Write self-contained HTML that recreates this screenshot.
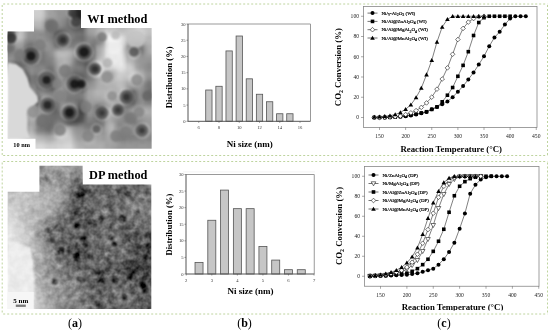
<!DOCTYPE html>
<html><head><meta charset="utf-8"><title>Figure</title>
<style>
html,body{margin:0;padding:0;background:#fff;}
body{width:550px;height:332px;overflow:hidden;position:relative;}
svg{position:absolute;left:0;top:0;display:block;}
</style></head>
<body>
<svg width="550" height="332" viewBox="0 0 550 332">
<defs><clipPath id="ct"><path d="M34 10H81V28H151.7V148.8H35.5V138.8H7.6V31.5H34Z"/></clipPath><clipPath id="cbt"><path d="M39.4 165.7H82.7V184.6H151.3V309H7.7V191.8H39.4Z"/></clipPath><filter id="bt2" x="-10%" y="-10%" width="120%" height="120%" color-interpolation-filters="sRGB"><feGaussianBlur stdDeviation="1.2"/></filter><filter id="bp" x="-30%" y="-30%" width="160%" height="160%" color-interpolation-filters="sRGB"><feGaussianBlur stdDeviation="1.1"/></filter><filter id="tx1" x="0" y="0" width="100%" height="100%" color-interpolation-filters="sRGB"><feTurbulence type="fractalNoise" baseFrequency="0.15" numOctaves="2" seed="11" result="n"/><feColorMatrix in="n" type="matrix" values="1 0 0 0 0  1 0 0 0 0  1 0 0 0 0  0 0 0 0 1" result="ng"/><feComposite in="SourceGraphic" in2="ng" operator="arithmetic" k1="-0.6" k2="1.3" k3="0.6" k4="-0.3"/></filter><filter id="tx2" x="0" y="0" width="100%" height="100%" color-interpolation-filters="sRGB"><feTurbulence type="fractalNoise" baseFrequency="0.1" numOctaves="3" seed="5" result="n"/><feColorMatrix in="n" type="matrix" values="1 0 0 0 0  1 0 0 0 0  1 0 0 0 0  0 0 0 0 1" result="ng"/><feComposite in="SourceGraphic" in2="ng" operator="arithmetic" k1="-1.3" k2="1.65" k3="1.3" k4="-0.65"/></filter></defs>
<g clip-path="url(#ct)">
<g filter="url(#bt2)"><rect x="6" y="9" width="3.3" height="3.3" fill="#272727"/><rect x="9" y="9" width="3.3" height="3.3" fill="#2b2b2b"/><rect x="12" y="9" width="3.3" height="3.3" fill="#4e4e4e"/><rect x="15" y="9" width="3.3" height="3.3" fill="#c4c4c4"/><rect x="18" y="9" width="21.3" height="3.3" fill="#cfcfcf"/><rect x="39" y="9" width="3.3" height="3.3" fill="#cdcdcd"/><rect x="42" y="9" width="3.3" height="3.3" fill="#c4c4c4"/><rect x="45" y="9" width="3.3" height="3.3" fill="#a9a9a9"/><rect x="48" y="9" width="3.3" height="3.3" fill="#a3a3a3"/><rect x="51" y="9" width="3.3" height="3.3" fill="#9f9f9f"/><rect x="54" y="9" width="3.3" height="3.3" fill="#989898"/><rect x="57" y="9" width="9.3" height="3.3" fill="#949494"/><rect x="66" y="9" width="3.3" height="3.3" fill="#8d8d8d"/><rect x="69" y="9" width="3.3" height="3.3" fill="#858585"/><rect x="72" y="9" width="3.3" height="3.3" fill="#555555"/><rect x="75" y="9" width="3.3" height="3.3" fill="#232323"/><rect x="78" y="9" width="3.3" height="3.3" fill="#0d0d0d"/><rect x="81" y="9" width="6.3" height="3.3" fill="#181818"/><rect x="87" y="9" width="9.3" height="3.3" fill="#1a1a1a"/><rect x="96" y="9" width="3.3" height="3.3" fill="#1d1d1d"/><rect x="99" y="9" width="3.3" height="3.3" fill="#646464"/><rect x="102" y="9" width="3.3" height="3.3" fill="#b1b1b1"/><rect x="105" y="9" width="3.3" height="3.3" fill="#bebebe"/><rect x="108" y="9" width="6.3" height="3.3" fill="#c3c3c3"/><rect x="114" y="9" width="3.3" height="3.3" fill="#bdbdbd"/><rect x="117" y="9" width="6.3" height="3.3" fill="#b9b9b9"/><rect x="123" y="9" width="3.3" height="3.3" fill="#bdbdbd"/><rect x="126" y="9" width="3.3" height="3.3" fill="#c2c2c2"/><rect x="129" y="9" width="3.3" height="3.3" fill="#c4c4c4"/><rect x="132" y="9" width="3.3" height="3.3" fill="#c6c6c6"/><rect x="135" y="9" width="3.3" height="3.3" fill="#cccccc"/><rect x="138" y="9" width="3.3" height="3.3" fill="#cecece"/><rect x="141" y="9" width="3.3" height="3.3" fill="#cccccc"/><rect x="144" y="9" width="3.3" height="3.3" fill="#c7c7c7"/><rect x="147" y="9" width="6.3" height="3.3" fill="#c4c4c4"/><rect x="6" y="12" width="3.3" height="3.3" fill="#272727"/><rect x="9" y="12" width="3.3" height="3.3" fill="#2b2b2b"/><rect x="12" y="12" width="3.3" height="3.3" fill="#4c4c4c"/><rect x="15" y="12" width="3.3" height="3.3" fill="#a0a0a0"/><rect x="18" y="12" width="3.3" height="3.3" fill="#cbcbcb"/><rect x="21" y="12" width="21.3" height="3.3" fill="#cecece"/><rect x="42" y="12" width="3.3" height="3.3" fill="#c4c4c4"/><rect x="45" y="12" width="3.3" height="3.3" fill="#adadad"/><rect x="48" y="12" width="6.3" height="3.3" fill="#a0a0a0"/><rect x="54" y="12" width="3.3" height="3.3" fill="#9c9c9c"/><rect x="57" y="12" width="9.3" height="3.3" fill="#939393"/><rect x="66" y="12" width="3.3" height="3.3" fill="#8e8e8e"/><rect x="69" y="12" width="3.3" height="3.3" fill="#868686"/><rect x="72" y="12" width="3.3" height="3.3" fill="#525252"/><rect x="75" y="12" width="3.3" height="3.3" fill="#1c1c1c"/><rect x="78" y="12" width="3.3" height="3.3" fill="#040404"/><rect x="81" y="12" width="6.3" height="3.3" fill="#181818"/><rect x="87" y="12" width="6.3" height="3.3" fill="#1a1a1a"/><rect x="93" y="12" width="3.3" height="3.3" fill="#1c1c1c"/><rect x="96" y="12" width="3.3" height="3.3" fill="#4a4a4a"/><rect x="99" y="12" width="3.3" height="3.3" fill="#aaaaaa"/><rect x="102" y="12" width="3.3" height="3.3" fill="#b2b2b2"/><rect x="105" y="12" width="3.3" height="3.3" fill="#bebebe"/><rect x="108" y="12" width="6.3" height="3.3" fill="#c3c3c3"/><rect x="114" y="12" width="3.3" height="3.3" fill="#bdbdbd"/><rect x="117" y="12" width="6.3" height="3.3" fill="#b9b9b9"/><rect x="123" y="12" width="3.3" height="3.3" fill="#bdbdbd"/><rect x="126" y="12" width="3.3" height="3.3" fill="#c2c2c2"/><rect x="129" y="12" width="3.3" height="3.3" fill="#c4c4c4"/><rect x="132" y="12" width="3.3" height="3.3" fill="#c6c6c6"/><rect x="135" y="12" width="3.3" height="3.3" fill="#cccccc"/><rect x="138" y="12" width="3.3" height="3.3" fill="#cecece"/><rect x="141" y="12" width="3.3" height="3.3" fill="#cccccc"/><rect x="144" y="12" width="3.3" height="3.3" fill="#c7c7c7"/><rect x="147" y="12" width="6.3" height="3.3" fill="#c4c4c4"/><rect x="6" y="15" width="3.3" height="3.3" fill="#272727"/><rect x="9" y="15" width="3.3" height="3.3" fill="#2b2b2b"/><rect x="12" y="15" width="3.3" height="3.3" fill="#4c4c4c"/><rect x="15" y="15" width="3.3" height="3.3" fill="#9e9e9e"/><rect x="18" y="15" width="3.3" height="3.3" fill="#bfbfbf"/><rect x="21" y="15" width="3.3" height="3.3" fill="#cacaca"/><rect x="24" y="15" width="15.3" height="3.3" fill="#cdcdcd"/><rect x="39" y="15" width="3.3" height="3.3" fill="#cbcbcb"/><rect x="42" y="15" width="3.3" height="3.3" fill="#c2c2c2"/><rect x="45" y="15" width="3.3" height="3.3" fill="#acacac"/><rect x="48" y="15" width="3.3" height="3.3" fill="#a2a2a2"/><rect x="51" y="15" width="3.3" height="3.3" fill="#9f9f9f"/><rect x="54" y="15" width="3.3" height="3.3" fill="#9d9d9d"/><rect x="57" y="15" width="3.3" height="3.3" fill="#959595"/><rect x="60" y="15" width="3.3" height="3.3" fill="#939393"/><rect x="63" y="15" width="3.3" height="3.3" fill="#909090"/><rect x="66" y="15" width="3.3" height="3.3" fill="#8a8a8a"/><rect x="69" y="15" width="3.3" height="3.3" fill="#7d7d7d"/><rect x="72" y="15" width="3.3" height="3.3" fill="#4b4b4b"/><rect x="75" y="15" width="3.3" height="3.3" fill="#151515"/><rect x="78" y="15" width="3.3" height="3.3" fill="#000000"/><rect x="81" y="15" width="6.3" height="3.3" fill="#191919"/><rect x="87" y="15" width="3.3" height="3.3" fill="#1b1b1b"/><rect x="90" y="15" width="3.3" height="3.3" fill="#1e1e1e"/><rect x="93" y="15" width="3.3" height="3.3" fill="#464646"/><rect x="96" y="15" width="3.3" height="3.3" fill="#a5a5a5"/><rect x="99" y="15" width="3.3" height="3.3" fill="#adadad"/><rect x="102" y="15" width="3.3" height="3.3" fill="#b2b2b2"/><rect x="105" y="15" width="3.3" height="3.3" fill="#bebebe"/><rect x="108" y="15" width="6.3" height="3.3" fill="#c3c3c3"/><rect x="114" y="15" width="3.3" height="3.3" fill="#bdbdbd"/><rect x="117" y="15" width="6.3" height="3.3" fill="#b9b9b9"/><rect x="123" y="15" width="3.3" height="3.3" fill="#bdbdbd"/><rect x="126" y="15" width="3.3" height="3.3" fill="#c2c2c2"/><rect x="129" y="15" width="3.3" height="3.3" fill="#c4c4c4"/><rect x="132" y="15" width="3.3" height="3.3" fill="#c6c6c6"/><rect x="135" y="15" width="3.3" height="3.3" fill="#cccccc"/><rect x="138" y="15" width="3.3" height="3.3" fill="#cecece"/><rect x="141" y="15" width="3.3" height="3.3" fill="#cccccc"/><rect x="144" y="15" width="3.3" height="3.3" fill="#c7c7c7"/><rect x="147" y="15" width="6.3" height="3.3" fill="#c4c4c4"/><rect x="6" y="18" width="3.3" height="3.3" fill="#272727"/><rect x="9" y="18" width="3.3" height="3.3" fill="#2b2b2b"/><rect x="12" y="18" width="3.3" height="3.3" fill="#4c4c4c"/><rect x="15" y="18" width="3.3" height="3.3" fill="#9e9e9e"/><rect x="18" y="18" width="9.3" height="3.3" fill="#bebebe"/><rect x="27" y="18" width="15.3" height="3.3" fill="#c5c5c5"/><rect x="42" y="18" width="3.3" height="3.3" fill="#b7b7b7"/><rect x="45" y="18" width="3.3" height="3.3" fill="#999999"/><rect x="48" y="18" width="3.3" height="3.3" fill="#8d8d8d"/><rect x="51" y="18" width="3.3" height="3.3" fill="#8f8f8f"/><rect x="54" y="18" width="6.3" height="3.3" fill="#959595"/><rect x="60" y="18" width="3.3" height="3.3" fill="#8f8f8f"/><rect x="63" y="18" width="3.3" height="3.3" fill="#898989"/><rect x="66" y="18" width="3.3" height="3.3" fill="#7c7c7c"/><rect x="69" y="18" width="3.3" height="3.3" fill="#727272"/><rect x="72" y="18" width="3.3" height="3.3" fill="#4b4b4b"/><rect x="75" y="18" width="3.3" height="3.3" fill="#202020"/><rect x="78" y="18" width="3.3" height="3.3" fill="#0e0e0e"/><rect x="81" y="18" width="6.3" height="3.3" fill="#212121"/><rect x="87" y="18" width="3.3" height="3.3" fill="#2a2a2a"/><rect x="90" y="18" width="3.3" height="3.3" fill="#656565"/><rect x="93" y="18" width="3.3" height="3.3" fill="#a0a0a0"/><rect x="96" y="18" width="3.3" height="3.3" fill="#ababab"/><rect x="99" y="18" width="3.3" height="3.3" fill="#aeaeae"/><rect x="102" y="18" width="3.3" height="3.3" fill="#b2b2b2"/><rect x="105" y="18" width="3.3" height="3.3" fill="#bebebe"/><rect x="108" y="18" width="6.3" height="3.3" fill="#c3c3c3"/><rect x="114" y="18" width="3.3" height="3.3" fill="#bdbdbd"/><rect x="117" y="18" width="6.3" height="3.3" fill="#b9b9b9"/><rect x="123" y="18" width="3.3" height="3.3" fill="#bdbdbd"/><rect x="126" y="18" width="3.3" height="3.3" fill="#c2c2c2"/><rect x="129" y="18" width="3.3" height="3.3" fill="#c4c4c4"/><rect x="132" y="18" width="3.3" height="3.3" fill="#c6c6c6"/><rect x="135" y="18" width="3.3" height="3.3" fill="#cccccc"/><rect x="138" y="18" width="3.3" height="3.3" fill="#cecece"/><rect x="141" y="18" width="3.3" height="3.3" fill="#cccccc"/><rect x="144" y="18" width="3.3" height="3.3" fill="#c7c7c7"/><rect x="147" y="18" width="6.3" height="3.3" fill="#c4c4c4"/><rect x="6" y="21" width="3.3" height="3.3" fill="#272727"/><rect x="9" y="21" width="3.3" height="3.3" fill="#2b2b2b"/><rect x="12" y="21" width="3.3" height="3.3" fill="#4c4c4c"/><rect x="15" y="21" width="3.3" height="3.3" fill="#9e9e9e"/><rect x="18" y="21" width="6.3" height="3.3" fill="#bebebe"/><rect x="24" y="21" width="3.3" height="3.3" fill="#a8a8a8"/><rect x="27" y="21" width="3.3" height="3.3" fill="#afafaf"/><rect x="30" y="21" width="3.3" height="3.3" fill="#b9b9b9"/><rect x="33" y="21" width="6.3" height="3.3" fill="#bbbbbb"/><rect x="39" y="21" width="3.3" height="3.3" fill="#b9b9b9"/><rect x="42" y="21" width="3.3" height="3.3" fill="#a9a9a9"/><rect x="45" y="21" width="3.3" height="3.3" fill="#7e7e7e"/><rect x="48" y="21" width="3.3" height="3.3" fill="#717171"/><rect x="51" y="21" width="3.3" height="3.3" fill="#737373"/><rect x="54" y="21" width="3.3" height="3.3" fill="#888888"/><rect x="57" y="21" width="3.3" height="3.3" fill="#919191"/><rect x="60" y="21" width="3.3" height="3.3" fill="#8c8c8c"/><rect x="63" y="21" width="3.3" height="3.3" fill="#848484"/><rect x="66" y="21" width="3.3" height="3.3" fill="#777777"/><rect x="69" y="21" width="3.3" height="3.3" fill="#6f6f6f"/><rect x="72" y="21" width="3.3" height="3.3" fill="#555555"/><rect x="75" y="21" width="3.3" height="3.3" fill="#3a3a3a"/><rect x="78" y="21" width="3.3" height="3.3" fill="#2c2c2c"/><rect x="81" y="21" width="3.3" height="3.3" fill="#3e3e3e"/><rect x="84" y="21" width="3.3" height="3.3" fill="#484848"/><rect x="87" y="21" width="3.3" height="3.3" fill="#818181"/><rect x="90" y="21" width="3.3" height="3.3" fill="#9f9f9f"/><rect x="93" y="21" width="3.3" height="3.3" fill="#a6a6a6"/><rect x="96" y="21" width="3.3" height="3.3" fill="#acacac"/><rect x="99" y="21" width="3.3" height="3.3" fill="#aeaeae"/><rect x="102" y="21" width="3.3" height="3.3" fill="#b2b2b2"/><rect x="105" y="21" width="3.3" height="3.3" fill="#bebebe"/><rect x="108" y="21" width="6.3" height="3.3" fill="#c3c3c3"/><rect x="114" y="21" width="3.3" height="3.3" fill="#bdbdbd"/><rect x="117" y="21" width="6.3" height="3.3" fill="#b9b9b9"/><rect x="123" y="21" width="3.3" height="3.3" fill="#bdbdbd"/><rect x="126" y="21" width="3.3" height="3.3" fill="#c2c2c2"/><rect x="129" y="21" width="3.3" height="3.3" fill="#c4c4c4"/><rect x="132" y="21" width="3.3" height="3.3" fill="#c6c6c6"/><rect x="135" y="21" width="3.3" height="3.3" fill="#cccccc"/><rect x="138" y="21" width="3.3" height="3.3" fill="#cecece"/><rect x="141" y="21" width="3.3" height="3.3" fill="#cccccc"/><rect x="144" y="21" width="3.3" height="3.3" fill="#c7c7c7"/><rect x="147" y="21" width="6.3" height="3.3" fill="#c4c4c4"/><rect x="6" y="24" width="3.3" height="3.3" fill="#272727"/><rect x="9" y="24" width="3.3" height="3.3" fill="#2b2b2b"/><rect x="12" y="24" width="3.3" height="3.3" fill="#4c4c4c"/><rect x="15" y="24" width="3.3" height="3.3" fill="#9e9e9e"/><rect x="18" y="24" width="6.3" height="3.3" fill="#bebebe"/><rect x="24" y="24" width="3.3" height="3.3" fill="#a6a6a6"/><rect x="27" y="24" width="3.3" height="3.3" fill="#9a9a9a"/><rect x="30" y="24" width="3.3" height="3.3" fill="#acacac"/><rect x="33" y="24" width="9.3" height="3.3" fill="#b6b6b6"/><rect x="42" y="24" width="3.3" height="3.3" fill="#a4a4a4"/><rect x="45" y="24" width="3.3" height="3.3" fill="#7b7b7b"/><rect x="48" y="24" width="3.3" height="3.3" fill="#656565"/><rect x="51" y="24" width="3.3" height="3.3" fill="#6c6c6c"/><rect x="54" y="24" width="3.3" height="3.3" fill="#808080"/><rect x="57" y="24" width="3.3" height="3.3" fill="#8d8d8d"/><rect x="60" y="24" width="3.3" height="3.3" fill="#898989"/><rect x="63" y="24" width="3.3" height="3.3" fill="#808080"/><rect x="66" y="24" width="3.3" height="3.3" fill="#737373"/><rect x="69" y="24" width="3.3" height="3.3" fill="#707070"/><rect x="72" y="24" width="3.3" height="3.3" fill="#595959"/><rect x="75" y="24" width="3.3" height="3.3" fill="#4b4b4b"/><rect x="78" y="24" width="3.3" height="3.3" fill="#464646"/><rect x="81" y="24" width="3.3" height="3.3" fill="#535353"/><rect x="84" y="24" width="3.3" height="3.3" fill="#727272"/><rect x="87" y="24" width="3.3" height="3.3" fill="#9a9a9a"/><rect x="90" y="24" width="3.3" height="3.3" fill="#a2a2a2"/><rect x="93" y="24" width="3.3" height="3.3" fill="#a6a6a6"/><rect x="96" y="24" width="6.3" height="3.3" fill="#acacac"/><rect x="102" y="24" width="3.3" height="3.3" fill="#b2b2b2"/><rect x="105" y="24" width="3.3" height="3.3" fill="#bebebe"/><rect x="108" y="24" width="6.3" height="3.3" fill="#c3c3c3"/><rect x="114" y="24" width="3.3" height="3.3" fill="#bdbdbd"/><rect x="117" y="24" width="6.3" height="3.3" fill="#b9b9b9"/><rect x="123" y="24" width="3.3" height="3.3" fill="#bdbdbd"/><rect x="126" y="24" width="3.3" height="3.3" fill="#c2c2c2"/><rect x="129" y="24" width="3.3" height="3.3" fill="#c4c4c4"/><rect x="132" y="24" width="3.3" height="3.3" fill="#c6c6c6"/><rect x="135" y="24" width="3.3" height="3.3" fill="#cccccc"/><rect x="138" y="24" width="3.3" height="3.3" fill="#cecece"/><rect x="141" y="24" width="3.3" height="3.3" fill="#cccccc"/><rect x="144" y="24" width="3.3" height="3.3" fill="#c7c7c7"/><rect x="147" y="24" width="6.3" height="3.3" fill="#c4c4c4"/><rect x="6" y="27" width="3.3" height="3.3" fill="#272727"/><rect x="9" y="27" width="3.3" height="3.3" fill="#2b2b2b"/><rect x="12" y="27" width="3.3" height="3.3" fill="#4c4c4c"/><rect x="15" y="27" width="3.3" height="3.3" fill="#9e9e9e"/><rect x="18" y="27" width="6.3" height="3.3" fill="#bebebe"/><rect x="24" y="27" width="3.3" height="3.3" fill="#a5a5a5"/><rect x="27" y="27" width="3.3" height="3.3" fill="#959595"/><rect x="30" y="27" width="3.3" height="3.3" fill="#979797"/><rect x="33" y="27" width="3.3" height="3.3" fill="#a7a7a7"/><rect x="36" y="27" width="6.3" height="3.3" fill="#acacac"/><rect x="42" y="27" width="3.3" height="3.3" fill="#a1a1a1"/><rect x="45" y="27" width="3.3" height="3.3" fill="#7e7e7e"/><rect x="48" y="27" width="3.3" height="3.3" fill="#6a6a6a"/><rect x="51" y="27" width="3.3" height="3.3" fill="#6e6e6e"/><rect x="54" y="27" width="3.3" height="3.3" fill="#757575"/><rect x="57" y="27" width="3.3" height="3.3" fill="#7c7c7c"/><rect x="60" y="27" width="3.3" height="3.3" fill="#797979"/><rect x="63" y="27" width="3.3" height="3.3" fill="#757575"/><rect x="66" y="27" width="3.3" height="3.3" fill="#737373"/><rect x="69" y="27" width="3.3" height="3.3" fill="#6e6e6e"/><rect x="72" y="27" width="3.3" height="3.3" fill="#636363"/><rect x="75" y="27" width="6.3" height="3.3" fill="#585858"/><rect x="81" y="27" width="3.3" height="3.3" fill="#5f5f5f"/><rect x="84" y="27" width="3.3" height="3.3" fill="#808080"/><rect x="87" y="27" width="3.3" height="3.3" fill="#9d9d9d"/><rect x="90" y="27" width="3.3" height="3.3" fill="#a2a2a2"/><rect x="93" y="27" width="3.3" height="3.3" fill="#a4a4a4"/><rect x="96" y="27" width="3.3" height="3.3" fill="#aeaeae"/><rect x="99" y="27" width="3.3" height="3.3" fill="#b4b4b4"/><rect x="102" y="27" width="3.3" height="3.3" fill="#b7b7b7"/><rect x="105" y="27" width="9.3" height="3.3" fill="#c2c2c2"/><rect x="114" y="27" width="3.3" height="3.3" fill="#c0c0c0"/><rect x="117" y="27" width="9.3" height="3.3" fill="#bbbbbb"/><rect x="126" y="27" width="3.3" height="3.3" fill="#c2c2c2"/><rect x="129" y="27" width="3.3" height="3.3" fill="#c4c4c4"/><rect x="132" y="27" width="3.3" height="3.3" fill="#c8c8c8"/><rect x="135" y="27" width="3.3" height="3.3" fill="#cfcfcf"/><rect x="138" y="27" width="3.3" height="3.3" fill="#d3d3d3"/><rect x="141" y="27" width="3.3" height="3.3" fill="#cccccc"/><rect x="144" y="27" width="3.3" height="3.3" fill="#c7c7c7"/><rect x="147" y="27" width="6.3" height="3.3" fill="#c4c4c4"/><rect x="6" y="30" width="3.3" height="3.3" fill="#292929"/><rect x="9" y="30" width="3.3" height="3.3" fill="#2c2c2c"/><rect x="12" y="30" width="3.3" height="3.3" fill="#505050"/><rect x="15" y="30" width="3.3" height="3.3" fill="#a3a3a3"/><rect x="18" y="30" width="3.3" height="3.3" fill="#c1c1c1"/><rect x="21" y="30" width="3.3" height="3.3" fill="#bbbbbb"/><rect x="24" y="30" width="3.3" height="3.3" fill="#a5a5a5"/><rect x="27" y="30" width="3.3" height="3.3" fill="#949494"/><rect x="30" y="30" width="3.3" height="3.3" fill="#8f8f8f"/><rect x="33" y="30" width="3.3" height="3.3" fill="#949494"/><rect x="36" y="30" width="3.3" height="3.3" fill="#929292"/><rect x="39" y="30" width="3.3" height="3.3" fill="#979797"/><rect x="42" y="30" width="3.3" height="3.3" fill="#929292"/><rect x="45" y="30" width="3.3" height="3.3" fill="#808080"/><rect x="48" y="30" width="3.3" height="3.3" fill="#7a7a7a"/><rect x="51" y="30" width="3.3" height="3.3" fill="#747474"/><rect x="54" y="30" width="3.3" height="3.3" fill="#646464"/><rect x="57" y="30" width="6.3" height="3.3" fill="#5e5e5e"/><rect x="63" y="30" width="3.3" height="3.3" fill="#6a6a6a"/><rect x="66" y="30" width="3.3" height="3.3" fill="#737373"/><rect x="69" y="30" width="3.3" height="3.3" fill="#767676"/><rect x="72" y="30" width="3.3" height="3.3" fill="#6e6e6e"/><rect x="75" y="30" width="6.3" height="3.3" fill="#6a6a6a"/><rect x="81" y="30" width="3.3" height="3.3" fill="#686868"/><rect x="84" y="30" width="3.3" height="3.3" fill="#848484"/><rect x="87" y="30" width="3.3" height="3.3" fill="#9c9c9c"/><rect x="90" y="30" width="3.3" height="3.3" fill="#a1a1a1"/><rect x="93" y="30" width="3.3" height="3.3" fill="#a5a5a5"/><rect x="96" y="30" width="3.3" height="3.3" fill="#b3b3b3"/><rect x="99" y="30" width="3.3" height="3.3" fill="#bebebe"/><rect x="102" y="30" width="3.3" height="3.3" fill="#c7c7c7"/><rect x="105" y="30" width="3.3" height="3.3" fill="#d1d1d1"/><rect x="108" y="30" width="3.3" height="3.3" fill="#cacaca"/><rect x="111" y="30" width="6.3" height="3.3" fill="#cfcfcf"/><rect x="117" y="30" width="3.3" height="3.3" fill="#c4c4c4"/><rect x="120" y="30" width="3.3" height="3.3" fill="#bebebe"/><rect x="123" y="30" width="3.3" height="3.3" fill="#c1c1c1"/><rect x="126" y="30" width="3.3" height="3.3" fill="#c3c3c3"/><rect x="129" y="30" width="3.3" height="3.3" fill="#c8c8c8"/><rect x="132" y="30" width="3.3" height="3.3" fill="#cccccc"/><rect x="135" y="30" width="6.3" height="3.3" fill="#d3d3d3"/><rect x="141" y="30" width="3.3" height="3.3" fill="#d1d1d1"/><rect x="144" y="30" width="3.3" height="3.3" fill="#c9c9c9"/><rect x="147" y="30" width="6.3" height="3.3" fill="#c3c3c3"/><rect x="6" y="33" width="3.3" height="3.3" fill="#353535"/><rect x="9" y="33" width="3.3" height="3.3" fill="#404040"/><rect x="12" y="33" width="3.3" height="3.3" fill="#606060"/><rect x="15" y="33" width="3.3" height="3.3" fill="#acacac"/><rect x="18" y="33" width="3.3" height="3.3" fill="#c5c5c5"/><rect x="21" y="33" width="3.3" height="3.3" fill="#bbbbbb"/><rect x="24" y="33" width="3.3" height="3.3" fill="#a5a5a5"/><rect x="27" y="33" width="6.3" height="3.3" fill="#929292"/><rect x="33" y="33" width="6.3" height="3.3" fill="#8f8f8f"/><rect x="39" y="33" width="6.3" height="3.3" fill="#8b8b8b"/><rect x="45" y="33" width="3.3" height="3.3" fill="#848484"/><rect x="48" y="33" width="3.3" height="3.3" fill="#7f7f7f"/><rect x="51" y="33" width="3.3" height="3.3" fill="#777777"/><rect x="54" y="33" width="3.3" height="3.3" fill="#5e5e5e"/><rect x="57" y="33" width="3.3" height="3.3" fill="#555555"/><rect x="60" y="33" width="3.3" height="3.3" fill="#5d5d5d"/><rect x="63" y="33" width="3.3" height="3.3" fill="#747474"/><rect x="66" y="33" width="3.3" height="3.3" fill="#838383"/><rect x="69" y="33" width="3.3" height="3.3" fill="#7d7d7d"/><rect x="72" y="33" width="3.3" height="3.3" fill="#7a7a7a"/><rect x="75" y="33" width="6.3" height="3.3" fill="#737373"/><rect x="81" y="33" width="3.3" height="3.3" fill="#707070"/><rect x="84" y="33" width="3.3" height="3.3" fill="#828282"/><rect x="87" y="33" width="3.3" height="3.3" fill="#969696"/><rect x="90" y="33" width="3.3" height="3.3" fill="#9a9a9a"/><rect x="93" y="33" width="3.3" height="3.3" fill="#a0a0a0"/><rect x="96" y="33" width="3.3" height="3.3" fill="#adadad"/><rect x="99" y="33" width="3.3" height="3.3" fill="#c1c1c1"/><rect x="102" y="33" width="3.3" height="3.3" fill="#d2d2d2"/><rect x="105" y="33" width="9.3" height="3.3" fill="#e3e3e3"/><rect x="114" y="33" width="3.3" height="3.3" fill="#dedede"/><rect x="117" y="33" width="3.3" height="3.3" fill="#d6d6d6"/><rect x="120" y="33" width="3.3" height="3.3" fill="#cecece"/><rect x="123" y="33" width="3.3" height="3.3" fill="#c8c8c8"/><rect x="126" y="33" width="6.3" height="3.3" fill="#c5c5c5"/><rect x="132" y="33" width="3.3" height="3.3" fill="#cecece"/><rect x="135" y="33" width="6.3" height="3.3" fill="#d4d4d4"/><rect x="141" y="33" width="3.3" height="3.3" fill="#cfcfcf"/><rect x="144" y="33" width="3.3" height="3.3" fill="#c7c7c7"/><rect x="147" y="33" width="6.3" height="3.3" fill="#bfbfbf"/><rect x="6" y="36" width="3.3" height="3.3" fill="#454545"/><rect x="9" y="36" width="3.3" height="3.3" fill="#575757"/><rect x="12" y="36" width="3.3" height="3.3" fill="#747474"/><rect x="15" y="36" width="3.3" height="3.3" fill="#b5b5b5"/><rect x="18" y="36" width="3.3" height="3.3" fill="#c5c5c5"/><rect x="21" y="36" width="3.3" height="3.3" fill="#bababa"/><rect x="24" y="36" width="3.3" height="3.3" fill="#a3a3a3"/><rect x="27" y="36" width="6.3" height="3.3" fill="#919191"/><rect x="33" y="36" width="3.3" height="3.3" fill="#8e8e8e"/><rect x="36" y="36" width="6.3" height="3.3" fill="#929292"/><rect x="42" y="36" width="3.3" height="3.3" fill="#909090"/><rect x="45" y="36" width="3.3" height="3.3" fill="#888888"/><rect x="48" y="36" width="3.3" height="3.3" fill="#828282"/><rect x="51" y="36" width="3.3" height="3.3" fill="#767676"/><rect x="54" y="36" width="3.3" height="3.3" fill="#616161"/><rect x="57" y="36" width="3.3" height="3.3" fill="#5c5c5c"/><rect x="60" y="36" width="3.3" height="3.3" fill="#737373"/><rect x="63" y="36" width="3.3" height="3.3" fill="#8b8b8b"/><rect x="66" y="36" width="3.3" height="3.3" fill="#8f8f8f"/><rect x="69" y="36" width="3.3" height="3.3" fill="#818181"/><rect x="72" y="36" width="3.3" height="3.3" fill="#7b7b7b"/><rect x="75" y="36" width="3.3" height="3.3" fill="#717171"/><rect x="78" y="36" width="3.3" height="3.3" fill="#6d6d6d"/><rect x="81" y="36" width="3.3" height="3.3" fill="#6b6b6b"/><rect x="84" y="36" width="3.3" height="3.3" fill="#7a7a7a"/><rect x="87" y="36" width="3.3" height="3.3" fill="#898989"/><rect x="90" y="36" width="6.3" height="3.3" fill="#8e8e8e"/><rect x="96" y="36" width="3.3" height="3.3" fill="#999999"/><rect x="99" y="36" width="3.3" height="3.3" fill="#ababab"/><rect x="102" y="36" width="3.3" height="3.3" fill="#c6c6c6"/><rect x="105" y="36" width="3.3" height="3.3" fill="#ebebeb"/><rect x="108" y="36" width="6.3" height="3.3" fill="#f5f5f5"/><rect x="114" y="36" width="3.3" height="3.3" fill="#efefef"/><rect x="117" y="36" width="3.3" height="3.3" fill="#ebebeb"/><rect x="120" y="36" width="3.3" height="3.3" fill="#e1e1e1"/><rect x="123" y="36" width="3.3" height="3.3" fill="#d3d3d3"/><rect x="126" y="36" width="3.3" height="3.3" fill="#c6c6c6"/><rect x="129" y="36" width="3.3" height="3.3" fill="#c4c4c4"/><rect x="132" y="36" width="3.3" height="3.3" fill="#c0c0c0"/><rect x="135" y="36" width="3.3" height="3.3" fill="#c8c8c8"/><rect x="138" y="36" width="6.3" height="3.3" fill="#c6c6c6"/><rect x="144" y="36" width="3.3" height="3.3" fill="#bdbdbd"/><rect x="147" y="36" width="3.3" height="3.3" fill="#b5b5b5"/><rect x="150" y="36" width="3.3" height="3.3" fill="#b7b7b7"/><rect x="6" y="39" width="3.3" height="3.3" fill="#656565"/><rect x="9" y="39" width="3.3" height="3.3" fill="#747474"/><rect x="12" y="39" width="3.3" height="3.3" fill="#8a8a8a"/><rect x="15" y="39" width="3.3" height="3.3" fill="#afafaf"/><rect x="18" y="39" width="3.3" height="3.3" fill="#b7b7b7"/><rect x="21" y="39" width="3.3" height="3.3" fill="#adadad"/><rect x="24" y="39" width="3.3" height="3.3" fill="#939393"/><rect x="27" y="39" width="6.3" height="3.3" fill="#888888"/><rect x="33" y="39" width="3.3" height="3.3" fill="#8a8a8a"/><rect x="36" y="39" width="3.3" height="3.3" fill="#939393"/><rect x="39" y="39" width="3.3" height="3.3" fill="#979797"/><rect x="42" y="39" width="3.3" height="3.3" fill="#959595"/><rect x="45" y="39" width="3.3" height="3.3" fill="#8d8d8d"/><rect x="48" y="39" width="3.3" height="3.3" fill="#888888"/><rect x="51" y="39" width="3.3" height="3.3" fill="#7d7d7d"/><rect x="54" y="39" width="3.3" height="3.3" fill="#676767"/><rect x="57" y="39" width="3.3" height="3.3" fill="#626262"/><rect x="60" y="39" width="3.3" height="3.3" fill="#777777"/><rect x="63" y="39" width="3.3" height="3.3" fill="#8d8d8d"/><rect x="66" y="39" width="3.3" height="3.3" fill="#929292"/><rect x="69" y="39" width="3.3" height="3.3" fill="#7d7d7d"/><rect x="72" y="39" width="3.3" height="3.3" fill="#737373"/><rect x="75" y="39" width="6.3" height="3.3" fill="#717171"/><rect x="81" y="39" width="3.3" height="3.3" fill="#6e6e6e"/><rect x="84" y="39" width="3.3" height="3.3" fill="#7a7a7a"/><rect x="87" y="39" width="3.3" height="3.3" fill="#868686"/><rect x="90" y="39" width="3.3" height="3.3" fill="#848484"/><rect x="93" y="39" width="3.3" height="3.3" fill="#7f7f7f"/><rect x="96" y="39" width="3.3" height="3.3" fill="#888888"/><rect x="99" y="39" width="3.3" height="3.3" fill="#939393"/><rect x="102" y="39" width="3.3" height="3.3" fill="#b0b0b0"/><rect x="105" y="39" width="3.3" height="3.3" fill="#e5e5e5"/><rect x="108" y="39" width="3.3" height="3.3" fill="#f2f2f2"/><rect x="111" y="39" width="3.3" height="3.3" fill="#f4f4f4"/><rect x="114" y="39" width="3.3" height="3.3" fill="#f2f2f2"/><rect x="117" y="39" width="3.3" height="3.3" fill="#eeeeee"/><rect x="120" y="39" width="3.3" height="3.3" fill="#e5e5e5"/><rect x="123" y="39" width="3.3" height="3.3" fill="#d5d5d5"/><rect x="126" y="39" width="3.3" height="3.3" fill="#c1c1c1"/><rect x="129" y="39" width="3.3" height="3.3" fill="#b8b8b8"/><rect x="132" y="39" width="6.3" height="3.3" fill="#b4b4b4"/><rect x="138" y="39" width="3.3" height="3.3" fill="#b9b9b9"/><rect x="141" y="39" width="3.3" height="3.3" fill="#bcbcbc"/><rect x="144" y="39" width="9.3" height="3.3" fill="#b7b7b7"/><rect x="6" y="42" width="3.3" height="3.3" fill="#797979"/><rect x="9" y="42" width="3.3" height="3.3" fill="#808080"/><rect x="12" y="42" width="3.3" height="3.3" fill="#898989"/><rect x="15" y="42" width="6.3" height="3.3" fill="#a5a5a5"/><rect x="21" y="42" width="3.3" height="3.3" fill="#9e9e9e"/><rect x="24" y="42" width="3.3" height="3.3" fill="#888888"/><rect x="27" y="42" width="3.3" height="3.3" fill="#7a7a7a"/><rect x="30" y="42" width="3.3" height="3.3" fill="#787878"/><rect x="33" y="42" width="3.3" height="3.3" fill="#838383"/><rect x="36" y="42" width="3.3" height="3.3" fill="#949494"/><rect x="39" y="42" width="3.3" height="3.3" fill="#9a9a9a"/><rect x="42" y="42" width="3.3" height="3.3" fill="#9d9d9d"/><rect x="45" y="42" width="3.3" height="3.3" fill="#979797"/><rect x="48" y="42" width="3.3" height="3.3" fill="#909090"/><rect x="51" y="42" width="3.3" height="3.3" fill="#838383"/><rect x="54" y="42" width="3.3" height="3.3" fill="#6a6a6a"/><rect x="57" y="42" width="3.3" height="3.3" fill="#5e5e5e"/><rect x="60" y="42" width="3.3" height="3.3" fill="#6f6f6f"/><rect x="63" y="42" width="3.3" height="3.3" fill="#828282"/><rect x="66" y="42" width="3.3" height="3.3" fill="#848484"/><rect x="69" y="42" width="3.3" height="3.3" fill="#7a7a7a"/><rect x="72" y="42" width="3.3" height="3.3" fill="#777777"/><rect x="75" y="42" width="3.3" height="3.3" fill="#7d7d7d"/><rect x="78" y="42" width="3.3" height="3.3" fill="#828282"/><rect x="81" y="42" width="3.3" height="3.3" fill="#858585"/><rect x="84" y="42" width="6.3" height="3.3" fill="#878787"/><rect x="90" y="42" width="3.3" height="3.3" fill="#7e7e7e"/><rect x="93" y="42" width="3.3" height="3.3" fill="#7b7b7b"/><rect x="96" y="42" width="3.3" height="3.3" fill="#858585"/><rect x="99" y="42" width="3.3" height="3.3" fill="#909090"/><rect x="102" y="42" width="3.3" height="3.3" fill="#a6a6a6"/><rect x="105" y="42" width="3.3" height="3.3" fill="#dbdbdb"/><rect x="108" y="42" width="12.3" height="3.3" fill="#ececec"/><rect x="120" y="42" width="3.3" height="3.3" fill="#e4e4e4"/><rect x="123" y="42" width="3.3" height="3.3" fill="#d0d0d0"/><rect x="126" y="42" width="3.3" height="3.3" fill="#b1b1b1"/><rect x="129" y="42" width="3.3" height="3.3" fill="#a8a8a8"/><rect x="132" y="42" width="3.3" height="3.3" fill="#9f9f9f"/><rect x="135" y="42" width="6.3" height="3.3" fill="#9a9a9a"/><rect x="141" y="42" width="3.3" height="3.3" fill="#a3a3a3"/><rect x="144" y="42" width="3.3" height="3.3" fill="#aeaeae"/><rect x="147" y="42" width="3.3" height="3.3" fill="#b1b1b1"/><rect x="150" y="42" width="3.3" height="3.3" fill="#b5b5b5"/><rect x="6" y="45" width="3.3" height="3.3" fill="#737373"/><rect x="9" y="45" width="3.3" height="3.3" fill="#757575"/><rect x="12" y="45" width="3.3" height="3.3" fill="#7d7d7d"/><rect x="15" y="45" width="3.3" height="3.3" fill="#999999"/><rect x="18" y="45" width="3.3" height="3.3" fill="#9c9c9c"/><rect x="21" y="45" width="3.3" height="3.3" fill="#979797"/><rect x="24" y="45" width="3.3" height="3.3" fill="#7b7b7b"/><rect x="27" y="45" width="6.3" height="3.3" fill="#6b6b6b"/><rect x="33" y="45" width="3.3" height="3.3" fill="#787878"/><rect x="36" y="45" width="3.3" height="3.3" fill="#8d8d8d"/><rect x="39" y="45" width="12.3" height="3.3" fill="#939393"/><rect x="51" y="45" width="3.3" height="3.3" fill="#8a8a8a"/><rect x="54" y="45" width="3.3" height="3.3" fill="#767676"/><rect x="57" y="45" width="3.3" height="3.3" fill="#6f6f6f"/><rect x="60" y="45" width="3.3" height="3.3" fill="#747474"/><rect x="63" y="45" width="3.3" height="3.3" fill="#808080"/><rect x="66" y="45" width="3.3" height="3.3" fill="#868686"/><rect x="69" y="45" width="3.3" height="3.3" fill="#828282"/><rect x="72" y="45" width="3.3" height="3.3" fill="#808080"/><rect x="75" y="45" width="3.3" height="3.3" fill="#8f8f8f"/><rect x="78" y="45" width="3.3" height="3.3" fill="#9e9e9e"/><rect x="81" y="45" width="3.3" height="3.3" fill="#aaaaaa"/><rect x="84" y="45" width="3.3" height="3.3" fill="#9f9f9f"/><rect x="87" y="45" width="3.3" height="3.3" fill="#888888"/><rect x="90" y="45" width="3.3" height="3.3" fill="#707070"/><rect x="93" y="45" width="3.3" height="3.3" fill="#7b7b7b"/><rect x="96" y="45" width="3.3" height="3.3" fill="#9a9a9a"/><rect x="99" y="45" width="3.3" height="3.3" fill="#a3a3a3"/><rect x="102" y="45" width="3.3" height="3.3" fill="#b5b5b5"/><rect x="105" y="45" width="3.3" height="3.3" fill="#dcdcdc"/><rect x="108" y="45" width="12.3" height="3.3" fill="#ececec"/><rect x="120" y="45" width="3.3" height="3.3" fill="#e6e6e6"/><rect x="123" y="45" width="3.3" height="3.3" fill="#c5c5c5"/><rect x="126" y="45" width="3.3" height="3.3" fill="#9b9b9b"/><rect x="129" y="45" width="3.3" height="3.3" fill="#8f8f8f"/><rect x="132" y="45" width="3.3" height="3.3" fill="#898989"/><rect x="135" y="45" width="3.3" height="3.3" fill="#7b7b7b"/><rect x="138" y="45" width="3.3" height="3.3" fill="#767676"/><rect x="141" y="45" width="3.3" height="3.3" fill="#828282"/><rect x="144" y="45" width="3.3" height="3.3" fill="#9d9d9d"/><rect x="147" y="45" width="3.3" height="3.3" fill="#ababab"/><rect x="150" y="45" width="3.3" height="3.3" fill="#adadad"/><rect x="6" y="48" width="6.3" height="3.3" fill="#757575"/><rect x="12" y="48" width="3.3" height="3.3" fill="#7a7a7a"/><rect x="15" y="48" width="3.3" height="3.3" fill="#8d8d8d"/><rect x="18" y="48" width="3.3" height="3.3" fill="#969696"/><rect x="21" y="48" width="3.3" height="3.3" fill="#8b8b8b"/><rect x="24" y="48" width="3.3" height="3.3" fill="#646464"/><rect x="27" y="48" width="3.3" height="3.3" fill="#535353"/><rect x="30" y="48" width="3.3" height="3.3" fill="#5a5a5a"/><rect x="33" y="48" width="3.3" height="3.3" fill="#6e6e6e"/><rect x="36" y="48" width="3.3" height="3.3" fill="#858585"/><rect x="39" y="48" width="6.3" height="3.3" fill="#878787"/><rect x="45" y="48" width="6.3" height="3.3" fill="#929292"/><rect x="51" y="48" width="3.3" height="3.3" fill="#8f8f8f"/><rect x="54" y="48" width="3.3" height="3.3" fill="#919191"/><rect x="57" y="48" width="3.3" height="3.3" fill="#999999"/><rect x="60" y="48" width="3.3" height="3.3" fill="#9b9b9b"/><rect x="63" y="48" width="3.3" height="3.3" fill="#a0a0a0"/><rect x="66" y="48" width="3.3" height="3.3" fill="#a2a2a2"/><rect x="69" y="48" width="3.3" height="3.3" fill="#9d9d9d"/><rect x="72" y="48" width="3.3" height="3.3" fill="#979797"/><rect x="75" y="48" width="3.3" height="3.3" fill="#9f9f9f"/><rect x="78" y="48" width="3.3" height="3.3" fill="#bbbbbb"/><rect x="81" y="48" width="3.3" height="3.3" fill="#d2d2d2"/><rect x="84" y="48" width="3.3" height="3.3" fill="#c2c2c2"/><rect x="87" y="48" width="3.3" height="3.3" fill="#9c9c9c"/><rect x="90" y="48" width="3.3" height="3.3" fill="#787878"/><rect x="93" y="48" width="3.3" height="3.3" fill="#7b7b7b"/><rect x="96" y="48" width="3.3" height="3.3" fill="#a3a3a3"/><rect x="99" y="48" width="3.3" height="3.3" fill="#adadad"/><rect x="102" y="48" width="3.3" height="3.3" fill="#bfbfbf"/><rect x="105" y="48" width="3.3" height="3.3" fill="#e1e1e1"/><rect x="108" y="48" width="9.3" height="3.3" fill="#ededed"/><rect x="117" y="48" width="3.3" height="3.3" fill="#efefef"/><rect x="120" y="48" width="3.3" height="3.3" fill="#e5e5e5"/><rect x="123" y="48" width="3.3" height="3.3" fill="#c0c0c0"/><rect x="126" y="48" width="3.3" height="3.3" fill="#9c9c9c"/><rect x="129" y="48" width="3.3" height="3.3" fill="#999999"/><rect x="132" y="48" width="3.3" height="3.3" fill="#9b9b9b"/><rect x="135" y="48" width="3.3" height="3.3" fill="#878787"/><rect x="138" y="48" width="3.3" height="3.3" fill="#757575"/><rect x="141" y="48" width="3.3" height="3.3" fill="#797979"/><rect x="144" y="48" width="3.3" height="3.3" fill="#979797"/><rect x="147" y="48" width="3.3" height="3.3" fill="#a9a9a9"/><rect x="150" y="48" width="3.3" height="3.3" fill="#b0b0b0"/><rect x="6" y="51" width="6.3" height="3.3" fill="#7d7d7d"/><rect x="12" y="51" width="3.3" height="3.3" fill="#828282"/><rect x="15" y="51" width="6.3" height="3.3" fill="#8e8e8e"/><rect x="21" y="51" width="3.3" height="3.3" fill="#818181"/><rect x="24" y="51" width="3.3" height="3.3" fill="#606060"/><rect x="27" y="51" width="3.3" height="3.3" fill="#535353"/><rect x="30" y="51" width="3.3" height="3.3" fill="#626262"/><rect x="33" y="51" width="3.3" height="3.3" fill="#797979"/><rect x="36" y="51" width="3.3" height="3.3" fill="#898989"/><rect x="39" y="51" width="3.3" height="3.3" fill="#818181"/><rect x="42" y="51" width="3.3" height="3.3" fill="#7c7c7c"/><rect x="45" y="51" width="3.3" height="3.3" fill="#878787"/><rect x="48" y="51" width="3.3" height="3.3" fill="#8d8d8d"/><rect x="51" y="51" width="3.3" height="3.3" fill="#959595"/><rect x="54" y="51" width="3.3" height="3.3" fill="#a8a8a8"/><rect x="57" y="51" width="12.3" height="3.3" fill="#b7b7b7"/><rect x="69" y="51" width="3.3" height="3.3" fill="#afafaf"/><rect x="72" y="51" width="3.3" height="3.3" fill="#a5a5a5"/><rect x="75" y="51" width="3.3" height="3.3" fill="#ababab"/><rect x="78" y="51" width="3.3" height="3.3" fill="#cecece"/><rect x="81" y="51" width="3.3" height="3.3" fill="#e3e3e3"/><rect x="84" y="51" width="3.3" height="3.3" fill="#d4d4d4"/><rect x="87" y="51" width="3.3" height="3.3" fill="#a6a6a6"/><rect x="90" y="51" width="6.3" height="3.3" fill="#7e7e7e"/><rect x="96" y="51" width="3.3" height="3.3" fill="#a1a1a1"/><rect x="99" y="51" width="3.3" height="3.3" fill="#b0b0b0"/><rect x="102" y="51" width="3.3" height="3.3" fill="#c2c2c2"/><rect x="105" y="51" width="3.3" height="3.3" fill="#e1e1e1"/><rect x="108" y="51" width="3.3" height="3.3" fill="#ededed"/><rect x="111" y="51" width="6.3" height="3.3" fill="#f0f0f0"/><rect x="117" y="51" width="3.3" height="3.3" fill="#eeeeee"/><rect x="120" y="51" width="3.3" height="3.3" fill="#e4e4e4"/><rect x="123" y="51" width="3.3" height="3.3" fill="#c6c6c6"/><rect x="126" y="51" width="3.3" height="3.3" fill="#a2a2a2"/><rect x="129" y="51" width="3.3" height="3.3" fill="#acacac"/><rect x="132" y="51" width="3.3" height="3.3" fill="#b2b2b2"/><rect x="135" y="51" width="3.3" height="3.3" fill="#999999"/><rect x="138" y="51" width="3.3" height="3.3" fill="#878787"/><rect x="141" y="51" width="3.3" height="3.3" fill="#7f7f7f"/><rect x="144" y="51" width="3.3" height="3.3" fill="#989898"/><rect x="147" y="51" width="3.3" height="3.3" fill="#a6a6a6"/><rect x="150" y="51" width="3.3" height="3.3" fill="#adadad"/><rect x="6" y="54" width="3.3" height="3.3" fill="#848484"/><rect x="9" y="54" width="3.3" height="3.3" fill="#878787"/><rect x="12" y="54" width="3.3" height="3.3" fill="#8a8a8a"/><rect x="15" y="54" width="3.3" height="3.3" fill="#8e8e8e"/><rect x="18" y="54" width="3.3" height="3.3" fill="#898989"/><rect x="21" y="54" width="3.3" height="3.3" fill="#828282"/><rect x="24" y="54" width="3.3" height="3.3" fill="#6a6a6a"/><rect x="27" y="54" width="3.3" height="3.3" fill="#6e6e6e"/><rect x="30" y="54" width="3.3" height="3.3" fill="#7d7d7d"/><rect x="33" y="54" width="3.3" height="3.3" fill="#8e8e8e"/><rect x="36" y="54" width="3.3" height="3.3" fill="#929292"/><rect x="39" y="54" width="3.3" height="3.3" fill="#808080"/><rect x="42" y="54" width="3.3" height="3.3" fill="#787878"/><rect x="45" y="54" width="3.3" height="3.3" fill="#818181"/><rect x="48" y="54" width="3.3" height="3.3" fill="#8a8a8a"/><rect x="51" y="54" width="3.3" height="3.3" fill="#919191"/><rect x="54" y="54" width="3.3" height="3.3" fill="#a8a8a8"/><rect x="57" y="54" width="3.3" height="3.3" fill="#b8b8b8"/><rect x="60" y="54" width="6.3" height="3.3" fill="#bbbbbb"/><rect x="66" y="54" width="3.3" height="3.3" fill="#b6b6b6"/><rect x="69" y="54" width="3.3" height="3.3" fill="#aeaeae"/><rect x="72" y="54" width="3.3" height="3.3" fill="#9e9e9e"/><rect x="75" y="54" width="3.3" height="3.3" fill="#a0a0a0"/><rect x="78" y="54" width="3.3" height="3.3" fill="#b8b8b8"/><rect x="81" y="54" width="3.3" height="3.3" fill="#c0c0c0"/><rect x="84" y="54" width="3.3" height="3.3" fill="#bababa"/><rect x="87" y="54" width="3.3" height="3.3" fill="#9a9a9a"/><rect x="90" y="54" width="3.3" height="3.3" fill="#7c7c7c"/><rect x="93" y="54" width="3.3" height="3.3" fill="#7e7e7e"/><rect x="96" y="54" width="3.3" height="3.3" fill="#a4a4a4"/><rect x="99" y="54" width="3.3" height="3.3" fill="#b4b4b4"/><rect x="102" y="54" width="3.3" height="3.3" fill="#c4c4c4"/><rect x="105" y="54" width="3.3" height="3.3" fill="#e2e2e2"/><rect x="108" y="54" width="3.3" height="3.3" fill="#e7e7e7"/><rect x="111" y="54" width="3.3" height="3.3" fill="#eaeaea"/><rect x="114" y="54" width="3.3" height="3.3" fill="#e8e8e8"/><rect x="117" y="54" width="3.3" height="3.3" fill="#ebebeb"/><rect x="120" y="54" width="3.3" height="3.3" fill="#e7e7e7"/><rect x="123" y="54" width="3.3" height="3.3" fill="#cccccc"/><rect x="126" y="54" width="3.3" height="3.3" fill="#ababab"/><rect x="129" y="54" width="3.3" height="3.3" fill="#b7b7b7"/><rect x="132" y="54" width="3.3" height="3.3" fill="#bdbdbd"/><rect x="135" y="54" width="3.3" height="3.3" fill="#a7a7a7"/><rect x="138" y="54" width="3.3" height="3.3" fill="#979797"/><rect x="141" y="54" width="3.3" height="3.3" fill="#8f8f8f"/><rect x="144" y="54" width="3.3" height="3.3" fill="#989898"/><rect x="147" y="54" width="6.3" height="3.3" fill="#9e9e9e"/><rect x="6" y="57" width="6.3" height="3.3" fill="#909090"/><rect x="12" y="57" width="3.3" height="3.3" fill="#8e8e8e"/><rect x="15" y="57" width="3.3" height="3.3" fill="#818181"/><rect x="18" y="57" width="3.3" height="3.3" fill="#7e7e7e"/><rect x="21" y="57" width="3.3" height="3.3" fill="#7c7c7c"/><rect x="24" y="57" width="3.3" height="3.3" fill="#717171"/><rect x="27" y="57" width="3.3" height="3.3" fill="#797979"/><rect x="30" y="57" width="3.3" height="3.3" fill="#888888"/><rect x="33" y="57" width="3.3" height="3.3" fill="#969696"/><rect x="36" y="57" width="3.3" height="3.3" fill="#909090"/><rect x="39" y="57" width="3.3" height="3.3" fill="#7c7c7c"/><rect x="42" y="57" width="3.3" height="3.3" fill="#777777"/><rect x="45" y="57" width="3.3" height="3.3" fill="#808080"/><rect x="48" y="57" width="3.3" height="3.3" fill="#838383"/><rect x="51" y="57" width="3.3" height="3.3" fill="#898989"/><rect x="54" y="57" width="3.3" height="3.3" fill="#9e9e9e"/><rect x="57" y="57" width="3.3" height="3.3" fill="#b0b0b0"/><rect x="60" y="57" width="3.3" height="3.3" fill="#b2b2b2"/><rect x="63" y="57" width="3.3" height="3.3" fill="#b4b4b4"/><rect x="66" y="57" width="3.3" height="3.3" fill="#aeaeae"/><rect x="69" y="57" width="3.3" height="3.3" fill="#a5a5a5"/><rect x="72" y="57" width="3.3" height="3.3" fill="#919191"/><rect x="75" y="57" width="3.3" height="3.3" fill="#808080"/><rect x="78" y="57" width="3.3" height="3.3" fill="#868686"/><rect x="81" y="57" width="3.3" height="3.3" fill="#898989"/><rect x="84" y="57" width="3.3" height="3.3" fill="#868686"/><rect x="87" y="57" width="3.3" height="3.3" fill="#7c7c7c"/><rect x="90" y="57" width="3.3" height="3.3" fill="#707070"/><rect x="93" y="57" width="3.3" height="3.3" fill="#858585"/><rect x="96" y="57" width="3.3" height="3.3" fill="#acacac"/><rect x="99" y="57" width="3.3" height="3.3" fill="#bdbdbd"/><rect x="102" y="57" width="3.3" height="3.3" fill="#c8c8c8"/><rect x="105" y="57" width="3.3" height="3.3" fill="#e3e3e3"/><rect x="108" y="57" width="3.3" height="3.3" fill="#ececec"/><rect x="111" y="57" width="3.3" height="3.3" fill="#eaeaea"/><rect x="114" y="57" width="3.3" height="3.3" fill="#e8e8e8"/><rect x="117" y="57" width="3.3" height="3.3" fill="#eaeaea"/><rect x="120" y="57" width="3.3" height="3.3" fill="#e7e7e7"/><rect x="123" y="57" width="3.3" height="3.3" fill="#d3d3d3"/><rect x="126" y="57" width="3.3" height="3.3" fill="#b3b3b3"/><rect x="129" y="57" width="6.3" height="3.3" fill="#b5b5b5"/><rect x="135" y="57" width="3.3" height="3.3" fill="#a5a5a5"/><rect x="138" y="57" width="3.3" height="3.3" fill="#999999"/><rect x="141" y="57" width="3.3" height="3.3" fill="#949494"/><rect x="144" y="57" width="9.3" height="3.3" fill="#969696"/><rect x="6" y="60" width="3.3" height="3.3" fill="#8f8f8f"/><rect x="9" y="60" width="3.3" height="3.3" fill="#898989"/><rect x="12" y="60" width="3.3" height="3.3" fill="#7d7d7d"/><rect x="15" y="60" width="6.3" height="3.3" fill="#717171"/><rect x="21" y="60" width="3.3" height="3.3" fill="#737373"/><rect x="24" y="60" width="3.3" height="3.3" fill="#6c6c6c"/><rect x="27" y="60" width="3.3" height="3.3" fill="#6f6f6f"/><rect x="30" y="60" width="3.3" height="3.3" fill="#797979"/><rect x="33" y="60" width="3.3" height="3.3" fill="#7c7c7c"/><rect x="36" y="60" width="3.3" height="3.3" fill="#838383"/><rect x="39" y="60" width="6.3" height="3.3" fill="#767676"/><rect x="45" y="60" width="3.3" height="3.3" fill="#7c7c7c"/><rect x="48" y="60" width="3.3" height="3.3" fill="#7f7f7f"/><rect x="51" y="60" width="3.3" height="3.3" fill="#878787"/><rect x="54" y="60" width="3.3" height="3.3" fill="#999999"/><rect x="57" y="60" width="3.3" height="3.3" fill="#aaaaaa"/><rect x="60" y="60" width="3.3" height="3.3" fill="#aeaeae"/><rect x="63" y="60" width="3.3" height="3.3" fill="#b4b4b4"/><rect x="66" y="60" width="3.3" height="3.3" fill="#aeaeae"/><rect x="69" y="60" width="3.3" height="3.3" fill="#a3a3a3"/><rect x="72" y="60" width="3.3" height="3.3" fill="#8b8b8b"/><rect x="75" y="60" width="3.3" height="3.3" fill="#747474"/><rect x="78" y="60" width="3.3" height="3.3" fill="#696969"/><rect x="81" y="60" width="3.3" height="3.3" fill="#666666"/><rect x="84" y="60" width="3.3" height="3.3" fill="#5e5e5e"/><rect x="87" y="60" width="3.3" height="3.3" fill="#636363"/><rect x="90" y="60" width="3.3" height="3.3" fill="#737373"/><rect x="93" y="60" width="3.3" height="3.3" fill="#9d9d9d"/><rect x="96" y="60" width="3.3" height="3.3" fill="#c6c6c6"/><rect x="99" y="60" width="3.3" height="3.3" fill="#cccccc"/><rect x="102" y="60" width="3.3" height="3.3" fill="#cfcfcf"/><rect x="105" y="60" width="3.3" height="3.3" fill="#ececec"/><rect x="108" y="60" width="3.3" height="3.3" fill="#f5f5f5"/><rect x="111" y="60" width="3.3" height="3.3" fill="#ededed"/><rect x="114" y="60" width="3.3" height="3.3" fill="#ebebeb"/><rect x="117" y="60" width="6.3" height="3.3" fill="#e8e8e8"/><rect x="123" y="60" width="3.3" height="3.3" fill="#d7d7d7"/><rect x="126" y="60" width="3.3" height="3.3" fill="#bababa"/><rect x="129" y="60" width="3.3" height="3.3" fill="#b7b7b7"/><rect x="132" y="60" width="3.3" height="3.3" fill="#afafaf"/><rect x="135" y="60" width="3.3" height="3.3" fill="#9e9e9e"/><rect x="138" y="60" width="6.3" height="3.3" fill="#979797"/><rect x="144" y="60" width="3.3" height="3.3" fill="#959595"/><rect x="147" y="60" width="6.3" height="3.3" fill="#929292"/><rect x="6" y="63" width="3.3" height="3.3" fill="#a3a3a3"/><rect x="9" y="63" width="3.3" height="3.3" fill="#939393"/><rect x="12" y="63" width="3.3" height="3.3" fill="#797979"/><rect x="15" y="63" width="3.3" height="3.3" fill="#606060"/><rect x="18" y="63" width="3.3" height="3.3" fill="#636363"/><rect x="21" y="63" width="6.3" height="3.3" fill="#6e6e6e"/><rect x="27" y="63" width="6.3" height="3.3" fill="#737373"/><rect x="33" y="63" width="3.3" height="3.3" fill="#777777"/><rect x="36" y="63" width="6.3" height="3.3" fill="#7d7d7d"/><rect x="42" y="63" width="9.3" height="3.3" fill="#7b7b7b"/><rect x="51" y="63" width="3.3" height="3.3" fill="#818181"/><rect x="54" y="63" width="3.3" height="3.3" fill="#939393"/><rect x="57" y="63" width="3.3" height="3.3" fill="#a9a9a9"/><rect x="60" y="63" width="3.3" height="3.3" fill="#b3b3b3"/><rect x="63" y="63" width="3.3" height="3.3" fill="#b1b1b1"/><rect x="66" y="63" width="3.3" height="3.3" fill="#acacac"/><rect x="69" y="63" width="3.3" height="3.3" fill="#9c9c9c"/><rect x="72" y="63" width="3.3" height="3.3" fill="#868686"/><rect x="75" y="63" width="3.3" height="3.3" fill="#767676"/><rect x="78" y="63" width="3.3" height="3.3" fill="#6e6e6e"/><rect x="81" y="63" width="3.3" height="3.3" fill="#696969"/><rect x="84" y="63" width="3.3" height="3.3" fill="#5b5b5b"/><rect x="87" y="63" width="3.3" height="3.3" fill="#626262"/><rect x="90" y="63" width="3.3" height="3.3" fill="#8e8e8e"/><rect x="93" y="63" width="3.3" height="3.3" fill="#cacaca"/><rect x="96" y="63" width="3.3" height="3.3" fill="#f3f3f3"/><rect x="99" y="63" width="3.3" height="3.3" fill="#e5e5e5"/><rect x="102" y="63" width="3.3" height="3.3" fill="#d4d4d4"/><rect x="105" y="63" width="3.3" height="3.3" fill="#e1e1e1"/><rect x="108" y="63" width="3.3" height="3.3" fill="#eeeeee"/><rect x="111" y="63" width="3.3" height="3.3" fill="#e9e9e9"/><rect x="114" y="63" width="6.3" height="3.3" fill="#e6e6e6"/><rect x="120" y="63" width="3.3" height="3.3" fill="#ebebeb"/><rect x="123" y="63" width="3.3" height="3.3" fill="#dbdbdb"/><rect x="126" y="63" width="3.3" height="3.3" fill="#c8c8c8"/><rect x="129" y="63" width="3.3" height="3.3" fill="#c4c4c4"/><rect x="132" y="63" width="3.3" height="3.3" fill="#b6b6b6"/><rect x="135" y="63" width="3.3" height="3.3" fill="#a3a3a3"/><rect x="138" y="63" width="3.3" height="3.3" fill="#9b9b9b"/><rect x="141" y="63" width="3.3" height="3.3" fill="#959595"/><rect x="144" y="63" width="3.3" height="3.3" fill="#919191"/><rect x="147" y="63" width="6.3" height="3.3" fill="#8b8b8b"/><rect x="6" y="66" width="3.3" height="3.3" fill="#c6c6c6"/><rect x="9" y="66" width="3.3" height="3.3" fill="#ababab"/><rect x="12" y="66" width="3.3" height="3.3" fill="#848484"/><rect x="15" y="66" width="3.3" height="3.3" fill="#595959"/><rect x="18" y="66" width="3.3" height="3.3" fill="#525252"/><rect x="21" y="66" width="3.3" height="3.3" fill="#686868"/><rect x="24" y="66" width="3.3" height="3.3" fill="#7b7b7b"/><rect x="27" y="66" width="3.3" height="3.3" fill="#858585"/><rect x="30" y="66" width="3.3" height="3.3" fill="#888888"/><rect x="33" y="66" width="3.3" height="3.3" fill="#868686"/><rect x="36" y="66" width="3.3" height="3.3" fill="#818181"/><rect x="39" y="66" width="6.3" height="3.3" fill="#858585"/><rect x="45" y="66" width="3.3" height="3.3" fill="#7a7a7a"/><rect x="48" y="66" width="3.3" height="3.3" fill="#737373"/><rect x="51" y="66" width="3.3" height="3.3" fill="#777777"/><rect x="54" y="66" width="3.3" height="3.3" fill="#8f8f8f"/><rect x="57" y="66" width="3.3" height="3.3" fill="#a6a6a6"/><rect x="60" y="66" width="3.3" height="3.3" fill="#b5b5b5"/><rect x="63" y="66" width="3.3" height="3.3" fill="#b2b2b2"/><rect x="66" y="66" width="3.3" height="3.3" fill="#a0a0a0"/><rect x="69" y="66" width="3.3" height="3.3" fill="#8e8e8e"/><rect x="72" y="66" width="3.3" height="3.3" fill="#808080"/><rect x="75" y="66" width="6.3" height="3.3" fill="#7c7c7c"/><rect x="81" y="66" width="3.3" height="3.3" fill="#757575"/><rect x="84" y="66" width="3.3" height="3.3" fill="#676767"/><rect x="87" y="66" width="3.3" height="3.3" fill="#757575"/><rect x="90" y="66" width="3.3" height="3.3" fill="#b0b0b0"/><rect x="93" y="66" width="3.3" height="3.3" fill="#fbfbfb"/><rect x="96" y="66" width="3.3" height="3.3" fill="#ffffff"/><rect x="99" y="66" width="3.3" height="3.3" fill="#f9f9f9"/><rect x="102" y="66" width="6.3" height="3.3" fill="#d6d6d6"/><rect x="108" y="66" width="6.3" height="3.3" fill="#d9d9d9"/><rect x="114" y="66" width="3.3" height="3.3" fill="#dddddd"/><rect x="117" y="66" width="6.3" height="3.3" fill="#e3e3e3"/><rect x="123" y="66" width="3.3" height="3.3" fill="#dedede"/><rect x="126" y="66" width="6.3" height="3.3" fill="#cdcdcd"/><rect x="132" y="66" width="3.3" height="3.3" fill="#c0c0c0"/><rect x="135" y="66" width="3.3" height="3.3" fill="#a6a6a6"/><rect x="138" y="66" width="3.3" height="3.3" fill="#9b9b9b"/><rect x="141" y="66" width="3.3" height="3.3" fill="#969696"/><rect x="144" y="66" width="3.3" height="3.3" fill="#8f8f8f"/><rect x="147" y="66" width="6.3" height="3.3" fill="#8a8a8a"/><rect x="6" y="69" width="3.3" height="3.3" fill="#d4d4d4"/><rect x="9" y="69" width="3.3" height="3.3" fill="#bfbfbf"/><rect x="12" y="69" width="3.3" height="3.3" fill="#8f8f8f"/><rect x="15" y="69" width="3.3" height="3.3" fill="#515151"/><rect x="18" y="69" width="3.3" height="3.3" fill="#3c3c3c"/><rect x="21" y="69" width="3.3" height="3.3" fill="#4e4e4e"/><rect x="24" y="69" width="3.3" height="3.3" fill="#6c6c6c"/><rect x="27" y="69" width="3.3" height="3.3" fill="#828282"/><rect x="30" y="69" width="3.3" height="3.3" fill="#8e8e8e"/><rect x="33" y="69" width="3.3" height="3.3" fill="#878787"/><rect x="36" y="69" width="6.3" height="3.3" fill="#858585"/><rect x="42" y="69" width="3.3" height="3.3" fill="#8a8a8a"/><rect x="45" y="69" width="3.3" height="3.3" fill="#7b7b7b"/><rect x="48" y="69" width="6.3" height="3.3" fill="#727272"/><rect x="54" y="69" width="3.3" height="3.3" fill="#8c8c8c"/><rect x="57" y="69" width="3.3" height="3.3" fill="#a8a8a8"/><rect x="60" y="69" width="3.3" height="3.3" fill="#b7b7b7"/><rect x="63" y="69" width="3.3" height="3.3" fill="#b2b2b2"/><rect x="66" y="69" width="3.3" height="3.3" fill="#9b9b9b"/><rect x="69" y="69" width="3.3" height="3.3" fill="#878787"/><rect x="72" y="69" width="3.3" height="3.3" fill="#787878"/><rect x="75" y="69" width="3.3" height="3.3" fill="#737373"/><rect x="78" y="69" width="3.3" height="3.3" fill="#777777"/><rect x="81" y="69" width="3.3" height="3.3" fill="#747474"/><rect x="84" y="69" width="3.3" height="3.3" fill="#6f6f6f"/><rect x="87" y="69" width="3.3" height="3.3" fill="#838383"/><rect x="90" y="69" width="3.3" height="3.3" fill="#bfbfbf"/><rect x="93" y="69" width="3.3" height="3.3" fill="#ffffff"/><rect x="96" y="69" width="3.3" height="3.3" fill="#ffffff"/><rect x="99" y="69" width="3.3" height="3.3" fill="#fcfcfc"/><rect x="102" y="69" width="3.3" height="3.3" fill="#cecece"/><rect x="105" y="69" width="3.3" height="3.3" fill="#c1c1c1"/><rect x="108" y="69" width="3.3" height="3.3" fill="#bebebe"/><rect x="111" y="69" width="3.3" height="3.3" fill="#c1c1c1"/><rect x="114" y="69" width="3.3" height="3.3" fill="#cacaca"/><rect x="117" y="69" width="3.3" height="3.3" fill="#d8d8d8"/><rect x="120" y="69" width="3.3" height="3.3" fill="#dcdcdc"/><rect x="123" y="69" width="3.3" height="3.3" fill="#d4d4d4"/><rect x="126" y="69" width="3.3" height="3.3" fill="#cbcbcb"/><rect x="129" y="69" width="3.3" height="3.3" fill="#cdcdcd"/><rect x="132" y="69" width="3.3" height="3.3" fill="#c6c6c6"/><rect x="135" y="69" width="3.3" height="3.3" fill="#b5b5b5"/><rect x="138" y="69" width="3.3" height="3.3" fill="#a6a6a6"/><rect x="141" y="69" width="3.3" height="3.3" fill="#a1a1a1"/><rect x="144" y="69" width="3.3" height="3.3" fill="#949494"/><rect x="147" y="69" width="3.3" height="3.3" fill="#8d8d8d"/><rect x="150" y="69" width="3.3" height="3.3" fill="#8f8f8f"/><rect x="6" y="72" width="3.3" height="3.3" fill="#e3e3e3"/><rect x="9" y="72" width="3.3" height="3.3" fill="#d2d2d2"/><rect x="12" y="72" width="3.3" height="3.3" fill="#a5a5a5"/><rect x="15" y="72" width="3.3" height="3.3" fill="#646464"/><rect x="18" y="72" width="3.3" height="3.3" fill="#3f3f3f"/><rect x="21" y="72" width="3.3" height="3.3" fill="#444444"/><rect x="24" y="72" width="3.3" height="3.3" fill="#5b5b5b"/><rect x="27" y="72" width="3.3" height="3.3" fill="#747474"/><rect x="30" y="72" width="3.3" height="3.3" fill="#8b8b8b"/><rect x="33" y="72" width="3.3" height="3.3" fill="#838383"/><rect x="36" y="72" width="3.3" height="3.3" fill="#818181"/><rect x="39" y="72" width="3.3" height="3.3" fill="#868686"/><rect x="42" y="72" width="3.3" height="3.3" fill="#8d8d8d"/><rect x="45" y="72" width="3.3" height="3.3" fill="#7f7f7f"/><rect x="48" y="72" width="3.3" height="3.3" fill="#6d6d6d"/><rect x="51" y="72" width="3.3" height="3.3" fill="#6a6a6a"/><rect x="54" y="72" width="3.3" height="3.3" fill="#818181"/><rect x="57" y="72" width="3.3" height="3.3" fill="#9f9f9f"/><rect x="60" y="72" width="3.3" height="3.3" fill="#b0b0b0"/><rect x="63" y="72" width="3.3" height="3.3" fill="#a2a2a2"/><rect x="66" y="72" width="3.3" height="3.3" fill="#8b8b8b"/><rect x="69" y="72" width="3.3" height="3.3" fill="#797979"/><rect x="72" y="72" width="3.3" height="3.3" fill="#707070"/><rect x="75" y="72" width="9.3" height="3.3" fill="#696969"/><rect x="84" y="72" width="3.3" height="3.3" fill="#6d6d6d"/><rect x="87" y="72" width="3.3" height="3.3" fill="#828282"/><rect x="90" y="72" width="3.3" height="3.3" fill="#ababab"/><rect x="93" y="72" width="3.3" height="3.3" fill="#e0e0e0"/><rect x="96" y="72" width="3.3" height="3.3" fill="#f8f8f8"/><rect x="99" y="72" width="3.3" height="3.3" fill="#e3e3e3"/><rect x="102" y="72" width="3.3" height="3.3" fill="#c6c6c6"/><rect x="105" y="72" width="3.3" height="3.3" fill="#b6b6b6"/><rect x="108" y="72" width="6.3" height="3.3" fill="#b0b0b0"/><rect x="114" y="72" width="3.3" height="3.3" fill="#bebebe"/><rect x="117" y="72" width="3.3" height="3.3" fill="#cccccc"/><rect x="120" y="72" width="3.3" height="3.3" fill="#cfcfcf"/><rect x="123" y="72" width="3.3" height="3.3" fill="#cccccc"/><rect x="126" y="72" width="3.3" height="3.3" fill="#c6c6c6"/><rect x="129" y="72" width="3.3" height="3.3" fill="#cdcdcd"/><rect x="132" y="72" width="3.3" height="3.3" fill="#d3d3d3"/><rect x="135" y="72" width="3.3" height="3.3" fill="#c8c8c8"/><rect x="138" y="72" width="3.3" height="3.3" fill="#bcbcbc"/><rect x="141" y="72" width="3.3" height="3.3" fill="#acacac"/><rect x="144" y="72" width="3.3" height="3.3" fill="#9c9c9c"/><rect x="147" y="72" width="3.3" height="3.3" fill="#949494"/><rect x="150" y="72" width="3.3" height="3.3" fill="#979797"/><rect x="6" y="75" width="3.3" height="3.3" fill="#ededed"/><rect x="9" y="75" width="3.3" height="3.3" fill="#e3e3e3"/><rect x="12" y="75" width="3.3" height="3.3" fill="#c6c6c6"/><rect x="15" y="75" width="3.3" height="3.3" fill="#919191"/><rect x="18" y="75" width="3.3" height="3.3" fill="#6a6a6a"/><rect x="21" y="75" width="3.3" height="3.3" fill="#5a5a5a"/><rect x="24" y="75" width="3.3" height="3.3" fill="#515151"/><rect x="27" y="75" width="3.3" height="3.3" fill="#666666"/><rect x="30" y="75" width="3.3" height="3.3" fill="#7a7a7a"/><rect x="33" y="75" width="3.3" height="3.3" fill="#757575"/><rect x="36" y="75" width="3.3" height="3.3" fill="#6b6b6b"/><rect x="39" y="75" width="3.3" height="3.3" fill="#737373"/><rect x="42" y="75" width="3.3" height="3.3" fill="#7f7f7f"/><rect x="45" y="75" width="3.3" height="3.3" fill="#727272"/><rect x="48" y="75" width="3.3" height="3.3" fill="#5b5b5b"/><rect x="51" y="75" width="3.3" height="3.3" fill="#4b4b4b"/><rect x="54" y="75" width="3.3" height="3.3" fill="#6c6c6c"/><rect x="57" y="75" width="3.3" height="3.3" fill="#949494"/><rect x="60" y="75" width="3.3" height="3.3" fill="#9f9f9f"/><rect x="63" y="75" width="3.3" height="3.3" fill="#919191"/><rect x="66" y="75" width="3.3" height="3.3" fill="#777777"/><rect x="69" y="75" width="3.3" height="3.3" fill="#6c6c6c"/><rect x="72" y="75" width="3.3" height="3.3" fill="#666666"/><rect x="75" y="75" width="9.3" height="3.3" fill="#606060"/><rect x="84" y="75" width="3.3" height="3.3" fill="#6a6a6a"/><rect x="87" y="75" width="3.3" height="3.3" fill="#797979"/><rect x="90" y="75" width="3.3" height="3.3" fill="#888888"/><rect x="93" y="75" width="3.3" height="3.3" fill="#ababab"/><rect x="96" y="75" width="3.3" height="3.3" fill="#bebebe"/><rect x="99" y="75" width="3.3" height="3.3" fill="#c2c2c2"/><rect x="102" y="75" width="3.3" height="3.3" fill="#bebebe"/><rect x="105" y="75" width="6.3" height="3.3" fill="#b9b9b9"/><rect x="111" y="75" width="3.3" height="3.3" fill="#b0b0b0"/><rect x="114" y="75" width="3.3" height="3.3" fill="#bdbdbd"/><rect x="117" y="75" width="3.3" height="3.3" fill="#cdcdcd"/><rect x="120" y="75" width="3.3" height="3.3" fill="#cacaca"/><rect x="123" y="75" width="3.3" height="3.3" fill="#c6c6c6"/><rect x="126" y="75" width="3.3" height="3.3" fill="#c8c8c8"/><rect x="129" y="75" width="3.3" height="3.3" fill="#d4d4d4"/><rect x="132" y="75" width="3.3" height="3.3" fill="#e0e0e0"/><rect x="135" y="75" width="3.3" height="3.3" fill="#dedede"/><rect x="138" y="75" width="3.3" height="3.3" fill="#cdcdcd"/><rect x="141" y="75" width="3.3" height="3.3" fill="#bababa"/><rect x="144" y="75" width="3.3" height="3.3" fill="#9d9d9d"/><rect x="147" y="75" width="6.3" height="3.3" fill="#939393"/><rect x="6" y="78" width="6.3" height="3.3" fill="#f2f2f2"/><rect x="12" y="78" width="3.3" height="3.3" fill="#e0e0e0"/><rect x="15" y="78" width="3.3" height="3.3" fill="#b6b6b6"/><rect x="18" y="78" width="3.3" height="3.3" fill="#919191"/><rect x="21" y="78" width="3.3" height="3.3" fill="#707070"/><rect x="24" y="78" width="3.3" height="3.3" fill="#525252"/><rect x="27" y="78" width="3.3" height="3.3" fill="#5a5a5a"/><rect x="30" y="78" width="6.3" height="3.3" fill="#767676"/><rect x="36" y="78" width="3.3" height="3.3" fill="#636363"/><rect x="39" y="78" width="3.3" height="3.3" fill="#6f6f6f"/><rect x="42" y="78" width="3.3" height="3.3" fill="#818181"/><rect x="45" y="78" width="3.3" height="3.3" fill="#6e6e6e"/><rect x="48" y="78" width="3.3" height="3.3" fill="#535353"/><rect x="51" y="78" width="3.3" height="3.3" fill="#3f3f3f"/><rect x="54" y="78" width="3.3" height="3.3" fill="#626262"/><rect x="57" y="78" width="3.3" height="3.3" fill="#8a8a8a"/><rect x="60" y="78" width="3.3" height="3.3" fill="#959595"/><rect x="63" y="78" width="3.3" height="3.3" fill="#868686"/><rect x="66" y="78" width="3.3" height="3.3" fill="#7b7b7b"/><rect x="69" y="78" width="6.3" height="3.3" fill="#808080"/><rect x="75" y="78" width="3.3" height="3.3" fill="#6d6d6d"/><rect x="78" y="78" width="3.3" height="3.3" fill="#616161"/><rect x="81" y="78" width="3.3" height="3.3" fill="#595959"/><rect x="84" y="78" width="3.3" height="3.3" fill="#6a6a6a"/><rect x="87" y="78" width="3.3" height="3.3" fill="#7a7a7a"/><rect x="90" y="78" width="3.3" height="3.3" fill="#818181"/><rect x="93" y="78" width="3.3" height="3.3" fill="#909090"/><rect x="96" y="78" width="3.3" height="3.3" fill="#a4a4a4"/><rect x="99" y="78" width="3.3" height="3.3" fill="#afafaf"/><rect x="102" y="78" width="3.3" height="3.3" fill="#b9b9b9"/><rect x="105" y="78" width="3.3" height="3.3" fill="#c1c1c1"/><rect x="108" y="78" width="3.3" height="3.3" fill="#bdbdbd"/><rect x="111" y="78" width="3.3" height="3.3" fill="#b5b5b5"/><rect x="114" y="78" width="3.3" height="3.3" fill="#c0c0c0"/><rect x="117" y="78" width="6.3" height="3.3" fill="#c6c6c6"/><rect x="123" y="78" width="6.3" height="3.3" fill="#bebebe"/><rect x="129" y="78" width="3.3" height="3.3" fill="#cccccc"/><rect x="132" y="78" width="6.3" height="3.3" fill="#dedede"/><rect x="138" y="78" width="3.3" height="3.3" fill="#cdcdcd"/><rect x="141" y="78" width="3.3" height="3.3" fill="#b6b6b6"/><rect x="144" y="78" width="3.3" height="3.3" fill="#989898"/><rect x="147" y="78" width="6.3" height="3.3" fill="#888888"/><rect x="6" y="81" width="3.3" height="3.3" fill="#f6f6f6"/><rect x="9" y="81" width="3.3" height="3.3" fill="#fafafa"/><rect x="12" y="81" width="3.3" height="3.3" fill="#f2f2f2"/><rect x="15" y="81" width="3.3" height="3.3" fill="#d0d0d0"/><rect x="18" y="81" width="3.3" height="3.3" fill="#aeaeae"/><rect x="21" y="81" width="3.3" height="3.3" fill="#858585"/><rect x="24" y="81" width="6.3" height="3.3" fill="#5c5c5c"/><rect x="30" y="81" width="6.3" height="3.3" fill="#777777"/><rect x="36" y="81" width="3.3" height="3.3" fill="#6c6c6c"/><rect x="39" y="81" width="3.3" height="3.3" fill="#6f6f6f"/><rect x="42" y="81" width="3.3" height="3.3" fill="#7d7d7d"/><rect x="45" y="81" width="3.3" height="3.3" fill="#6c6c6c"/><rect x="48" y="81" width="3.3" height="3.3" fill="#4f4f4f"/><rect x="51" y="81" width="3.3" height="3.3" fill="#424242"/><rect x="54" y="81" width="3.3" height="3.3" fill="#666666"/><rect x="57" y="81" width="3.3" height="3.3" fill="#898989"/><rect x="60" y="81" width="3.3" height="3.3" fill="#919191"/><rect x="63" y="81" width="3.3" height="3.3" fill="#8d8d8d"/><rect x="66" y="81" width="3.3" height="3.3" fill="#878787"/><rect x="69" y="81" width="3.3" height="3.3" fill="#9c9c9c"/><rect x="72" y="81" width="3.3" height="3.3" fill="#989898"/><rect x="75" y="81" width="3.3" height="3.3" fill="#818181"/><rect x="78" y="81" width="3.3" height="3.3" fill="#676767"/><rect x="81" y="81" width="3.3" height="3.3" fill="#585858"/><rect x="84" y="81" width="3.3" height="3.3" fill="#727272"/><rect x="87" y="81" width="3.3" height="3.3" fill="#898989"/><rect x="90" y="81" width="3.3" height="3.3" fill="#8d8d8d"/><rect x="93" y="81" width="3.3" height="3.3" fill="#999999"/><rect x="96" y="81" width="3.3" height="3.3" fill="#a5a5a5"/><rect x="99" y="81" width="3.3" height="3.3" fill="#b0b0b0"/><rect x="102" y="81" width="3.3" height="3.3" fill="#b9b9b9"/><rect x="105" y="81" width="3.3" height="3.3" fill="#bdbdbd"/><rect x="108" y="81" width="3.3" height="3.3" fill="#bababa"/><rect x="111" y="81" width="3.3" height="3.3" fill="#b7b7b7"/><rect x="114" y="81" width="3.3" height="3.3" fill="#bababa"/><rect x="117" y="81" width="3.3" height="3.3" fill="#bebebe"/><rect x="120" y="81" width="3.3" height="3.3" fill="#bcbcbc"/><rect x="123" y="81" width="3.3" height="3.3" fill="#b5b5b5"/><rect x="126" y="81" width="3.3" height="3.3" fill="#ababab"/><rect x="129" y="81" width="3.3" height="3.3" fill="#b6b6b6"/><rect x="132" y="81" width="6.3" height="3.3" fill="#c6c6c6"/><rect x="138" y="81" width="3.3" height="3.3" fill="#b8b8b8"/><rect x="141" y="81" width="3.3" height="3.3" fill="#a2a2a2"/><rect x="144" y="81" width="3.3" height="3.3" fill="#878787"/><rect x="147" y="81" width="6.3" height="3.3" fill="#787878"/><rect x="6" y="84" width="3.3" height="3.3" fill="#fafafa"/><rect x="9" y="84" width="3.3" height="3.3" fill="#ffffff"/><rect x="12" y="84" width="3.3" height="3.3" fill="#fcfcfc"/><rect x="15" y="84" width="3.3" height="3.3" fill="#e7e7e7"/><rect x="18" y="84" width="3.3" height="3.3" fill="#cacaca"/><rect x="21" y="84" width="3.3" height="3.3" fill="#a2a2a2"/><rect x="24" y="84" width="3.3" height="3.3" fill="#717171"/><rect x="27" y="84" width="3.3" height="3.3" fill="#676767"/><rect x="30" y="84" width="3.3" height="3.3" fill="#7f7f7f"/><rect x="33" y="84" width="3.3" height="3.3" fill="#818181"/><rect x="36" y="84" width="6.3" height="3.3" fill="#6f6f6f"/><rect x="42" y="84" width="3.3" height="3.3" fill="#727272"/><rect x="45" y="84" width="3.3" height="3.3" fill="#5f5f5f"/><rect x="48" y="84" width="3.3" height="3.3" fill="#4c4c4c"/><rect x="51" y="84" width="3.3" height="3.3" fill="#484848"/><rect x="54" y="84" width="3.3" height="3.3" fill="#686868"/><rect x="57" y="84" width="3.3" height="3.3" fill="#8e8e8e"/><rect x="60" y="84" width="3.3" height="3.3" fill="#939393"/><rect x="63" y="84" width="6.3" height="3.3" fill="#8e8e8e"/><rect x="69" y="84" width="3.3" height="3.3" fill="#a1a1a1"/><rect x="72" y="84" width="3.3" height="3.3" fill="#9a9a9a"/><rect x="75" y="84" width="3.3" height="3.3" fill="#818181"/><rect x="78" y="84" width="3.3" height="3.3" fill="#636363"/><rect x="81" y="84" width="3.3" height="3.3" fill="#555555"/><rect x="84" y="84" width="3.3" height="3.3" fill="#737373"/><rect x="87" y="84" width="3.3" height="3.3" fill="#909090"/><rect x="90" y="84" width="3.3" height="3.3" fill="#959595"/><rect x="93" y="84" width="3.3" height="3.3" fill="#9b9b9b"/><rect x="96" y="84" width="3.3" height="3.3" fill="#a9a9a9"/><rect x="99" y="84" width="6.3" height="3.3" fill="#aeaeae"/><rect x="105" y="84" width="9.3" height="3.3" fill="#b2b2b2"/><rect x="114" y="84" width="3.3" height="3.3" fill="#b5b5b5"/><rect x="117" y="84" width="6.3" height="3.3" fill="#bdbdbd"/><rect x="123" y="84" width="3.3" height="3.3" fill="#b4b4b4"/><rect x="126" y="84" width="6.3" height="3.3" fill="#a3a3a3"/><rect x="132" y="84" width="3.3" height="3.3" fill="#aeaeae"/><rect x="135" y="84" width="3.3" height="3.3" fill="#ababab"/><rect x="138" y="84" width="3.3" height="3.3" fill="#a3a3a3"/><rect x="141" y="84" width="3.3" height="3.3" fill="#949494"/><rect x="144" y="84" width="3.3" height="3.3" fill="#7e7e7e"/><rect x="147" y="84" width="3.3" height="3.3" fill="#747474"/><rect x="150" y="84" width="3.3" height="3.3" fill="#767676"/><rect x="6" y="87" width="3.3" height="3.3" fill="#fafafa"/><rect x="9" y="87" width="3.3" height="3.3" fill="#ffffff"/><rect x="12" y="87" width="3.3" height="3.3" fill="#ffffff"/><rect x="15" y="87" width="3.3" height="3.3" fill="#f6f6f6"/><rect x="18" y="87" width="3.3" height="3.3" fill="#dedede"/><rect x="21" y="87" width="3.3" height="3.3" fill="#b8b8b8"/><rect x="24" y="87" width="3.3" height="3.3" fill="#898989"/><rect x="27" y="87" width="3.3" height="3.3" fill="#757575"/><rect x="30" y="87" width="3.3" height="3.3" fill="#848484"/><rect x="33" y="87" width="3.3" height="3.3" fill="#878787"/><rect x="36" y="87" width="3.3" height="3.3" fill="#747474"/><rect x="39" y="87" width="3.3" height="3.3" fill="#707070"/><rect x="42" y="87" width="3.3" height="3.3" fill="#6d6d6d"/><rect x="45" y="87" width="3.3" height="3.3" fill="#5e5e5e"/><rect x="48" y="87" width="3.3" height="3.3" fill="#535353"/><rect x="51" y="87" width="3.3" height="3.3" fill="#565656"/><rect x="54" y="87" width="3.3" height="3.3" fill="#767676"/><rect x="57" y="87" width="3.3" height="3.3" fill="#949494"/><rect x="60" y="87" width="3.3" height="3.3" fill="#979797"/><rect x="63" y="87" width="3.3" height="3.3" fill="#8b8b8b"/><rect x="66" y="87" width="3.3" height="3.3" fill="#868686"/><rect x="69" y="87" width="3.3" height="3.3" fill="#919191"/><rect x="72" y="87" width="3.3" height="3.3" fill="#8d8d8d"/><rect x="75" y="87" width="3.3" height="3.3" fill="#737373"/><rect x="78" y="87" width="3.3" height="3.3" fill="#5c5c5c"/><rect x="81" y="87" width="3.3" height="3.3" fill="#545454"/><rect x="84" y="87" width="3.3" height="3.3" fill="#757575"/><rect x="87" y="87" width="3.3" height="3.3" fill="#959595"/><rect x="90" y="87" width="3.3" height="3.3" fill="#9c9c9c"/><rect x="93" y="87" width="3.3" height="3.3" fill="#a2a2a2"/><rect x="96" y="87" width="3.3" height="3.3" fill="#ababab"/><rect x="99" y="87" width="9.3" height="3.3" fill="#afafaf"/><rect x="108" y="87" width="3.3" height="3.3" fill="#b4b4b4"/><rect x="111" y="87" width="6.3" height="3.3" fill="#b2b2b2"/><rect x="117" y="87" width="3.3" height="3.3" fill="#b8b8b8"/><rect x="120" y="87" width="3.3" height="3.3" fill="#bfbfbf"/><rect x="123" y="87" width="3.3" height="3.3" fill="#b6b6b6"/><rect x="126" y="87" width="3.3" height="3.3" fill="#9c9c9c"/><rect x="129" y="87" width="3.3" height="3.3" fill="#8f8f8f"/><rect x="132" y="87" width="3.3" height="3.3" fill="#8c8c8c"/><rect x="135" y="87" width="3.3" height="3.3" fill="#929292"/><rect x="138" y="87" width="3.3" height="3.3" fill="#979797"/><rect x="141" y="87" width="3.3" height="3.3" fill="#8d8d8d"/><rect x="144" y="87" width="3.3" height="3.3" fill="#7e7e7e"/><rect x="147" y="87" width="3.3" height="3.3" fill="#757575"/><rect x="150" y="87" width="3.3" height="3.3" fill="#6e6e6e"/><rect x="6" y="90" width="3.3" height="3.3" fill="#fafafa"/><rect x="9" y="90" width="3.3" height="3.3" fill="#ffffff"/><rect x="12" y="90" width="3.3" height="3.3" fill="#ffffff"/><rect x="15" y="90" width="3.3" height="3.3" fill="#fcfcfc"/><rect x="18" y="90" width="3.3" height="3.3" fill="#ededed"/><rect x="21" y="90" width="3.3" height="3.3" fill="#c9c9c9"/><rect x="24" y="90" width="3.3" height="3.3" fill="#a1a1a1"/><rect x="27" y="90" width="3.3" height="3.3" fill="#858585"/><rect x="30" y="90" width="3.3" height="3.3" fill="#898989"/><rect x="33" y="90" width="3.3" height="3.3" fill="#878787"/><rect x="36" y="90" width="3.3" height="3.3" fill="#7f7f7f"/><rect x="39" y="90" width="3.3" height="3.3" fill="#818181"/><rect x="42" y="90" width="3.3" height="3.3" fill="#7f7f7f"/><rect x="45" y="90" width="3.3" height="3.3" fill="#767676"/><rect x="48" y="90" width="6.3" height="3.3" fill="#737373"/><rect x="54" y="90" width="3.3" height="3.3" fill="#888888"/><rect x="57" y="90" width="6.3" height="3.3" fill="#979797"/><rect x="63" y="90" width="3.3" height="3.3" fill="#8a8a8a"/><rect x="66" y="90" width="3.3" height="3.3" fill="#818181"/><rect x="69" y="90" width="6.3" height="3.3" fill="#838383"/><rect x="75" y="90" width="3.3" height="3.3" fill="#797979"/><rect x="78" y="90" width="3.3" height="3.3" fill="#707070"/><rect x="81" y="90" width="3.3" height="3.3" fill="#6d6d6d"/><rect x="84" y="90" width="3.3" height="3.3" fill="#888888"/><rect x="87" y="90" width="3.3" height="3.3" fill="#a3a3a3"/><rect x="90" y="90" width="3.3" height="3.3" fill="#a6a6a6"/><rect x="93" y="90" width="3.3" height="3.3" fill="#aeaeae"/><rect x="96" y="90" width="3.3" height="3.3" fill="#b5b5b5"/><rect x="99" y="90" width="3.3" height="3.3" fill="#b3b3b3"/><rect x="102" y="90" width="3.3" height="3.3" fill="#b5b5b5"/><rect x="105" y="90" width="3.3" height="3.3" fill="#b7b7b7"/><rect x="108" y="90" width="6.3" height="3.3" fill="#bfbfbf"/><rect x="114" y="90" width="6.3" height="3.3" fill="#b4b4b4"/><rect x="120" y="90" width="3.3" height="3.3" fill="#c3c3c3"/><rect x="123" y="90" width="3.3" height="3.3" fill="#b2b2b2"/><rect x="126" y="90" width="3.3" height="3.3" fill="#8a8a8a"/><rect x="129" y="90" width="3.3" height="3.3" fill="#696969"/><rect x="132" y="90" width="3.3" height="3.3" fill="#636363"/><rect x="135" y="90" width="3.3" height="3.3" fill="#7e7e7e"/><rect x="138" y="90" width="3.3" height="3.3" fill="#8e8e8e"/><rect x="141" y="90" width="3.3" height="3.3" fill="#898989"/><rect x="144" y="90" width="3.3" height="3.3" fill="#7c7c7c"/><rect x="147" y="90" width="3.3" height="3.3" fill="#6e6e6e"/><rect x="150" y="90" width="3.3" height="3.3" fill="#6a6a6a"/><rect x="6" y="93" width="3.3" height="3.3" fill="#fafafa"/><rect x="9" y="93" width="3.3" height="3.3" fill="#ffffff"/><rect x="12" y="93" width="3.3" height="3.3" fill="#ffffff"/><rect x="15" y="93" width="3.3" height="3.3" fill="#ffffff"/><rect x="18" y="93" width="3.3" height="3.3" fill="#f1f1f1"/><rect x="21" y="93" width="3.3" height="3.3" fill="#d4d4d4"/><rect x="24" y="93" width="3.3" height="3.3" fill="#b3b3b3"/><rect x="27" y="93" width="3.3" height="3.3" fill="#8d8d8d"/><rect x="30" y="93" width="3.3" height="3.3" fill="#838383"/><rect x="33" y="93" width="3.3" height="3.3" fill="#767676"/><rect x="36" y="93" width="3.3" height="3.3" fill="#787878"/><rect x="39" y="93" width="3.3" height="3.3" fill="#8b8b8b"/><rect x="42" y="93" width="3.3" height="3.3" fill="#939393"/><rect x="45" y="93" width="3.3" height="3.3" fill="#8e8e8e"/><rect x="48" y="93" width="6.3" height="3.3" fill="#868686"/><rect x="54" y="93" width="3.3" height="3.3" fill="#8e8e8e"/><rect x="57" y="93" width="6.3" height="3.3" fill="#979797"/><rect x="63" y="93" width="3.3" height="3.3" fill="#898989"/><rect x="66" y="93" width="6.3" height="3.3" fill="#7f7f7f"/><rect x="72" y="93" width="3.3" height="3.3" fill="#818181"/><rect x="75" y="93" width="3.3" height="3.3" fill="#7a7a7a"/><rect x="78" y="93" width="3.3" height="3.3" fill="#7c7c7c"/><rect x="81" y="93" width="3.3" height="3.3" fill="#7f7f7f"/><rect x="84" y="93" width="3.3" height="3.3" fill="#929292"/><rect x="87" y="93" width="3.3" height="3.3" fill="#a3a3a3"/><rect x="90" y="93" width="3.3" height="3.3" fill="#a7a7a7"/><rect x="93" y="93" width="3.3" height="3.3" fill="#adadad"/><rect x="96" y="93" width="9.3" height="3.3" fill="#b2b2b2"/><rect x="105" y="93" width="3.3" height="3.3" fill="#c0c0c0"/><rect x="108" y="93" width="3.3" height="3.3" fill="#cacaca"/><rect x="111" y="93" width="3.3" height="3.3" fill="#c7c7c7"/><rect x="114" y="93" width="3.3" height="3.3" fill="#b7b7b7"/><rect x="117" y="93" width="3.3" height="3.3" fill="#bbbbbb"/><rect x="120" y="93" width="3.3" height="3.3" fill="#d1d1d1"/><rect x="123" y="93" width="3.3" height="3.3" fill="#c3c3c3"/><rect x="126" y="93" width="3.3" height="3.3" fill="#929292"/><rect x="129" y="93" width="3.3" height="3.3" fill="#666666"/><rect x="132" y="93" width="3.3" height="3.3" fill="#595959"/><rect x="135" y="93" width="3.3" height="3.3" fill="#767676"/><rect x="138" y="93" width="3.3" height="3.3" fill="#8a8a8a"/><rect x="141" y="93" width="3.3" height="3.3" fill="#8d8d8d"/><rect x="144" y="93" width="3.3" height="3.3" fill="#808080"/><rect x="147" y="93" width="3.3" height="3.3" fill="#747474"/><rect x="150" y="93" width="3.3" height="3.3" fill="#6d6d6d"/><rect x="6" y="96" width="3.3" height="3.3" fill="#fafafa"/><rect x="9" y="96" width="3.3" height="3.3" fill="#ffffff"/><rect x="12" y="96" width="3.3" height="3.3" fill="#ffffff"/><rect x="15" y="96" width="3.3" height="3.3" fill="#ffffff"/><rect x="18" y="96" width="3.3" height="3.3" fill="#f6f6f6"/><rect x="21" y="96" width="3.3" height="3.3" fill="#d9d9d9"/><rect x="24" y="96" width="3.3" height="3.3" fill="#b8b8b8"/><rect x="27" y="96" width="3.3" height="3.3" fill="#919191"/><rect x="30" y="96" width="3.3" height="3.3" fill="#767676"/><rect x="33" y="96" width="6.3" height="3.3" fill="#616161"/><rect x="39" y="96" width="3.3" height="3.3" fill="#838383"/><rect x="42" y="96" width="3.3" height="3.3" fill="#9d9d9d"/><rect x="45" y="96" width="3.3" height="3.3" fill="#959595"/><rect x="48" y="96" width="3.3" height="3.3" fill="#8b8b8b"/><rect x="51" y="96" width="3.3" height="3.3" fill="#848484"/><rect x="54" y="96" width="3.3" height="3.3" fill="#878787"/><rect x="57" y="96" width="6.3" height="3.3" fill="#919191"/><rect x="63" y="96" width="3.3" height="3.3" fill="#888888"/><rect x="66" y="96" width="3.3" height="3.3" fill="#7b7b7b"/><rect x="69" y="96" width="12.3" height="3.3" fill="#787878"/><rect x="81" y="96" width="3.3" height="3.3" fill="#7e7e7e"/><rect x="84" y="96" width="3.3" height="3.3" fill="#919191"/><rect x="87" y="96" width="6.3" height="3.3" fill="#a4a4a4"/><rect x="93" y="96" width="3.3" height="3.3" fill="#a9a9a9"/><rect x="96" y="96" width="6.3" height="3.3" fill="#ababab"/><rect x="102" y="96" width="3.3" height="3.3" fill="#b1b1b1"/><rect x="105" y="96" width="3.3" height="3.3" fill="#bebebe"/><rect x="108" y="96" width="3.3" height="3.3" fill="#c9c9c9"/><rect x="111" y="96" width="3.3" height="3.3" fill="#c3c3c3"/><rect x="114" y="96" width="6.3" height="3.3" fill="#b5b5b5"/><rect x="120" y="96" width="3.3" height="3.3" fill="#d3d3d3"/><rect x="123" y="96" width="3.3" height="3.3" fill="#c7c7c7"/><rect x="126" y="96" width="3.3" height="3.3" fill="#929292"/><rect x="129" y="96" width="3.3" height="3.3" fill="#676767"/><rect x="132" y="96" width="3.3" height="3.3" fill="#595959"/><rect x="135" y="96" width="3.3" height="3.3" fill="#757575"/><rect x="138" y="96" width="3.3" height="3.3" fill="#8a8a8a"/><rect x="141" y="96" width="3.3" height="3.3" fill="#909090"/><rect x="144" y="96" width="3.3" height="3.3" fill="#868686"/><rect x="147" y="96" width="3.3" height="3.3" fill="#797979"/><rect x="150" y="96" width="3.3" height="3.3" fill="#717171"/><rect x="6" y="99" width="3.3" height="3.3" fill="#fafafa"/><rect x="9" y="99" width="3.3" height="3.3" fill="#ffffff"/><rect x="12" y="99" width="3.3" height="3.3" fill="#ffffff"/><rect x="15" y="99" width="3.3" height="3.3" fill="#ffffff"/><rect x="18" y="99" width="3.3" height="3.3" fill="#f1f1f1"/><rect x="21" y="99" width="3.3" height="3.3" fill="#d8d8d8"/><rect x="24" y="99" width="3.3" height="3.3" fill="#b3b3b3"/><rect x="27" y="99" width="3.3" height="3.3" fill="#8e8e8e"/><rect x="30" y="99" width="3.3" height="3.3" fill="#717171"/><rect x="33" y="99" width="3.3" height="3.3" fill="#575757"/><rect x="36" y="99" width="3.3" height="3.3" fill="#535353"/><rect x="39" y="99" width="3.3" height="3.3" fill="#777777"/><rect x="42" y="99" width="3.3" height="3.3" fill="#939393"/><rect x="45" y="99" width="3.3" height="3.3" fill="#878787"/><rect x="48" y="99" width="3.3" height="3.3" fill="#737373"/><rect x="51" y="99" width="3.3" height="3.3" fill="#626262"/><rect x="54" y="99" width="3.3" height="3.3" fill="#717171"/><rect x="57" y="99" width="3.3" height="3.3" fill="#868686"/><rect x="60" y="99" width="3.3" height="3.3" fill="#8c8c8c"/><rect x="63" y="99" width="3.3" height="3.3" fill="#848484"/><rect x="66" y="99" width="3.3" height="3.3" fill="#7b7b7b"/><rect x="69" y="99" width="6.3" height="3.3" fill="#797979"/><rect x="75" y="99" width="3.3" height="3.3" fill="#727272"/><rect x="78" y="99" width="3.3" height="3.3" fill="#6e6e6e"/><rect x="81" y="99" width="3.3" height="3.3" fill="#737373"/><rect x="84" y="99" width="3.3" height="3.3" fill="#8a8a8a"/><rect x="87" y="99" width="3.3" height="3.3" fill="#9e9e9e"/><rect x="90" y="99" width="6.3" height="3.3" fill="#a1a1a1"/><rect x="96" y="99" width="9.3" height="3.3" fill="#a3a3a3"/><rect x="105" y="99" width="3.3" height="3.3" fill="#b0b0b0"/><rect x="108" y="99" width="3.3" height="3.3" fill="#bbbbbb"/><rect x="111" y="99" width="3.3" height="3.3" fill="#b9b9b9"/><rect x="114" y="99" width="3.3" height="3.3" fill="#ababab"/><rect x="117" y="99" width="3.3" height="3.3" fill="#a6a6a6"/><rect x="120" y="99" width="3.3" height="3.3" fill="#bababa"/><rect x="123" y="99" width="3.3" height="3.3" fill="#acacac"/><rect x="126" y="99" width="3.3" height="3.3" fill="#7d7d7d"/><rect x="129" y="99" width="3.3" height="3.3" fill="#5d5d5d"/><rect x="132" y="99" width="3.3" height="3.3" fill="#545454"/><rect x="135" y="99" width="3.3" height="3.3" fill="#767676"/><rect x="138" y="99" width="3.3" height="3.3" fill="#868686"/><rect x="141" y="99" width="3.3" height="3.3" fill="#8e8e8e"/><rect x="144" y="99" width="3.3" height="3.3" fill="#848484"/><rect x="147" y="99" width="3.3" height="3.3" fill="#7e7e7e"/><rect x="150" y="99" width="3.3" height="3.3" fill="#757575"/><rect x="6" y="102" width="3.3" height="3.3" fill="#fafafa"/><rect x="9" y="102" width="3.3" height="3.3" fill="#ffffff"/><rect x="12" y="102" width="3.3" height="3.3" fill="#ffffff"/><rect x="15" y="102" width="3.3" height="3.3" fill="#ffffff"/><rect x="18" y="102" width="3.3" height="3.3" fill="#f1f1f1"/><rect x="21" y="102" width="3.3" height="3.3" fill="#d7d7d7"/><rect x="24" y="102" width="3.3" height="3.3" fill="#b6b6b6"/><rect x="27" y="102" width="3.3" height="3.3" fill="#999999"/><rect x="30" y="102" width="3.3" height="3.3" fill="#888888"/><rect x="33" y="102" width="3.3" height="3.3" fill="#6b6b6b"/><rect x="36" y="102" width="3.3" height="3.3" fill="#5d5d5d"/><rect x="39" y="102" width="3.3" height="3.3" fill="#7d7d7d"/><rect x="42" y="102" width="3.3" height="3.3" fill="#949494"/><rect x="45" y="102" width="3.3" height="3.3" fill="#7e7e7e"/><rect x="48" y="102" width="3.3" height="3.3" fill="#5a5a5a"/><rect x="51" y="102" width="3.3" height="3.3" fill="#4b4b4b"/><rect x="54" y="102" width="3.3" height="3.3" fill="#656565"/><rect x="57" y="102" width="3.3" height="3.3" fill="#7b7b7b"/><rect x="60" y="102" width="6.3" height="3.3" fill="#8d8d8d"/><rect x="66" y="102" width="3.3" height="3.3" fill="#8a8a8a"/><rect x="69" y="102" width="3.3" height="3.3" fill="#8c8c8c"/><rect x="72" y="102" width="3.3" height="3.3" fill="#848484"/><rect x="75" y="102" width="3.3" height="3.3" fill="#777777"/><rect x="78" y="102" width="3.3" height="3.3" fill="#666666"/><rect x="81" y="102" width="3.3" height="3.3" fill="#696969"/><rect x="84" y="102" width="3.3" height="3.3" fill="#818181"/><rect x="87" y="102" width="6.3" height="3.3" fill="#9f9f9f"/><rect x="93" y="102" width="3.3" height="3.3" fill="#999999"/><rect x="96" y="102" width="6.3" height="3.3" fill="#919191"/><rect x="102" y="102" width="3.3" height="3.3" fill="#969696"/><rect x="105" y="102" width="3.3" height="3.3" fill="#a1a1a1"/><rect x="108" y="102" width="3.3" height="3.3" fill="#adadad"/><rect x="111" y="102" width="3.3" height="3.3" fill="#b0b0b0"/><rect x="114" y="102" width="3.3" height="3.3" fill="#a5a5a5"/><rect x="117" y="102" width="3.3" height="3.3" fill="#a0a0a0"/><rect x="120" y="102" width="3.3" height="3.3" fill="#9c9c9c"/><rect x="123" y="102" width="3.3" height="3.3" fill="#878787"/><rect x="126" y="102" width="3.3" height="3.3" fill="#6b6b6b"/><rect x="129" y="102" width="3.3" height="3.3" fill="#5a5a5a"/><rect x="132" y="102" width="3.3" height="3.3" fill="#626262"/><rect x="135" y="102" width="3.3" height="3.3" fill="#7f7f7f"/><rect x="138" y="102" width="3.3" height="3.3" fill="#8b8b8b"/><rect x="141" y="102" width="3.3" height="3.3" fill="#909090"/><rect x="144" y="102" width="3.3" height="3.3" fill="#878787"/><rect x="147" y="102" width="6.3" height="3.3" fill="#838383"/><rect x="6" y="105" width="3.3" height="3.3" fill="#fafafa"/><rect x="9" y="105" width="3.3" height="3.3" fill="#ffffff"/><rect x="12" y="105" width="3.3" height="3.3" fill="#ffffff"/><rect x="15" y="105" width="3.3" height="3.3" fill="#fbfbfb"/><rect x="18" y="105" width="3.3" height="3.3" fill="#e8e8e8"/><rect x="21" y="105" width="3.3" height="3.3" fill="#d7d7d7"/><rect x="24" y="105" width="3.3" height="3.3" fill="#c0c0c0"/><rect x="27" y="105" width="3.3" height="3.3" fill="#b7b7b7"/><rect x="30" y="105" width="3.3" height="3.3" fill="#afafaf"/><rect x="33" y="105" width="3.3" height="3.3" fill="#929292"/><rect x="36" y="105" width="3.3" height="3.3" fill="#787878"/><rect x="39" y="105" width="3.3" height="3.3" fill="#878787"/><rect x="42" y="105" width="3.3" height="3.3" fill="#8f8f8f"/><rect x="45" y="105" width="3.3" height="3.3" fill="#777777"/><rect x="48" y="105" width="3.3" height="3.3" fill="#565656"/><rect x="51" y="105" width="3.3" height="3.3" fill="#444444"/><rect x="54" y="105" width="3.3" height="3.3" fill="#5d5d5d"/><rect x="57" y="105" width="3.3" height="3.3" fill="#787878"/><rect x="60" y="105" width="3.3" height="3.3" fill="#8e8e8e"/><rect x="63" y="105" width="3.3" height="3.3" fill="#a1a1a1"/><rect x="66" y="105" width="3.3" height="3.3" fill="#ababab"/><rect x="69" y="105" width="3.3" height="3.3" fill="#afafaf"/><rect x="72" y="105" width="3.3" height="3.3" fill="#999999"/><rect x="75" y="105" width="3.3" height="3.3" fill="#767676"/><rect x="78" y="105" width="3.3" height="3.3" fill="#5a5a5a"/><rect x="81" y="105" width="3.3" height="3.3" fill="#525252"/><rect x="84" y="105" width="3.3" height="3.3" fill="#747474"/><rect x="87" y="105" width="6.3" height="3.3" fill="#9b9b9b"/><rect x="93" y="105" width="3.3" height="3.3" fill="#878787"/><rect x="96" y="105" width="3.3" height="3.3" fill="#6e6e6e"/><rect x="99" y="105" width="3.3" height="3.3" fill="#717171"/><rect x="102" y="105" width="3.3" height="3.3" fill="#808080"/><rect x="105" y="105" width="3.3" height="3.3" fill="#9a9a9a"/><rect x="108" y="105" width="3.3" height="3.3" fill="#a7a7a7"/><rect x="111" y="105" width="3.3" height="3.3" fill="#adadad"/><rect x="114" y="105" width="3.3" height="3.3" fill="#a6a6a6"/><rect x="117" y="105" width="3.3" height="3.3" fill="#989898"/><rect x="120" y="105" width="3.3" height="3.3" fill="#838383"/><rect x="123" y="105" width="6.3" height="3.3" fill="#757575"/><rect x="129" y="105" width="3.3" height="3.3" fill="#777777"/><rect x="132" y="105" width="3.3" height="3.3" fill="#848484"/><rect x="135" y="105" width="3.3" height="3.3" fill="#969696"/><rect x="138" y="105" width="6.3" height="3.3" fill="#9d9d9d"/><rect x="144" y="105" width="6.3" height="3.3" fill="#9a9a9a"/><rect x="150" y="105" width="3.3" height="3.3" fill="#969696"/><rect x="6" y="108" width="3.3" height="3.3" fill="#fafafa"/><rect x="9" y="108" width="3.3" height="3.3" fill="#ffffff"/><rect x="12" y="108" width="3.3" height="3.3" fill="#ffffff"/><rect x="15" y="108" width="3.3" height="3.3" fill="#f8f8f8"/><rect x="18" y="108" width="3.3" height="3.3" fill="#e6e6e6"/><rect x="21" y="108" width="3.3" height="3.3" fill="#d4d4d4"/><rect x="24" y="108" width="3.3" height="3.3" fill="#c4c4c4"/><rect x="27" y="108" width="3.3" height="3.3" fill="#cacaca"/><rect x="30" y="108" width="3.3" height="3.3" fill="#d1d1d1"/><rect x="33" y="108" width="3.3" height="3.3" fill="#b4b4b4"/><rect x="36" y="108" width="3.3" height="3.3" fill="#939393"/><rect x="39" y="108" width="3.3" height="3.3" fill="#8f8f8f"/><rect x="42" y="108" width="3.3" height="3.3" fill="#8d8d8d"/><rect x="45" y="108" width="3.3" height="3.3" fill="#767676"/><rect x="48" y="108" width="3.3" height="3.3" fill="#5f5f5f"/><rect x="51" y="108" width="3.3" height="3.3" fill="#525252"/><rect x="54" y="108" width="3.3" height="3.3" fill="#5e5e5e"/><rect x="57" y="108" width="3.3" height="3.3" fill="#777777"/><rect x="60" y="108" width="3.3" height="3.3" fill="#8c8c8c"/><rect x="63" y="108" width="3.3" height="3.3" fill="#acacac"/><rect x="66" y="108" width="3.3" height="3.3" fill="#bcbcbc"/><rect x="69" y="108" width="3.3" height="3.3" fill="#bebebe"/><rect x="72" y="108" width="3.3" height="3.3" fill="#9f9f9f"/><rect x="75" y="108" width="3.3" height="3.3" fill="#6e6e6e"/><rect x="78" y="108" width="3.3" height="3.3" fill="#474747"/><rect x="81" y="108" width="3.3" height="3.3" fill="#424242"/><rect x="84" y="108" width="3.3" height="3.3" fill="#6d6d6d"/><rect x="87" y="108" width="3.3" height="3.3" fill="#959595"/><rect x="90" y="108" width="3.3" height="3.3" fill="#999999"/><rect x="93" y="108" width="3.3" height="3.3" fill="#7d7d7d"/><rect x="96" y="108" width="3.3" height="3.3" fill="#666666"/><rect x="99" y="108" width="3.3" height="3.3" fill="#717171"/><rect x="102" y="108" width="3.3" height="3.3" fill="#868686"/><rect x="105" y="108" width="3.3" height="3.3" fill="#a8a8a8"/><rect x="108" y="108" width="3.3" height="3.3" fill="#b1b1b1"/><rect x="111" y="108" width="3.3" height="3.3" fill="#b5b5b5"/><rect x="114" y="108" width="3.3" height="3.3" fill="#acacac"/><rect x="117" y="108" width="3.3" height="3.3" fill="#999999"/><rect x="120" y="108" width="3.3" height="3.3" fill="#818181"/><rect x="123" y="108" width="3.3" height="3.3" fill="#787878"/><rect x="126" y="108" width="3.3" height="3.3" fill="#868686"/><rect x="129" y="108" width="3.3" height="3.3" fill="#909090"/><rect x="132" y="108" width="3.3" height="3.3" fill="#a0a0a0"/><rect x="135" y="108" width="3.3" height="3.3" fill="#adadad"/><rect x="138" y="108" width="6.3" height="3.3" fill="#b1b1b1"/><rect x="144" y="108" width="3.3" height="3.3" fill="#aeaeae"/><rect x="147" y="108" width="6.3" height="3.3" fill="#a8a8a8"/><rect x="6" y="111" width="3.3" height="3.3" fill="#f9f9f9"/><rect x="9" y="111" width="3.3" height="3.3" fill="#fefefe"/><rect x="12" y="111" width="3.3" height="3.3" fill="#ffffff"/><rect x="15" y="111" width="3.3" height="3.3" fill="#f3f3f3"/><rect x="18" y="111" width="3.3" height="3.3" fill="#dfdfdf"/><rect x="21" y="111" width="3.3" height="3.3" fill="#c8c8c8"/><rect x="24" y="111" width="3.3" height="3.3" fill="#c0c0c0"/><rect x="27" y="111" width="3.3" height="3.3" fill="#c9c9c9"/><rect x="30" y="111" width="3.3" height="3.3" fill="#d3d3d3"/><rect x="33" y="111" width="3.3" height="3.3" fill="#c3c3c3"/><rect x="36" y="111" width="3.3" height="3.3" fill="#a4a4a4"/><rect x="39" y="111" width="3.3" height="3.3" fill="#969696"/><rect x="42" y="111" width="3.3" height="3.3" fill="#8d8d8d"/><rect x="45" y="111" width="3.3" height="3.3" fill="#818181"/><rect x="48" y="111" width="3.3" height="3.3" fill="#6e6e6e"/><rect x="51" y="111" width="6.3" height="3.3" fill="#656565"/><rect x="57" y="111" width="3.3" height="3.3" fill="#6b6b6b"/><rect x="60" y="111" width="3.3" height="3.3" fill="#828282"/><rect x="63" y="111" width="3.3" height="3.3" fill="#9c9c9c"/><rect x="66" y="111" width="6.3" height="3.3" fill="#a3a3a3"/><rect x="72" y="111" width="3.3" height="3.3" fill="#8c8c8c"/><rect x="75" y="111" width="3.3" height="3.3" fill="#626262"/><rect x="78" y="111" width="3.3" height="3.3" fill="#434343"/><rect x="81" y="111" width="3.3" height="3.3" fill="#454545"/><rect x="84" y="111" width="3.3" height="3.3" fill="#686868"/><rect x="87" y="111" width="6.3" height="3.3" fill="#939393"/><rect x="93" y="111" width="3.3" height="3.3" fill="#7b7b7b"/><rect x="96" y="111" width="3.3" height="3.3" fill="#6e6e6e"/><rect x="99" y="111" width="3.3" height="3.3" fill="#7f7f7f"/><rect x="102" y="111" width="3.3" height="3.3" fill="#999999"/><rect x="105" y="111" width="9.3" height="3.3" fill="#b5b5b5"/><rect x="114" y="111" width="3.3" height="3.3" fill="#a8a8a8"/><rect x="117" y="111" width="3.3" height="3.3" fill="#949494"/><rect x="120" y="111" width="3.3" height="3.3" fill="#818181"/><rect x="123" y="111" width="3.3" height="3.3" fill="#7a7a7a"/><rect x="126" y="111" width="3.3" height="3.3" fill="#898989"/><rect x="129" y="111" width="3.3" height="3.3" fill="#989898"/><rect x="132" y="111" width="3.3" height="3.3" fill="#a7a7a7"/><rect x="135" y="111" width="3.3" height="3.3" fill="#b6b6b6"/><rect x="138" y="111" width="3.3" height="3.3" fill="#b8b8b8"/><rect x="141" y="111" width="3.3" height="3.3" fill="#b5b5b5"/><rect x="144" y="111" width="3.3" height="3.3" fill="#b2b2b2"/><rect x="147" y="111" width="3.3" height="3.3" fill="#aeaeae"/><rect x="150" y="111" width="3.3" height="3.3" fill="#a9a9a9"/><rect x="6" y="114" width="3.3" height="3.3" fill="#f5f5f5"/><rect x="9" y="114" width="3.3" height="3.3" fill="#fdfdfd"/><rect x="12" y="114" width="3.3" height="3.3" fill="#fbfbfb"/><rect x="15" y="114" width="3.3" height="3.3" fill="#eaeaea"/><rect x="18" y="114" width="3.3" height="3.3" fill="#d5d5d5"/><rect x="21" y="114" width="3.3" height="3.3" fill="#c7c7c7"/><rect x="24" y="114" width="3.3" height="3.3" fill="#b6b6b6"/><rect x="27" y="114" width="3.3" height="3.3" fill="#bcbcbc"/><rect x="30" y="114" width="3.3" height="3.3" fill="#cbcbcb"/><rect x="33" y="114" width="3.3" height="3.3" fill="#bebebe"/><rect x="36" y="114" width="3.3" height="3.3" fill="#a4a4a4"/><rect x="39" y="114" width="3.3" height="3.3" fill="#999999"/><rect x="42" y="114" width="3.3" height="3.3" fill="#8f8f8f"/><rect x="45" y="114" width="3.3" height="3.3" fill="#7d7d7d"/><rect x="48" y="114" width="3.3" height="3.3" fill="#737373"/><rect x="51" y="114" width="3.3" height="3.3" fill="#6d6d6d"/><rect x="54" y="114" width="3.3" height="3.3" fill="#6a6a6a"/><rect x="57" y="114" width="3.3" height="3.3" fill="#6f6f6f"/><rect x="60" y="114" width="3.3" height="3.3" fill="#7a7a7a"/><rect x="63" y="114" width="6.3" height="3.3" fill="#848484"/><rect x="69" y="114" width="3.3" height="3.3" fill="#7f7f7f"/><rect x="72" y="114" width="3.3" height="3.3" fill="#6f6f6f"/><rect x="75" y="114" width="3.3" height="3.3" fill="#585858"/><rect x="78" y="114" width="6.3" height="3.3" fill="#4b4b4b"/><rect x="84" y="114" width="3.3" height="3.3" fill="#6a6a6a"/><rect x="87" y="114" width="6.3" height="3.3" fill="#8c8c8c"/><rect x="93" y="114" width="3.3" height="3.3" fill="#7d7d7d"/><rect x="96" y="114" width="3.3" height="3.3" fill="#777777"/><rect x="99" y="114" width="3.3" height="3.3" fill="#8c8c8c"/><rect x="102" y="114" width="3.3" height="3.3" fill="#a1a1a1"/><rect x="105" y="114" width="3.3" height="3.3" fill="#bababa"/><rect x="108" y="114" width="3.3" height="3.3" fill="#b2b2b2"/><rect x="111" y="114" width="3.3" height="3.3" fill="#acacac"/><rect x="114" y="114" width="3.3" height="3.3" fill="#a2a2a2"/><rect x="117" y="114" width="3.3" height="3.3" fill="#9a9a9a"/><rect x="120" y="114" width="3.3" height="3.3" fill="#8d8d8d"/><rect x="123" y="114" width="6.3" height="3.3" fill="#828282"/><rect x="129" y="114" width="3.3" height="3.3" fill="#888888"/><rect x="132" y="114" width="3.3" height="3.3" fill="#9a9a9a"/><rect x="135" y="114" width="3.3" height="3.3" fill="#ababab"/><rect x="138" y="114" width="3.3" height="3.3" fill="#afafaf"/><rect x="141" y="114" width="3.3" height="3.3" fill="#aaaaaa"/><rect x="144" y="114" width="9.3" height="3.3" fill="#a5a5a5"/><rect x="6" y="117" width="3.3" height="3.3" fill="#f4f4f4"/><rect x="9" y="117" width="3.3" height="3.3" fill="#f9f9f9"/><rect x="12" y="117" width="3.3" height="3.3" fill="#f6f6f6"/><rect x="15" y="117" width="3.3" height="3.3" fill="#e5e5e5"/><rect x="18" y="117" width="3.3" height="3.3" fill="#cccccc"/><rect x="21" y="117" width="3.3" height="3.3" fill="#bebebe"/><rect x="24" y="117" width="6.3" height="3.3" fill="#a7a7a7"/><rect x="30" y="117" width="3.3" height="3.3" fill="#b6b6b6"/><rect x="33" y="117" width="3.3" height="3.3" fill="#b1b1b1"/><rect x="36" y="117" width="3.3" height="3.3" fill="#a1a1a1"/><rect x="39" y="117" width="3.3" height="3.3" fill="#979797"/><rect x="42" y="117" width="3.3" height="3.3" fill="#8e8e8e"/><rect x="45" y="117" width="3.3" height="3.3" fill="#7a7a7a"/><rect x="48" y="117" width="3.3" height="3.3" fill="#707070"/><rect x="51" y="117" width="6.3" height="3.3" fill="#6e6e6e"/><rect x="57" y="117" width="6.3" height="3.3" fill="#717171"/><rect x="63" y="117" width="3.3" height="3.3" fill="#6d6d6d"/><rect x="66" y="117" width="3.3" height="3.3" fill="#626262"/><rect x="69" y="117" width="3.3" height="3.3" fill="#5f5f5f"/><rect x="72" y="117" width="3.3" height="3.3" fill="#555555"/><rect x="75" y="117" width="6.3" height="3.3" fill="#494949"/><rect x="81" y="117" width="3.3" height="3.3" fill="#515151"/><rect x="84" y="117" width="3.3" height="3.3" fill="#6d6d6d"/><rect x="87" y="117" width="6.3" height="3.3" fill="#828282"/><rect x="93" y="117" width="6.3" height="3.3" fill="#777777"/><rect x="99" y="117" width="3.3" height="3.3" fill="#7f7f7f"/><rect x="102" y="117" width="3.3" height="3.3" fill="#949494"/><rect x="105" y="117" width="3.3" height="3.3" fill="#a9a9a9"/><rect x="108" y="117" width="3.3" height="3.3" fill="#ababab"/><rect x="111" y="117" width="3.3" height="3.3" fill="#a2a2a2"/><rect x="114" y="117" width="3.3" height="3.3" fill="#9c9c9c"/><rect x="117" y="117" width="3.3" height="3.3" fill="#969696"/><rect x="120" y="117" width="3.3" height="3.3" fill="#8f8f8f"/><rect x="123" y="117" width="3.3" height="3.3" fill="#848484"/><rect x="126" y="117" width="6.3" height="3.3" fill="#797979"/><rect x="132" y="117" width="3.3" height="3.3" fill="#848484"/><rect x="135" y="117" width="3.3" height="3.3" fill="#969696"/><rect x="138" y="117" width="6.3" height="3.3" fill="#999999"/><rect x="144" y="117" width="3.3" height="3.3" fill="#9b9b9b"/><rect x="147" y="117" width="6.3" height="3.3" fill="#9e9e9e"/><rect x="6" y="120" width="3.3" height="3.3" fill="#eeeeee"/><rect x="9" y="120" width="3.3" height="3.3" fill="#f3f3f3"/><rect x="12" y="120" width="3.3" height="3.3" fill="#f1f1f1"/><rect x="15" y="120" width="3.3" height="3.3" fill="#e4e4e4"/><rect x="18" y="120" width="3.3" height="3.3" fill="#cccccc"/><rect x="21" y="120" width="3.3" height="3.3" fill="#b7b7b7"/><rect x="24" y="120" width="3.3" height="3.3" fill="#a4a4a4"/><rect x="27" y="120" width="3.3" height="3.3" fill="#9f9f9f"/><rect x="30" y="120" width="3.3" height="3.3" fill="#aaaaaa"/><rect x="33" y="120" width="3.3" height="3.3" fill="#a5a5a5"/><rect x="36" y="120" width="3.3" height="3.3" fill="#979797"/><rect x="39" y="120" width="3.3" height="3.3" fill="#8d8d8d"/><rect x="42" y="120" width="3.3" height="3.3" fill="#888888"/><rect x="45" y="120" width="3.3" height="3.3" fill="#767676"/><rect x="48" y="120" width="3.3" height="3.3" fill="#707070"/><rect x="51" y="120" width="3.3" height="3.3" fill="#6d6d6d"/><rect x="54" y="120" width="3.3" height="3.3" fill="#757575"/><rect x="57" y="120" width="3.3" height="3.3" fill="#7c7c7c"/><rect x="60" y="120" width="3.3" height="3.3" fill="#797979"/><rect x="63" y="120" width="3.3" height="3.3" fill="#6b6b6b"/><rect x="66" y="120" width="3.3" height="3.3" fill="#575757"/><rect x="69" y="120" width="3.3" height="3.3" fill="#4e4e4e"/><rect x="72" y="120" width="6.3" height="3.3" fill="#4b4b4b"/><rect x="78" y="120" width="3.3" height="3.3" fill="#515151"/><rect x="81" y="120" width="3.3" height="3.3" fill="#5b5b5b"/><rect x="84" y="120" width="3.3" height="3.3" fill="#707070"/><rect x="87" y="120" width="3.3" height="3.3" fill="#7d7d7d"/><rect x="90" y="120" width="3.3" height="3.3" fill="#7a7a7a"/><rect x="93" y="120" width="3.3" height="3.3" fill="#787878"/><rect x="96" y="120" width="3.3" height="3.3" fill="#717171"/><rect x="99" y="120" width="3.3" height="3.3" fill="#767676"/><rect x="102" y="120" width="3.3" height="3.3" fill="#828282"/><rect x="105" y="120" width="3.3" height="3.3" fill="#9e9e9e"/><rect x="108" y="120" width="3.3" height="3.3" fill="#ababab"/><rect x="111" y="120" width="3.3" height="3.3" fill="#a2a2a2"/><rect x="114" y="120" width="3.3" height="3.3" fill="#969696"/><rect x="117" y="120" width="3.3" height="3.3" fill="#8d8d8d"/><rect x="120" y="120" width="3.3" height="3.3" fill="#8a8a8a"/><rect x="123" y="120" width="3.3" height="3.3" fill="#868686"/><rect x="126" y="120" width="9.3" height="3.3" fill="#7e7e7e"/><rect x="135" y="120" width="3.3" height="3.3" fill="#858585"/><rect x="138" y="120" width="3.3" height="3.3" fill="#898989"/><rect x="141" y="120" width="3.3" height="3.3" fill="#919191"/><rect x="144" y="120" width="9.3" height="3.3" fill="#999999"/><rect x="6" y="123" width="3.3" height="3.3" fill="#e9e9e9"/><rect x="9" y="123" width="6.3" height="3.3" fill="#efefef"/><rect x="15" y="123" width="3.3" height="3.3" fill="#e4e4e4"/><rect x="18" y="123" width="3.3" height="3.3" fill="#cccccc"/><rect x="21" y="123" width="3.3" height="3.3" fill="#bcbcbc"/><rect x="24" y="123" width="3.3" height="3.3" fill="#a4a4a4"/><rect x="27" y="123" width="3.3" height="3.3" fill="#9d9d9d"/><rect x="30" y="123" width="3.3" height="3.3" fill="#a7a7a7"/><rect x="33" y="123" width="3.3" height="3.3" fill="#9f9f9f"/><rect x="36" y="123" width="3.3" height="3.3" fill="#888888"/><rect x="39" y="123" width="3.3" height="3.3" fill="#868686"/><rect x="42" y="123" width="3.3" height="3.3" fill="#7f7f7f"/><rect x="45" y="123" width="3.3" height="3.3" fill="#707070"/><rect x="48" y="123" width="3.3" height="3.3" fill="#6c6c6c"/><rect x="51" y="123" width="3.3" height="3.3" fill="#6e6e6e"/><rect x="54" y="123" width="3.3" height="3.3" fill="#808080"/><rect x="57" y="123" width="3.3" height="3.3" fill="#909090"/><rect x="60" y="123" width="3.3" height="3.3" fill="#939393"/><rect x="63" y="123" width="3.3" height="3.3" fill="#848484"/><rect x="66" y="123" width="3.3" height="3.3" fill="#737373"/><rect x="69" y="123" width="9.3" height="3.3" fill="#676767"/><rect x="78" y="123" width="3.3" height="3.3" fill="#707070"/><rect x="81" y="123" width="12.3" height="3.3" fill="#757575"/><rect x="93" y="123" width="3.3" height="3.3" fill="#7d7d7d"/><rect x="96" y="123" width="3.3" height="3.3" fill="#7a7a7a"/><rect x="99" y="123" width="3.3" height="3.3" fill="#767676"/><rect x="102" y="123" width="3.3" height="3.3" fill="#808080"/><rect x="105" y="123" width="3.3" height="3.3" fill="#a3a3a3"/><rect x="108" y="123" width="6.3" height="3.3" fill="#b0b0b0"/><rect x="114" y="123" width="3.3" height="3.3" fill="#9b9b9b"/><rect x="117" y="123" width="3.3" height="3.3" fill="#878787"/><rect x="120" y="123" width="3.3" height="3.3" fill="#898989"/><rect x="123" y="123" width="6.3" height="3.3" fill="#919191"/><rect x="129" y="123" width="3.3" height="3.3" fill="#8f8f8f"/><rect x="132" y="123" width="3.3" height="3.3" fill="#868686"/><rect x="135" y="123" width="3.3" height="3.3" fill="#7b7b7b"/><rect x="138" y="123" width="3.3" height="3.3" fill="#858585"/><rect x="141" y="123" width="3.3" height="3.3" fill="#999999"/><rect x="144" y="123" width="3.3" height="3.3" fill="#a4a4a4"/><rect x="147" y="123" width="3.3" height="3.3" fill="#a0a0a0"/><rect x="150" y="123" width="3.3" height="3.3" fill="#969696"/><rect x="6" y="126" width="3.3" height="3.3" fill="#e8e8e8"/><rect x="9" y="126" width="6.3" height="3.3" fill="#efefef"/><rect x="15" y="126" width="3.3" height="3.3" fill="#e4e4e4"/><rect x="18" y="126" width="3.3" height="3.3" fill="#d1d1d1"/><rect x="21" y="126" width="3.3" height="3.3" fill="#c0c0c0"/><rect x="24" y="126" width="6.3" height="3.3" fill="#a9a9a9"/><rect x="30" y="126" width="3.3" height="3.3" fill="#adadad"/><rect x="33" y="126" width="3.3" height="3.3" fill="#a1a1a1"/><rect x="36" y="126" width="3.3" height="3.3" fill="#858585"/><rect x="39" y="126" width="3.3" height="3.3" fill="#7c7c7c"/><rect x="42" y="126" width="3.3" height="3.3" fill="#797979"/><rect x="45" y="126" width="3.3" height="3.3" fill="#6e6e6e"/><rect x="48" y="126" width="3.3" height="3.3" fill="#6c6c6c"/><rect x="51" y="126" width="3.3" height="3.3" fill="#737373"/><rect x="54" y="126" width="3.3" height="3.3" fill="#929292"/><rect x="57" y="126" width="3.3" height="3.3" fill="#b3b3b3"/><rect x="60" y="126" width="3.3" height="3.3" fill="#b9b9b9"/><rect x="63" y="126" width="3.3" height="3.3" fill="#b3b3b3"/><rect x="66" y="126" width="3.3" height="3.3" fill="#ababab"/><rect x="69" y="126" width="3.3" height="3.3" fill="#a0a0a0"/><rect x="72" y="126" width="3.3" height="3.3" fill="#929292"/><rect x="75" y="126" width="6.3" height="3.3" fill="#8a8a8a"/><rect x="81" y="126" width="3.3" height="3.3" fill="#878787"/><rect x="84" y="126" width="3.3" height="3.3" fill="#7d7d7d"/><rect x="87" y="126" width="3.3" height="3.3" fill="#7a7a7a"/><rect x="90" y="126" width="3.3" height="3.3" fill="#7f7f7f"/><rect x="93" y="126" width="3.3" height="3.3" fill="#8a8a8a"/><rect x="96" y="126" width="3.3" height="3.3" fill="#919191"/><rect x="99" y="126" width="3.3" height="3.3" fill="#858585"/><rect x="102" y="126" width="3.3" height="3.3" fill="#8e8e8e"/><rect x="105" y="126" width="3.3" height="3.3" fill="#a7a7a7"/><rect x="108" y="126" width="6.3" height="3.3" fill="#b5b5b5"/><rect x="114" y="126" width="3.3" height="3.3" fill="#9d9d9d"/><rect x="117" y="126" width="3.3" height="3.3" fill="#909090"/><rect x="120" y="126" width="3.3" height="3.3" fill="#8e8e8e"/><rect x="123" y="126" width="3.3" height="3.3" fill="#979797"/><rect x="126" y="126" width="3.3" height="3.3" fill="#9c9c9c"/><rect x="129" y="126" width="3.3" height="3.3" fill="#969696"/><rect x="132" y="126" width="3.3" height="3.3" fill="#8e8e8e"/><rect x="135" y="126" width="3.3" height="3.3" fill="#868686"/><rect x="138" y="126" width="3.3" height="3.3" fill="#979797"/><rect x="141" y="126" width="3.3" height="3.3" fill="#ababab"/><rect x="144" y="126" width="3.3" height="3.3" fill="#b7b7b7"/><rect x="147" y="126" width="3.3" height="3.3" fill="#a7a7a7"/><rect x="150" y="126" width="3.3" height="3.3" fill="#949494"/><rect x="6" y="129" width="3.3" height="3.3" fill="#e8e8e8"/><rect x="9" y="129" width="6.3" height="3.3" fill="#efefef"/><rect x="15" y="129" width="3.3" height="3.3" fill="#e9e9e9"/><rect x="18" y="129" width="3.3" height="3.3" fill="#dadada"/><rect x="21" y="129" width="3.3" height="3.3" fill="#c7c7c7"/><rect x="24" y="129" width="3.3" height="3.3" fill="#b5b5b5"/><rect x="27" y="129" width="3.3" height="3.3" fill="#acacac"/><rect x="30" y="129" width="3.3" height="3.3" fill="#b2b2b2"/><rect x="33" y="129" width="3.3" height="3.3" fill="#a0a0a0"/><rect x="36" y="129" width="3.3" height="3.3" fill="#858585"/><rect x="39" y="129" width="3.3" height="3.3" fill="#7d7d7d"/><rect x="42" y="129" width="3.3" height="3.3" fill="#7a7a7a"/><rect x="45" y="129" width="3.3" height="3.3" fill="#737373"/><rect x="48" y="129" width="3.3" height="3.3" fill="#6f6f6f"/><rect x="51" y="129" width="3.3" height="3.3" fill="#818181"/><rect x="54" y="129" width="3.3" height="3.3" fill="#a2a2a2"/><rect x="57" y="129" width="3.3" height="3.3" fill="#c6c6c6"/><rect x="60" y="129" width="6.3" height="3.3" fill="#cecece"/><rect x="66" y="129" width="3.3" height="3.3" fill="#c3c3c3"/><rect x="69" y="129" width="3.3" height="3.3" fill="#b4b4b4"/><rect x="72" y="129" width="3.3" height="3.3" fill="#9f9f9f"/><rect x="75" y="129" width="6.3" height="3.3" fill="#949494"/><rect x="81" y="129" width="3.3" height="3.3" fill="#929292"/><rect x="84" y="129" width="3.3" height="3.3" fill="#8c8c8c"/><rect x="87" y="129" width="3.3" height="3.3" fill="#868686"/><rect x="90" y="129" width="3.3" height="3.3" fill="#8e8e8e"/><rect x="93" y="129" width="3.3" height="3.3" fill="#9a9a9a"/><rect x="96" y="129" width="3.3" height="3.3" fill="#9f9f9f"/><rect x="99" y="129" width="6.3" height="3.3" fill="#969696"/><rect x="105" y="129" width="3.3" height="3.3" fill="#a5a5a5"/><rect x="108" y="129" width="3.3" height="3.3" fill="#b2b2b2"/><rect x="111" y="129" width="3.3" height="3.3" fill="#b6b6b6"/><rect x="114" y="129" width="3.3" height="3.3" fill="#a5a5a5"/><rect x="117" y="129" width="3.3" height="3.3" fill="#929292"/><rect x="120" y="129" width="3.3" height="3.3" fill="#909090"/><rect x="123" y="129" width="3.3" height="3.3" fill="#989898"/><rect x="126" y="129" width="3.3" height="3.3" fill="#9d9d9d"/><rect x="129" y="129" width="3.3" height="3.3" fill="#989898"/><rect x="132" y="129" width="6.3" height="3.3" fill="#8d8d8d"/><rect x="138" y="129" width="3.3" height="3.3" fill="#a9a9a9"/><rect x="141" y="129" width="3.3" height="3.3" fill="#c0c0c0"/><rect x="144" y="129" width="3.3" height="3.3" fill="#c3c3c3"/><rect x="147" y="129" width="3.3" height="3.3" fill="#a9a9a9"/><rect x="150" y="129" width="3.3" height="3.3" fill="#929292"/><rect x="6" y="132" width="3.3" height="3.3" fill="#e8e8e8"/><rect x="9" y="132" width="6.3" height="3.3" fill="#efefef"/><rect x="15" y="132" width="3.3" height="3.3" fill="#eaeaea"/><rect x="18" y="132" width="3.3" height="3.3" fill="#e0e0e0"/><rect x="21" y="132" width="3.3" height="3.3" fill="#d1d1d1"/><rect x="24" y="132" width="3.3" height="3.3" fill="#bdbdbd"/><rect x="27" y="132" width="3.3" height="3.3" fill="#b5b5b5"/><rect x="30" y="132" width="3.3" height="3.3" fill="#bcbcbc"/><rect x="33" y="132" width="3.3" height="3.3" fill="#aeaeae"/><rect x="36" y="132" width="3.3" height="3.3" fill="#989898"/><rect x="39" y="132" width="3.3" height="3.3" fill="#939393"/><rect x="42" y="132" width="3.3" height="3.3" fill="#909090"/><rect x="45" y="132" width="3.3" height="3.3" fill="#898989"/><rect x="48" y="132" width="3.3" height="3.3" fill="#858585"/><rect x="51" y="132" width="3.3" height="3.3" fill="#929292"/><rect x="54" y="132" width="3.3" height="3.3" fill="#b2b2b2"/><rect x="57" y="132" width="3.3" height="3.3" fill="#d0d0d0"/><rect x="60" y="132" width="3.3" height="3.3" fill="#dadada"/><rect x="63" y="132" width="3.3" height="3.3" fill="#d4d4d4"/><rect x="66" y="132" width="3.3" height="3.3" fill="#c9c9c9"/><rect x="69" y="132" width="3.3" height="3.3" fill="#bcbcbc"/><rect x="72" y="132" width="3.3" height="3.3" fill="#a6a6a6"/><rect x="75" y="132" width="3.3" height="3.3" fill="#9a9a9a"/><rect x="78" y="132" width="3.3" height="3.3" fill="#969696"/><rect x="81" y="132" width="6.3" height="3.3" fill="#9a9a9a"/><rect x="87" y="132" width="6.3" height="3.3" fill="#9d9d9d"/><rect x="93" y="132" width="6.3" height="3.3" fill="#a1a1a1"/><rect x="99" y="132" width="3.3" height="3.3" fill="#9c9c9c"/><rect x="102" y="132" width="3.3" height="3.3" fill="#959595"/><rect x="105" y="132" width="3.3" height="3.3" fill="#a1a1a1"/><rect x="108" y="132" width="3.3" height="3.3" fill="#b2b2b2"/><rect x="111" y="132" width="3.3" height="3.3" fill="#b6b6b6"/><rect x="114" y="132" width="3.3" height="3.3" fill="#a1a1a1"/><rect x="117" y="132" width="3.3" height="3.3" fill="#8c8c8c"/><rect x="120" y="132" width="3.3" height="3.3" fill="#878787"/><rect x="123" y="132" width="3.3" height="3.3" fill="#8b8b8b"/><rect x="126" y="132" width="3.3" height="3.3" fill="#919191"/><rect x="129" y="132" width="3.3" height="3.3" fill="#8c8c8c"/><rect x="132" y="132" width="6.3" height="3.3" fill="#8a8a8a"/><rect x="138" y="132" width="3.3" height="3.3" fill="#a5a5a5"/><rect x="141" y="132" width="3.3" height="3.3" fill="#b7b7b7"/><rect x="144" y="132" width="3.3" height="3.3" fill="#b5b5b5"/><rect x="147" y="132" width="3.3" height="3.3" fill="#9b9b9b"/><rect x="150" y="132" width="3.3" height="3.3" fill="#8a8a8a"/><rect x="6" y="135" width="3.3" height="3.3" fill="#e8e8e8"/><rect x="9" y="135" width="3.3" height="3.3" fill="#ededed"/><rect x="12" y="135" width="6.3" height="3.3" fill="#efefef"/><rect x="18" y="135" width="3.3" height="3.3" fill="#e3e3e3"/><rect x="21" y="135" width="3.3" height="3.3" fill="#d9d9d9"/><rect x="24" y="135" width="3.3" height="3.3" fill="#cbcbcb"/><rect x="27" y="135" width="6.3" height="3.3" fill="#c5c5c5"/><rect x="33" y="135" width="3.3" height="3.3" fill="#bfbfbf"/><rect x="36" y="135" width="3.3" height="3.3" fill="#b1b1b1"/><rect x="39" y="135" width="3.3" height="3.3" fill="#adadad"/><rect x="42" y="135" width="3.3" height="3.3" fill="#a8a8a8"/><rect x="45" y="135" width="6.3" height="3.3" fill="#a2a2a2"/><rect x="51" y="135" width="3.3" height="3.3" fill="#a9a9a9"/><rect x="54" y="135" width="3.3" height="3.3" fill="#bfbfbf"/><rect x="57" y="135" width="3.3" height="3.3" fill="#d1d1d1"/><rect x="60" y="135" width="3.3" height="3.3" fill="#d7d7d7"/><rect x="63" y="135" width="3.3" height="3.3" fill="#d1d1d1"/><rect x="66" y="135" width="3.3" height="3.3" fill="#cccccc"/><rect x="69" y="135" width="3.3" height="3.3" fill="#c4c4c4"/><rect x="72" y="135" width="3.3" height="3.3" fill="#afafaf"/><rect x="75" y="135" width="3.3" height="3.3" fill="#a0a0a0"/><rect x="78" y="135" width="3.3" height="3.3" fill="#9b9b9b"/><rect x="81" y="135" width="3.3" height="3.3" fill="#9d9d9d"/><rect x="84" y="135" width="3.3" height="3.3" fill="#a9a9a9"/><rect x="87" y="135" width="3.3" height="3.3" fill="#adadad"/><rect x="90" y="135" width="3.3" height="3.3" fill="#ababab"/><rect x="93" y="135" width="3.3" height="3.3" fill="#a5a5a5"/><rect x="96" y="135" width="6.3" height="3.3" fill="#9f9f9f"/><rect x="102" y="135" width="3.3" height="3.3" fill="#9a9a9a"/><rect x="105" y="135" width="3.3" height="3.3" fill="#a1a1a1"/><rect x="108" y="135" width="3.3" height="3.3" fill="#acacac"/><rect x="111" y="135" width="3.3" height="3.3" fill="#afafaf"/><rect x="114" y="135" width="3.3" height="3.3" fill="#9b9b9b"/><rect x="117" y="135" width="3.3" height="3.3" fill="#858585"/><rect x="120" y="135" width="6.3" height="3.3" fill="#7c7c7c"/><rect x="126" y="135" width="3.3" height="3.3" fill="#808080"/><rect x="129" y="135" width="6.3" height="3.3" fill="#7e7e7e"/><rect x="135" y="135" width="3.3" height="3.3" fill="#848484"/><rect x="138" y="135" width="3.3" height="3.3" fill="#919191"/><rect x="141" y="135" width="6.3" height="3.3" fill="#999999"/><rect x="147" y="135" width="3.3" height="3.3" fill="#8d8d8d"/><rect x="150" y="135" width="3.3" height="3.3" fill="#828282"/><rect x="6" y="138" width="15.3" height="3.3" fill="#dfdfdf"/><rect x="21" y="138" width="3.3" height="3.3" fill="#dddddd"/><rect x="24" y="138" width="3.3" height="3.3" fill="#d5d5d5"/><rect x="27" y="138" width="3.3" height="3.3" fill="#cfcfcf"/><rect x="30" y="138" width="3.3" height="3.3" fill="#cdcdcd"/><rect x="33" y="138" width="3.3" height="3.3" fill="#c5c5c5"/><rect x="36" y="138" width="3.3" height="3.3" fill="#bcbcbc"/><rect x="39" y="138" width="3.3" height="3.3" fill="#bababa"/><rect x="42" y="138" width="3.3" height="3.3" fill="#b7b7b7"/><rect x="45" y="138" width="3.3" height="3.3" fill="#b1b1b1"/><rect x="48" y="138" width="3.3" height="3.3" fill="#acacac"/><rect x="51" y="138" width="3.3" height="3.3" fill="#b0b0b0"/><rect x="54" y="138" width="3.3" height="3.3" fill="#bababa"/><rect x="57" y="138" width="3.3" height="3.3" fill="#c7c7c7"/><rect x="60" y="138" width="6.3" height="3.3" fill="#cccccc"/><rect x="66" y="138" width="6.3" height="3.3" fill="#cacaca"/><rect x="72" y="138" width="3.3" height="3.3" fill="#b7b7b7"/><rect x="75" y="138" width="3.3" height="3.3" fill="#a6a6a6"/><rect x="78" y="138" width="3.3" height="3.3" fill="#9e9e9e"/><rect x="81" y="138" width="3.3" height="3.3" fill="#a5a5a5"/><rect x="84" y="138" width="3.3" height="3.3" fill="#aeaeae"/><rect x="87" y="138" width="6.3" height="3.3" fill="#b2b2b2"/><rect x="93" y="138" width="3.3" height="3.3" fill="#ababab"/><rect x="96" y="138" width="3.3" height="3.3" fill="#a3a3a3"/><rect x="99" y="138" width="3.3" height="3.3" fill="#a1a1a1"/><rect x="102" y="138" width="3.3" height="3.3" fill="#9b9b9b"/><rect x="105" y="138" width="3.3" height="3.3" fill="#a1a1a1"/><rect x="108" y="138" width="6.3" height="3.3" fill="#a7a7a7"/><rect x="114" y="138" width="3.3" height="3.3" fill="#9d9d9d"/><rect x="117" y="138" width="3.3" height="3.3" fill="#8a8a8a"/><rect x="120" y="138" width="3.3" height="3.3" fill="#7f7f7f"/><rect x="123" y="138" width="3.3" height="3.3" fill="#7d7d7d"/><rect x="126" y="138" width="12.3" height="3.3" fill="#838383"/><rect x="138" y="138" width="3.3" height="3.3" fill="#888888"/><rect x="141" y="138" width="6.3" height="3.3" fill="#8b8b8b"/><rect x="147" y="138" width="6.3" height="3.3" fill="#848484"/><rect x="6" y="141" width="15.3" height="3.3" fill="#dfdfdf"/><rect x="21" y="141" width="3.3" height="3.3" fill="#dddddd"/><rect x="24" y="141" width="3.3" height="3.3" fill="#d5d5d5"/><rect x="27" y="141" width="6.3" height="3.3" fill="#cfcfcf"/><rect x="33" y="141" width="3.3" height="3.3" fill="#cbcbcb"/><rect x="36" y="141" width="6.3" height="3.3" fill="#c9c9c9"/><rect x="42" y="141" width="3.3" height="3.3" fill="#c6c6c6"/><rect x="45" y="141" width="3.3" height="3.3" fill="#bfbfbf"/><rect x="48" y="141" width="3.3" height="3.3" fill="#bcbcbc"/><rect x="51" y="141" width="3.3" height="3.3" fill="#c0c0c0"/><rect x="54" y="141" width="3.3" height="3.3" fill="#c6c6c6"/><rect x="57" y="141" width="6.3" height="3.3" fill="#cacaca"/><rect x="63" y="141" width="3.3" height="3.3" fill="#cecece"/><rect x="66" y="141" width="6.3" height="3.3" fill="#d0d0d0"/><rect x="72" y="141" width="3.3" height="3.3" fill="#bebebe"/><rect x="75" y="141" width="3.3" height="3.3" fill="#b1b1b1"/><rect x="78" y="141" width="6.3" height="3.3" fill="#ababab"/><rect x="84" y="141" width="6.3" height="3.3" fill="#b3b3b3"/><rect x="90" y="141" width="3.3" height="3.3" fill="#b5b5b5"/><rect x="93" y="141" width="3.3" height="3.3" fill="#afafaf"/><rect x="96" y="141" width="9.3" height="3.3" fill="#a8a8a8"/><rect x="105" y="141" width="3.3" height="3.3" fill="#a2a2a2"/><rect x="108" y="141" width="6.3" height="3.3" fill="#a4a4a4"/><rect x="114" y="141" width="3.3" height="3.3" fill="#9e9e9e"/><rect x="117" y="141" width="3.3" height="3.3" fill="#979797"/><rect x="120" y="141" width="3.3" height="3.3" fill="#8f8f8f"/><rect x="123" y="141" width="3.3" height="3.3" fill="#8d8d8d"/><rect x="126" y="141" width="3.3" height="3.3" fill="#919191"/><rect x="129" y="141" width="3.3" height="3.3" fill="#8d8d8d"/><rect x="132" y="141" width="6.3" height="3.3" fill="#919191"/><rect x="138" y="141" width="3.3" height="3.3" fill="#8f8f8f"/><rect x="141" y="141" width="3.3" height="3.3" fill="#8c8c8c"/><rect x="144" y="141" width="9.3" height="3.3" fill="#909090"/><rect x="6" y="144" width="15.3" height="3.3" fill="#dfdfdf"/><rect x="21" y="144" width="3.3" height="3.3" fill="#dddddd"/><rect x="24" y="144" width="3.3" height="3.3" fill="#d5d5d5"/><rect x="27" y="144" width="6.3" height="3.3" fill="#d0d0d0"/><rect x="33" y="144" width="6.3" height="3.3" fill="#d5d5d5"/><rect x="39" y="144" width="3.3" height="3.3" fill="#d7d7d7"/><rect x="42" y="144" width="3.3" height="3.3" fill="#d3d3d3"/><rect x="45" y="144" width="3.3" height="3.3" fill="#cecece"/><rect x="48" y="144" width="3.3" height="3.3" fill="#cbcbcb"/><rect x="51" y="144" width="6.3" height="3.3" fill="#cdcdcd"/><rect x="57" y="144" width="6.3" height="3.3" fill="#d1d1d1"/><rect x="63" y="144" width="3.3" height="3.3" fill="#d4d4d4"/><rect x="66" y="144" width="6.3" height="3.3" fill="#d6d6d6"/><rect x="72" y="144" width="3.3" height="3.3" fill="#c6c6c6"/><rect x="75" y="144" width="3.3" height="3.3" fill="#b7b7b7"/><rect x="78" y="144" width="3.3" height="3.3" fill="#b0b0b0"/><rect x="81" y="144" width="6.3" height="3.3" fill="#adadad"/><rect x="87" y="144" width="3.3" height="3.3" fill="#afafaf"/><rect x="90" y="144" width="12.3" height="3.3" fill="#adadad"/><rect x="102" y="144" width="3.3" height="3.3" fill="#aaaaaa"/><rect x="105" y="144" width="3.3" height="3.3" fill="#a1a1a1"/><rect x="108" y="144" width="3.3" height="3.3" fill="#a3a3a3"/><rect x="111" y="144" width="3.3" height="3.3" fill="#a0a0a0"/><rect x="114" y="144" width="3.3" height="3.3" fill="#9e9e9e"/><rect x="117" y="144" width="3.3" height="3.3" fill="#999999"/><rect x="120" y="144" width="3.3" height="3.3" fill="#969696"/><rect x="123" y="144" width="3.3" height="3.3" fill="#949494"/><rect x="126" y="144" width="6.3" height="3.3" fill="#979797"/><rect x="132" y="144" width="3.3" height="3.3" fill="#959595"/><rect x="135" y="144" width="3.3" height="3.3" fill="#939393"/><rect x="138" y="144" width="9.3" height="3.3" fill="#979797"/><rect x="147" y="144" width="6.3" height="3.3" fill="#949494"/><rect x="6" y="147" width="15.3" height="3.3" fill="#dfdfdf"/><rect x="21" y="147" width="3.3" height="3.3" fill="#dddddd"/><rect x="24" y="147" width="3.3" height="3.3" fill="#d5d5d5"/><rect x="27" y="147" width="3.3" height="3.3" fill="#d2d2d2"/><rect x="30" y="147" width="3.3" height="3.3" fill="#d7d7d7"/><rect x="33" y="147" width="3.3" height="3.3" fill="#d9d9d9"/><rect x="36" y="147" width="3.3" height="3.3" fill="#d7d7d7"/><rect x="39" y="147" width="3.3" height="3.3" fill="#d9d9d9"/><rect x="42" y="147" width="3.3" height="3.3" fill="#d7d7d7"/><rect x="45" y="147" width="3.3" height="3.3" fill="#d0d0d0"/><rect x="48" y="147" width="3.3" height="3.3" fill="#cecece"/><rect x="51" y="147" width="3.3" height="3.3" fill="#d0d0d0"/><rect x="54" y="147" width="3.3" height="3.3" fill="#cecece"/><rect x="57" y="147" width="6.3" height="3.3" fill="#d4d4d4"/><rect x="63" y="147" width="3.3" height="3.3" fill="#d6d6d6"/><rect x="66" y="147" width="6.3" height="3.3" fill="#d8d8d8"/><rect x="72" y="147" width="3.3" height="3.3" fill="#cacaca"/><rect x="75" y="147" width="3.3" height="3.3" fill="#bcbcbc"/><rect x="78" y="147" width="6.3" height="3.3" fill="#b3b3b3"/><rect x="84" y="147" width="15.3" height="3.3" fill="#aaaaaa"/><rect x="99" y="147" width="3.3" height="3.3" fill="#aeaeae"/><rect x="102" y="147" width="3.3" height="3.3" fill="#a9a9a9"/><rect x="105" y="147" width="3.3" height="3.3" fill="#a4a4a4"/><rect x="108" y="147" width="3.3" height="3.3" fill="#a2a2a2"/><rect x="111" y="147" width="3.3" height="3.3" fill="#9e9e9e"/><rect x="114" y="147" width="3.3" height="3.3" fill="#9a9a9a"/><rect x="117" y="147" width="6.3" height="3.3" fill="#949494"/><rect x="123" y="147" width="30.3" height="3.3" fill="#969696"/></g>
<path d="M7.6 63L16 64L23 69L27.6 78L30 87L37.5 96L38.4 101.5L32 107L26.7 114L27.5 120L27 130L30 138.8L7.6 138.8Z" fill="#d9d9d9" filter="url(#bp)"/>
<g filter="url(#bp)"><circle cx="31" cy="56" r="9.3" fill="none" stroke="#fff" stroke-width="1.6" stroke-opacity="0.22"/><circle cx="84" cy="52" r="8.8" fill="none" stroke="#fff" stroke-width="1.6" stroke-opacity="0.22"/><circle cx="46.5" cy="80" r="9.3" fill="none" stroke="#fff" stroke-width="1.6" stroke-opacity="0.22"/><circle cx="74.5" cy="84" r="8.8" fill="none" stroke="#fff" stroke-width="1.6" stroke-opacity="0.22"/><circle cx="47.5" cy="105" r="8.3" fill="none" stroke="#fff" stroke-width="1.6" stroke-opacity="0.22"/><circle cx="69.5" cy="112.5" r="8.3" fill="none" stroke="#fff" stroke-width="1.6" stroke-opacity="0.22"/><circle cx="95" cy="69" r="7.3" fill="none" stroke="#fff" stroke-width="1.6" stroke-opacity="0.22"/><circle cx="63" cy="40" r="7.3" fill="none" stroke="#fff" stroke-width="1.6" stroke-opacity="0.22"/><circle cx="77" cy="15" r="6.8" fill="none" stroke="#fff" stroke-width="1.6" stroke-opacity="0.22"/><circle cx="76" cy="22" r="5.8" fill="none" stroke="#fff" stroke-width="1.6" stroke-opacity="0.22"/><circle cx="72" cy="13" r="4.8" fill="none" stroke="#fff" stroke-width="1.6" stroke-opacity="0.22"/><circle cx="11" cy="38" r="6.3" fill="none" stroke="#fff" stroke-width="1.6" stroke-opacity="0.22"/><circle cx="102" cy="113" r="7.3" fill="none" stroke="#fff" stroke-width="1.6" stroke-opacity="0.22"/><circle cx="126.4" cy="97" r="7.8" fill="none" stroke="#fff" stroke-width="1.6" stroke-opacity="0.22"/><circle cx="118" cy="110" r="6.8" fill="none" stroke="#fff" stroke-width="1.6" stroke-opacity="0.22"/><circle cx="142" cy="130.5" r="7.3" fill="none" stroke="#fff" stroke-width="1.6" stroke-opacity="0.22"/><circle cx="96.5" cy="129" r="4.8" fill="none" stroke="#fff" stroke-width="1.6" stroke-opacity="0.22"/><circle cx="134" cy="52" r="5.8" fill="none" stroke="#fff" stroke-width="1.6" stroke-opacity="0.22"/><circle cx="81" cy="84" r="5.8" fill="none" stroke="#fff" stroke-width="1.6" stroke-opacity="0.22"/><circle cx="31" cy="56" r="8.5" fill="#505050" fill-opacity="0.85"/><circle cx="84" cy="52" r="8" fill="#464646" fill-opacity="0.85"/><circle cx="46.5" cy="80" r="8.5" fill="#5a5a5a" fill-opacity="0.85"/><circle cx="74.5" cy="84" r="8" fill="#505050" fill-opacity="0.85"/><circle cx="47.5" cy="105" r="7.5" fill="#5a5a5a" fill-opacity="0.85"/><circle cx="69.5" cy="112.5" r="7.5" fill="#464646" fill-opacity="0.85"/><circle cx="95" cy="69" r="6.5" fill="#464646" fill-opacity="0.85"/><circle cx="63" cy="40" r="6.5" fill="#505050" fill-opacity="0.85"/><circle cx="52" cy="26" r="6.5" fill="#6e6e6e" fill-opacity="0.85"/><circle cx="77" cy="15" r="6" fill="#282828" fill-opacity="0.85"/><circle cx="76" cy="22" r="5" fill="#464646" fill-opacity="0.85"/><circle cx="72" cy="13" r="4" fill="#3c3c3c" fill-opacity="0.85"/><circle cx="11" cy="38" r="5.5" fill="#323232" fill-opacity="0.85"/><circle cx="102" cy="113" r="6.5" fill="#505050" fill-opacity="0.85"/><circle cx="126.4" cy="97" r="7" fill="#505050" fill-opacity="0.85"/><circle cx="118" cy="110" r="6" fill="#505050" fill-opacity="0.85"/><circle cx="142" cy="130.5" r="6.5" fill="#555555" fill-opacity="0.85"/><circle cx="147" cy="96" r="5" fill="#646464" fill-opacity="0.85"/><circle cx="102" cy="37" r="5" fill="#787878" fill-opacity="0.85"/><circle cx="65" cy="71" r="6.5" fill="#787878" fill-opacity="0.85"/><circle cx="107.5" cy="63" r="5" fill="#afafaf" fill-opacity="0.85"/><circle cx="115.6" cy="35" r="4.5" fill="#b9b9b9" fill-opacity="0.85"/><circle cx="131" cy="118" r="6" fill="#787878" fill-opacity="0.85"/><circle cx="116" cy="136" r="6" fill="#7d7d7d" fill-opacity="0.85"/><circle cx="43" cy="121" r="7" fill="#6e6e6e" fill-opacity="0.85"/><circle cx="86" cy="107" r="6" fill="#7d7d7d" fill-opacity="0.85"/><circle cx="96.5" cy="129" r="4" fill="#5a5a5a" fill-opacity="0.85"/><circle cx="60" cy="96" r="6" fill="#828282" fill-opacity="0.85"/><circle cx="9" cy="48" r="4" fill="#6e6e6e" fill-opacity="0.85"/><circle cx="136" cy="39" r="9" fill="#c3c3c3" fill-opacity="0.85"/><circle cx="134" cy="52" r="5" fill="#555555" fill-opacity="0.85"/><circle cx="81" cy="84" r="5" fill="#3c3c3c" fill-opacity="0.85"/><circle cx="40" cy="45" r="6" fill="#7d7d7d" fill-opacity="0.85"/><circle cx="20" cy="55" r="6" fill="#787878" fill-opacity="0.85"/><circle cx="107" cy="77" r="6" fill="#8c8c8c" fill-opacity="0.85"/><circle cx="137" cy="80" r="6" fill="#878787" fill-opacity="0.85"/><circle cx="139" cy="112" r="5.5" fill="#828282" fill-opacity="0.85"/><circle cx="88" cy="136" r="6" fill="#828282" fill-opacity="0.85"/><circle cx="126" cy="132" r="6" fill="#7d7d7d" fill-opacity="0.85"/><circle cx="60" cy="130" r="6" fill="#7d7d7d" fill-opacity="0.85"/><circle cx="33" cy="112" r="6" fill="#8c8c8c" fill-opacity="0.85"/><circle cx="57" cy="84" r="5" fill="#828282" fill-opacity="0.85"/><circle cx="112" cy="96" r="5" fill="#8c8c8c" fill-opacity="0.85"/><circle cx="31" cy="56" r="4.5" fill="#141414" fill-opacity="0.9"/><circle cx="84" cy="52" r="5" fill="#141414" fill-opacity="0.9"/><circle cx="46.5" cy="80" r="4" fill="#191919" fill-opacity="0.9"/><circle cx="74.5" cy="84" r="4.5" fill="#141414" fill-opacity="0.9"/><circle cx="47.5" cy="105" r="4" fill="#232323" fill-opacity="0.9"/><circle cx="69.5" cy="112.5" r="4.5" fill="#141414" fill-opacity="0.9"/><circle cx="95" cy="69" r="3.5" fill="#2d2d2d" fill-opacity="0.9"/><circle cx="63" cy="40" r="3.5" fill="#2d2d2d" fill-opacity="0.9"/><circle cx="102" cy="113" r="3" fill="#373737" fill-opacity="0.9"/><circle cx="126.4" cy="97" r="3.5" fill="#323232" fill-opacity="0.9"/><circle cx="118" cy="110" r="3" fill="#373737" fill-opacity="0.9"/><circle cx="142" cy="130.5" r="3" fill="#373737" fill-opacity="0.9"/><circle cx="81" cy="84" r="3.5" fill="#141414" fill-opacity="0.9"/></g>
</g>
<g clip-path="url(#cbt)">
<g filter="url(#tx2)">
<g filter="url(#bt2)"><rect x="6" y="164" width="3.3" height="3.3" fill="#a9a9a9"/><rect x="9" y="164" width="30.3" height="3.3" fill="#969696"/><rect x="39" y="164" width="3.3" height="3.3" fill="#a1a1a1"/><rect x="42" y="164" width="3.3" height="3.3" fill="#a4a4a4"/><rect x="45" y="164" width="6.3" height="3.3" fill="#a8a8a8"/><rect x="51" y="164" width="3.3" height="3.3" fill="#a5a5a5"/><rect x="54" y="164" width="6.3" height="3.3" fill="#a1a1a1"/><rect x="60" y="164" width="3.3" height="3.3" fill="#9c9c9c"/><rect x="63" y="164" width="3.3" height="3.3" fill="#9e9e9e"/><rect x="66" y="164" width="3.3" height="3.3" fill="#a5a5a5"/><rect x="69" y="164" width="3.3" height="3.3" fill="#ababab"/><rect x="72" y="164" width="3.3" height="3.3" fill="#b0b0b0"/><rect x="75" y="164" width="3.3" height="3.3" fill="#a9a9a9"/><rect x="78" y="164" width="3.3" height="3.3" fill="#9d9d9d"/><rect x="81" y="164" width="3.3" height="3.3" fill="#969696"/><rect x="84" y="164" width="3.3" height="3.3" fill="#919191"/><rect x="87" y="164" width="3.3" height="3.3" fill="#8d8d8d"/><rect x="90" y="164" width="3.3" height="3.3" fill="#888888"/><rect x="93" y="164" width="3.3" height="3.3" fill="#838383"/><rect x="96" y="164" width="3.3" height="3.3" fill="#7c7c7c"/><rect x="99" y="164" width="3.3" height="3.3" fill="#6f6f6f"/><rect x="102" y="164" width="3.3" height="3.3" fill="#686868"/><rect x="105" y="164" width="6.3" height="3.3" fill="#656565"/><rect x="111" y="164" width="3.3" height="3.3" fill="#616161"/><rect x="114" y="164" width="3.3" height="3.3" fill="#5c5c5c"/><rect x="117" y="164" width="6.3" height="3.3" fill="#585858"/><rect x="123" y="164" width="3.3" height="3.3" fill="#5e5e5e"/><rect x="126" y="164" width="3.3" height="3.3" fill="#656565"/><rect x="129" y="164" width="3.3" height="3.3" fill="#686868"/><rect x="132" y="164" width="3.3" height="3.3" fill="#6a6a6a"/><rect x="135" y="164" width="6.3" height="3.3" fill="#6d6d6d"/><rect x="141" y="164" width="6.3" height="3.3" fill="#707070"/><rect x="147" y="164" width="6.3" height="3.3" fill="#727272"/><rect x="6" y="167" width="3.3" height="3.3" fill="#b9b9b9"/><rect x="9" y="167" width="3.3" height="3.3" fill="#a7a7a7"/><rect x="12" y="167" width="27.3" height="3.3" fill="#949494"/><rect x="39" y="167" width="3.3" height="3.3" fill="#999999"/><rect x="42" y="167" width="3.3" height="3.3" fill="#9d9d9d"/><rect x="45" y="167" width="3.3" height="3.3" fill="#a2a2a2"/><rect x="48" y="167" width="3.3" height="3.3" fill="#a0a0a0"/><rect x="51" y="167" width="3.3" height="3.3" fill="#a4a4a4"/><rect x="54" y="167" width="3.3" height="3.3" fill="#a8a8a8"/><rect x="57" y="167" width="3.3" height="3.3" fill="#a2a2a2"/><rect x="60" y="167" width="3.3" height="3.3" fill="#9a9a9a"/><rect x="63" y="167" width="3.3" height="3.3" fill="#9c9c9c"/><rect x="66" y="167" width="3.3" height="3.3" fill="#9e9e9e"/><rect x="69" y="167" width="3.3" height="3.3" fill="#ababab"/><rect x="72" y="167" width="3.3" height="3.3" fill="#b4b4b4"/><rect x="75" y="167" width="3.3" height="3.3" fill="#a7a7a7"/><rect x="78" y="167" width="3.3" height="3.3" fill="#949494"/><rect x="81" y="167" width="6.3" height="3.3" fill="#868686"/><rect x="87" y="167" width="3.3" height="3.3" fill="#828282"/><rect x="90" y="167" width="3.3" height="3.3" fill="#7d7d7d"/><rect x="93" y="167" width="3.3" height="3.3" fill="#787878"/><rect x="96" y="167" width="3.3" height="3.3" fill="#707070"/><rect x="99" y="167" width="3.3" height="3.3" fill="#696969"/><rect x="102" y="167" width="3.3" height="3.3" fill="#676767"/><rect x="105" y="167" width="6.3" height="3.3" fill="#656565"/><rect x="111" y="167" width="3.3" height="3.3" fill="#616161"/><rect x="114" y="167" width="3.3" height="3.3" fill="#5c5c5c"/><rect x="117" y="167" width="6.3" height="3.3" fill="#585858"/><rect x="123" y="167" width="3.3" height="3.3" fill="#5e5e5e"/><rect x="126" y="167" width="3.3" height="3.3" fill="#656565"/><rect x="129" y="167" width="3.3" height="3.3" fill="#686868"/><rect x="132" y="167" width="3.3" height="3.3" fill="#6a6a6a"/><rect x="135" y="167" width="6.3" height="3.3" fill="#6d6d6d"/><rect x="141" y="167" width="6.3" height="3.3" fill="#707070"/><rect x="147" y="167" width="6.3" height="3.3" fill="#727272"/><rect x="6" y="170" width="6.3" height="3.3" fill="#b9b9b9"/><rect x="12" y="170" width="3.3" height="3.3" fill="#a4a4a4"/><rect x="15" y="170" width="24.3" height="3.3" fill="#8f8f8f"/><rect x="39" y="170" width="3.3" height="3.3" fill="#878787"/><rect x="42" y="170" width="3.3" height="3.3" fill="#909090"/><rect x="45" y="170" width="6.3" height="3.3" fill="#949494"/><rect x="51" y="170" width="3.3" height="3.3" fill="#9c9c9c"/><rect x="54" y="170" width="3.3" height="3.3" fill="#a0a0a0"/><rect x="57" y="170" width="3.3" height="3.3" fill="#a3a3a3"/><rect x="60" y="170" width="3.3" height="3.3" fill="#9c9c9c"/><rect x="63" y="170" width="3.3" height="3.3" fill="#939393"/><rect x="66" y="170" width="3.3" height="3.3" fill="#9a9a9a"/><rect x="69" y="170" width="3.3" height="3.3" fill="#a7a7a7"/><rect x="72" y="170" width="3.3" height="3.3" fill="#aeaeae"/><rect x="75" y="170" width="3.3" height="3.3" fill="#9c9c9c"/><rect x="78" y="170" width="3.3" height="3.3" fill="#848484"/><rect x="81" y="170" width="3.3" height="3.3" fill="#757575"/><rect x="84" y="170" width="3.3" height="3.3" fill="#7d7d7d"/><rect x="87" y="170" width="3.3" height="3.3" fill="#787878"/><rect x="90" y="170" width="3.3" height="3.3" fill="#747474"/><rect x="93" y="170" width="3.3" height="3.3" fill="#6e6e6e"/><rect x="96" y="170" width="9.3" height="3.3" fill="#686868"/><rect x="105" y="170" width="6.3" height="3.3" fill="#656565"/><rect x="111" y="170" width="3.3" height="3.3" fill="#616161"/><rect x="114" y="170" width="3.3" height="3.3" fill="#5c5c5c"/><rect x="117" y="170" width="6.3" height="3.3" fill="#585858"/><rect x="123" y="170" width="3.3" height="3.3" fill="#5e5e5e"/><rect x="126" y="170" width="3.3" height="3.3" fill="#656565"/><rect x="129" y="170" width="3.3" height="3.3" fill="#686868"/><rect x="132" y="170" width="3.3" height="3.3" fill="#6a6a6a"/><rect x="135" y="170" width="6.3" height="3.3" fill="#6d6d6d"/><rect x="141" y="170" width="6.3" height="3.3" fill="#707070"/><rect x="147" y="170" width="6.3" height="3.3" fill="#727272"/><rect x="6" y="173" width="6.3" height="3.3" fill="#b9b9b9"/><rect x="12" y="173" width="3.3" height="3.3" fill="#bcbcbc"/><rect x="15" y="173" width="3.3" height="3.3" fill="#a1a1a1"/><rect x="18" y="173" width="3.3" height="3.3" fill="#878787"/><rect x="21" y="173" width="18.3" height="3.3" fill="#858585"/><rect x="39" y="173" width="3.3" height="3.3" fill="#7a7a7a"/><rect x="42" y="173" width="3.3" height="3.3" fill="#838383"/><rect x="45" y="173" width="3.3" height="3.3" fill="#898989"/><rect x="48" y="173" width="3.3" height="3.3" fill="#8d8d8d"/><rect x="51" y="173" width="3.3" height="3.3" fill="#8b8b8b"/><rect x="54" y="173" width="3.3" height="3.3" fill="#8f8f8f"/><rect x="57" y="173" width="12.3" height="3.3" fill="#949494"/><rect x="69" y="173" width="3.3" height="3.3" fill="#9f9f9f"/><rect x="72" y="173" width="3.3" height="3.3" fill="#a4a4a4"/><rect x="75" y="173" width="3.3" height="3.3" fill="#929292"/><rect x="78" y="173" width="3.3" height="3.3" fill="#767676"/><rect x="81" y="173" width="3.3" height="3.3" fill="#696969"/><rect x="84" y="173" width="3.3" height="3.3" fill="#767676"/><rect x="87" y="173" width="3.3" height="3.3" fill="#727272"/><rect x="90" y="173" width="3.3" height="3.3" fill="#6c6c6c"/><rect x="93" y="173" width="6.3" height="3.3" fill="#666666"/><rect x="99" y="173" width="6.3" height="3.3" fill="#686868"/><rect x="105" y="173" width="6.3" height="3.3" fill="#656565"/><rect x="111" y="173" width="3.3" height="3.3" fill="#616161"/><rect x="114" y="173" width="3.3" height="3.3" fill="#5c5c5c"/><rect x="117" y="173" width="6.3" height="3.3" fill="#585858"/><rect x="123" y="173" width="3.3" height="3.3" fill="#5e5e5e"/><rect x="126" y="173" width="3.3" height="3.3" fill="#656565"/><rect x="129" y="173" width="3.3" height="3.3" fill="#686868"/><rect x="132" y="173" width="3.3" height="3.3" fill="#6a6a6a"/><rect x="135" y="173" width="6.3" height="3.3" fill="#6d6d6d"/><rect x="141" y="173" width="6.3" height="3.3" fill="#707070"/><rect x="147" y="173" width="6.3" height="3.3" fill="#727272"/><rect x="6" y="176" width="6.3" height="3.3" fill="#b9b9b9"/><rect x="12" y="176" width="3.3" height="3.3" fill="#bdbdbd"/><rect x="15" y="176" width="3.3" height="3.3" fill="#bfbfbf"/><rect x="18" y="176" width="3.3" height="3.3" fill="#a1a1a1"/><rect x="21" y="176" width="3.3" height="3.3" fill="#848484"/><rect x="24" y="176" width="15.3" height="3.3" fill="#818181"/><rect x="39" y="176" width="3.3" height="3.3" fill="#7a7a7a"/><rect x="42" y="176" width="3.3" height="3.3" fill="#858585"/><rect x="45" y="176" width="3.3" height="3.3" fill="#959595"/><rect x="48" y="176" width="3.3" height="3.3" fill="#8a8a8a"/><rect x="51" y="176" width="3.3" height="3.3" fill="#7f7f7f"/><rect x="54" y="176" width="3.3" height="3.3" fill="#7c7c7c"/><rect x="57" y="176" width="3.3" height="3.3" fill="#868686"/><rect x="60" y="176" width="3.3" height="3.3" fill="#8b8b8b"/><rect x="63" y="176" width="3.3" height="3.3" fill="#8f8f8f"/><rect x="66" y="176" width="3.3" height="3.3" fill="#929292"/><rect x="69" y="176" width="6.3" height="3.3" fill="#9d9d9d"/><rect x="75" y="176" width="3.3" height="3.3" fill="#8a8a8a"/><rect x="78" y="176" width="3.3" height="3.3" fill="#6f6f6f"/><rect x="81" y="176" width="3.3" height="3.3" fill="#5f5f5f"/><rect x="84" y="176" width="3.3" height="3.3" fill="#707070"/><rect x="87" y="176" width="3.3" height="3.3" fill="#6a6a6a"/><rect x="90" y="176" width="6.3" height="3.3" fill="#646464"/><rect x="96" y="176" width="12.3" height="3.3" fill="#676767"/><rect x="108" y="176" width="3.3" height="3.3" fill="#646464"/><rect x="111" y="176" width="3.3" height="3.3" fill="#616161"/><rect x="114" y="176" width="3.3" height="3.3" fill="#5c5c5c"/><rect x="117" y="176" width="6.3" height="3.3" fill="#585858"/><rect x="123" y="176" width="3.3" height="3.3" fill="#5e5e5e"/><rect x="126" y="176" width="3.3" height="3.3" fill="#656565"/><rect x="129" y="176" width="3.3" height="3.3" fill="#686868"/><rect x="132" y="176" width="3.3" height="3.3" fill="#6a6a6a"/><rect x="135" y="176" width="6.3" height="3.3" fill="#6d6d6d"/><rect x="141" y="176" width="6.3" height="3.3" fill="#707070"/><rect x="147" y="176" width="6.3" height="3.3" fill="#727272"/><rect x="6" y="179" width="6.3" height="3.3" fill="#b9b9b9"/><rect x="12" y="179" width="3.3" height="3.3" fill="#bdbdbd"/><rect x="15" y="179" width="6.3" height="3.3" fill="#c2c2c2"/><rect x="21" y="179" width="3.3" height="3.3" fill="#a4a4a4"/><rect x="24" y="179" width="3.3" height="3.3" fill="#8b8b8b"/><rect x="27" y="179" width="15.3" height="3.3" fill="#878787"/><rect x="42" y="179" width="3.3" height="3.3" fill="#989898"/><rect x="45" y="179" width="3.3" height="3.3" fill="#a2a2a2"/><rect x="48" y="179" width="3.3" height="3.3" fill="#989898"/><rect x="51" y="179" width="3.3" height="3.3" fill="#858585"/><rect x="54" y="179" width="3.3" height="3.3" fill="#7d7d7d"/><rect x="57" y="179" width="3.3" height="3.3" fill="#838383"/><rect x="60" y="179" width="3.3" height="3.3" fill="#8d8d8d"/><rect x="63" y="179" width="6.3" height="3.3" fill="#919191"/><rect x="69" y="179" width="3.3" height="3.3" fill="#979797"/><rect x="72" y="179" width="3.3" height="3.3" fill="#929292"/><rect x="75" y="179" width="3.3" height="3.3" fill="#7f7f7f"/><rect x="78" y="179" width="3.3" height="3.3" fill="#696969"/><rect x="81" y="179" width="3.3" height="3.3" fill="#565656"/><rect x="84" y="179" width="3.3" height="3.3" fill="#656565"/><rect x="87" y="179" width="6.3" height="3.3" fill="#616161"/><rect x="93" y="179" width="3.3" height="3.3" fill="#636363"/><rect x="96" y="179" width="12.3" height="3.3" fill="#676767"/><rect x="108" y="179" width="3.3" height="3.3" fill="#646464"/><rect x="111" y="179" width="3.3" height="3.3" fill="#616161"/><rect x="114" y="179" width="3.3" height="3.3" fill="#5c5c5c"/><rect x="117" y="179" width="6.3" height="3.3" fill="#585858"/><rect x="123" y="179" width="3.3" height="3.3" fill="#5e5e5e"/><rect x="126" y="179" width="3.3" height="3.3" fill="#656565"/><rect x="129" y="179" width="3.3" height="3.3" fill="#686868"/><rect x="132" y="179" width="3.3" height="3.3" fill="#6a6a6a"/><rect x="135" y="179" width="6.3" height="3.3" fill="#6d6d6d"/><rect x="141" y="179" width="6.3" height="3.3" fill="#707070"/><rect x="147" y="179" width="6.3" height="3.3" fill="#727272"/><rect x="6" y="182" width="6.3" height="3.3" fill="#b9b9b9"/><rect x="12" y="182" width="3.3" height="3.3" fill="#bdbdbd"/><rect x="15" y="182" width="3.3" height="3.3" fill="#c2c2c2"/><rect x="18" y="182" width="3.3" height="3.3" fill="#c5c5c5"/><rect x="21" y="182" width="3.3" height="3.3" fill="#c1c1c1"/><rect x="24" y="182" width="3.3" height="3.3" fill="#ababab"/><rect x="27" y="182" width="3.3" height="3.3" fill="#9a9a9a"/><rect x="30" y="182" width="9.3" height="3.3" fill="#959595"/><rect x="39" y="182" width="3.3" height="3.3" fill="#979797"/><rect x="42" y="182" width="3.3" height="3.3" fill="#a2a2a2"/><rect x="45" y="182" width="3.3" height="3.3" fill="#acacac"/><rect x="48" y="182" width="3.3" height="3.3" fill="#a5a5a5"/><rect x="51" y="182" width="3.3" height="3.3" fill="#939393"/><rect x="54" y="182" width="3.3" height="3.3" fill="#8b8b8b"/><rect x="57" y="182" width="3.3" height="3.3" fill="#909090"/><rect x="60" y="182" width="3.3" height="3.3" fill="#9a9a9a"/><rect x="63" y="182" width="3.3" height="3.3" fill="#9c9c9c"/><rect x="66" y="182" width="3.3" height="3.3" fill="#969696"/><rect x="69" y="182" width="3.3" height="3.3" fill="#8b8b8b"/><rect x="72" y="182" width="3.3" height="3.3" fill="#7b7b7b"/><rect x="75" y="182" width="3.3" height="3.3" fill="#676767"/><rect x="78" y="182" width="3.3" height="3.3" fill="#5a5a5a"/><rect x="81" y="182" width="3.3" height="3.3" fill="#555555"/><rect x="84" y="182" width="3.3" height="3.3" fill="#595959"/><rect x="87" y="182" width="3.3" height="3.3" fill="#5c5c5c"/><rect x="90" y="182" width="3.3" height="3.3" fill="#606060"/><rect x="93" y="182" width="3.3" height="3.3" fill="#636363"/><rect x="96" y="182" width="12.3" height="3.3" fill="#676767"/><rect x="108" y="182" width="3.3" height="3.3" fill="#646464"/><rect x="111" y="182" width="3.3" height="3.3" fill="#626262"/><rect x="114" y="182" width="3.3" height="3.3" fill="#5c5c5c"/><rect x="117" y="182" width="6.3" height="3.3" fill="#585858"/><rect x="123" y="182" width="3.3" height="3.3" fill="#5e5e5e"/><rect x="126" y="182" width="3.3" height="3.3" fill="#646464"/><rect x="129" y="182" width="3.3" height="3.3" fill="#686868"/><rect x="132" y="182" width="3.3" height="3.3" fill="#6a6a6a"/><rect x="135" y="182" width="6.3" height="3.3" fill="#6d6d6d"/><rect x="141" y="182" width="6.3" height="3.3" fill="#707070"/><rect x="147" y="182" width="6.3" height="3.3" fill="#727272"/><rect x="6" y="185" width="6.3" height="3.3" fill="#b9b9b9"/><rect x="12" y="185" width="3.3" height="3.3" fill="#bdbdbd"/><rect x="15" y="185" width="3.3" height="3.3" fill="#c2c2c2"/><rect x="18" y="185" width="6.3" height="3.3" fill="#c5c5c5"/><rect x="24" y="185" width="3.3" height="3.3" fill="#c1c1c1"/><rect x="27" y="185" width="3.3" height="3.3" fill="#b2b2b2"/><rect x="30" y="185" width="3.3" height="3.3" fill="#a5a5a5"/><rect x="33" y="185" width="6.3" height="3.3" fill="#a1a1a1"/><rect x="39" y="185" width="3.3" height="3.3" fill="#a5a5a5"/><rect x="42" y="185" width="9.3" height="3.3" fill="#acacac"/><rect x="51" y="185" width="3.3" height="3.3" fill="#a2a2a2"/><rect x="54" y="185" width="3.3" height="3.3" fill="#979797"/><rect x="57" y="185" width="3.3" height="3.3" fill="#9c9c9c"/><rect x="60" y="185" width="6.3" height="3.3" fill="#a8a8a8"/><rect x="66" y="185" width="3.3" height="3.3" fill="#969696"/><rect x="69" y="185" width="3.3" height="3.3" fill="#7d7d7d"/><rect x="72" y="185" width="3.3" height="3.3" fill="#636363"/><rect x="75" y="185" width="3.3" height="3.3" fill="#575757"/><rect x="78" y="185" width="3.3" height="3.3" fill="#5a5a5a"/><rect x="81" y="185" width="3.3" height="3.3" fill="#616161"/><rect x="84" y="185" width="3.3" height="3.3" fill="#666666"/><rect x="87" y="185" width="3.3" height="3.3" fill="#5c5c5c"/><rect x="90" y="185" width="3.3" height="3.3" fill="#585858"/><rect x="93" y="185" width="3.3" height="3.3" fill="#555555"/><rect x="96" y="185" width="3.3" height="3.3" fill="#606060"/><rect x="99" y="185" width="3.3" height="3.3" fill="#6e6e6e"/><rect x="102" y="185" width="3.3" height="3.3" fill="#7b7b7b"/><rect x="105" y="185" width="3.3" height="3.3" fill="#747474"/><rect x="108" y="185" width="3.3" height="3.3" fill="#545454"/><rect x="111" y="185" width="3.3" height="3.3" fill="#333333"/><rect x="114" y="185" width="3.3" height="3.3" fill="#252525"/><rect x="117" y="185" width="3.3" height="3.3" fill="#313131"/><rect x="120" y="185" width="3.3" height="3.3" fill="#4e4e4e"/><rect x="123" y="185" width="3.3" height="3.3" fill="#636363"/><rect x="126" y="185" width="3.3" height="3.3" fill="#6d6d6d"/><rect x="129" y="185" width="3.3" height="3.3" fill="#6f6f6f"/><rect x="132" y="185" width="3.3" height="3.3" fill="#737373"/><rect x="135" y="185" width="3.3" height="3.3" fill="#777777"/><rect x="138" y="185" width="3.3" height="3.3" fill="#7f7f7f"/><rect x="141" y="185" width="3.3" height="3.3" fill="#7b7b7b"/><rect x="144" y="185" width="3.3" height="3.3" fill="#757575"/><rect x="147" y="185" width="3.3" height="3.3" fill="#6e6e6e"/><rect x="150" y="185" width="3.3" height="3.3" fill="#686868"/><rect x="6" y="188" width="6.3" height="3.3" fill="#bababa"/><rect x="12" y="188" width="3.3" height="3.3" fill="#bdbdbd"/><rect x="15" y="188" width="3.3" height="3.3" fill="#c2c2c2"/><rect x="18" y="188" width="9.3" height="3.3" fill="#c5c5c5"/><rect x="27" y="188" width="3.3" height="3.3" fill="#c0c0c0"/><rect x="30" y="188" width="3.3" height="3.3" fill="#b6b6b6"/><rect x="33" y="188" width="3.3" height="3.3" fill="#acacac"/><rect x="36" y="188" width="6.3" height="3.3" fill="#a8a8a8"/><rect x="42" y="188" width="6.3" height="3.3" fill="#aeaeae"/><rect x="48" y="188" width="3.3" height="3.3" fill="#aaaaaa"/><rect x="51" y="188" width="6.3" height="3.3" fill="#a2a2a2"/><rect x="57" y="188" width="3.3" height="3.3" fill="#a7a7a7"/><rect x="60" y="188" width="3.3" height="3.3" fill="#aeaeae"/><rect x="63" y="188" width="3.3" height="3.3" fill="#acacac"/><rect x="66" y="188" width="3.3" height="3.3" fill="#989898"/><rect x="69" y="188" width="3.3" height="3.3" fill="#767676"/><rect x="72" y="188" width="3.3" height="3.3" fill="#595959"/><rect x="75" y="188" width="3.3" height="3.3" fill="#555555"/><rect x="78" y="188" width="3.3" height="3.3" fill="#6b6b6b"/><rect x="81" y="188" width="3.3" height="3.3" fill="#7c7c7c"/><rect x="84" y="188" width="3.3" height="3.3" fill="#848484"/><rect x="87" y="188" width="3.3" height="3.3" fill="#797979"/><rect x="90" y="188" width="3.3" height="3.3" fill="#6e6e6e"/><rect x="93" y="188" width="6.3" height="3.3" fill="#646464"/><rect x="99" y="188" width="3.3" height="3.3" fill="#717171"/><rect x="102" y="188" width="3.3" height="3.3" fill="#808080"/><rect x="105" y="188" width="3.3" height="3.3" fill="#797979"/><rect x="108" y="188" width="3.3" height="3.3" fill="#5d5d5d"/><rect x="111" y="188" width="3.3" height="3.3" fill="#373737"/><rect x="114" y="188" width="3.3" height="3.3" fill="#2d2d2d"/><rect x="117" y="188" width="3.3" height="3.3" fill="#3e3e3e"/><rect x="120" y="188" width="3.3" height="3.3" fill="#656565"/><rect x="123" y="188" width="3.3" height="3.3" fill="#7e7e7e"/><rect x="126" y="188" width="3.3" height="3.3" fill="#808080"/><rect x="129" y="188" width="3.3" height="3.3" fill="#757575"/><rect x="132" y="188" width="6.3" height="3.3" fill="#6d6d6d"/><rect x="138" y="188" width="3.3" height="3.3" fill="#717171"/><rect x="141" y="188" width="9.3" height="3.3" fill="#6f6f6f"/><rect x="150" y="188" width="3.3" height="3.3" fill="#6d6d6d"/><rect x="6" y="191" width="3.3" height="3.3" fill="#b0b0b0"/><rect x="9" y="191" width="3.3" height="3.3" fill="#a7a7a7"/><rect x="12" y="191" width="3.3" height="3.3" fill="#ababab"/><rect x="15" y="191" width="3.3" height="3.3" fill="#b1b1b1"/><rect x="18" y="191" width="3.3" height="3.3" fill="#b5b5b5"/><rect x="21" y="191" width="6.3" height="3.3" fill="#bebebe"/><rect x="27" y="191" width="6.3" height="3.3" fill="#c1c1c1"/><rect x="33" y="191" width="3.3" height="3.3" fill="#b7b7b7"/><rect x="36" y="191" width="6.3" height="3.3" fill="#b3b3b3"/><rect x="42" y="191" width="3.3" height="3.3" fill="#b7b7b7"/><rect x="45" y="191" width="6.3" height="3.3" fill="#adadad"/><rect x="51" y="191" width="3.3" height="3.3" fill="#a9a9a9"/><rect x="54" y="191" width="3.3" height="3.3" fill="#a3a3a3"/><rect x="57" y="191" width="3.3" height="3.3" fill="#ababab"/><rect x="60" y="191" width="3.3" height="3.3" fill="#afafaf"/><rect x="63" y="191" width="3.3" height="3.3" fill="#a5a5a5"/><rect x="66" y="191" width="3.3" height="3.3" fill="#8d8d8d"/><rect x="69" y="191" width="3.3" height="3.3" fill="#6e6e6e"/><rect x="72" y="191" width="3.3" height="3.3" fill="#565656"/><rect x="75" y="191" width="3.3" height="3.3" fill="#5e5e5e"/><rect x="78" y="191" width="3.3" height="3.3" fill="#787878"/><rect x="81" y="191" width="3.3" height="3.3" fill="#8d8d8d"/><rect x="84" y="191" width="3.3" height="3.3" fill="#979797"/><rect x="87" y="191" width="3.3" height="3.3" fill="#909090"/><rect x="90" y="191" width="3.3" height="3.3" fill="#818181"/><rect x="93" y="191" width="3.3" height="3.3" fill="#767676"/><rect x="96" y="191" width="3.3" height="3.3" fill="#6c6c6c"/><rect x="99" y="191" width="3.3" height="3.3" fill="#6a6a6a"/><rect x="102" y="191" width="6.3" height="3.3" fill="#767676"/><rect x="108" y="191" width="3.3" height="3.3" fill="#666666"/><rect x="111" y="191" width="3.3" height="3.3" fill="#4d4d4d"/><rect x="114" y="191" width="3.3" height="3.3" fill="#3f3f3f"/><rect x="117" y="191" width="3.3" height="3.3" fill="#545454"/><rect x="120" y="191" width="3.3" height="3.3" fill="#767676"/><rect x="123" y="191" width="3.3" height="3.3" fill="#8f8f8f"/><rect x="126" y="191" width="3.3" height="3.3" fill="#919191"/><rect x="129" y="191" width="3.3" height="3.3" fill="#808080"/><rect x="132" y="191" width="3.3" height="3.3" fill="#6e6e6e"/><rect x="135" y="191" width="3.3" height="3.3" fill="#626262"/><rect x="138" y="191" width="3.3" height="3.3" fill="#5c5c5c"/><rect x="141" y="191" width="3.3" height="3.3" fill="#5a5a5a"/><rect x="144" y="191" width="3.3" height="3.3" fill="#5f5f5f"/><rect x="147" y="191" width="3.3" height="3.3" fill="#696969"/><rect x="150" y="191" width="3.3" height="3.3" fill="#6b6b6b"/><rect x="6" y="194" width="3.3" height="3.3" fill="#afafaf"/><rect x="9" y="194" width="6.3" height="3.3" fill="#acacac"/><rect x="15" y="194" width="3.3" height="3.3" fill="#b1b1b1"/><rect x="18" y="194" width="3.3" height="3.3" fill="#b5b5b5"/><rect x="21" y="194" width="3.3" height="3.3" fill="#b9b9b9"/><rect x="24" y="194" width="6.3" height="3.3" fill="#c0c0c0"/><rect x="30" y="194" width="3.3" height="3.3" fill="#c2c2c2"/><rect x="33" y="194" width="3.3" height="3.3" fill="#bebebe"/><rect x="36" y="194" width="9.3" height="3.3" fill="#b8b8b8"/><rect x="45" y="194" width="3.3" height="3.3" fill="#b1b1b1"/><rect x="48" y="194" width="3.3" height="3.3" fill="#aaaaaa"/><rect x="51" y="194" width="3.3" height="3.3" fill="#acacac"/><rect x="54" y="194" width="3.3" height="3.3" fill="#aaaaaa"/><rect x="57" y="194" width="3.3" height="3.3" fill="#adadad"/><rect x="60" y="194" width="3.3" height="3.3" fill="#ababab"/><rect x="63" y="194" width="3.3" height="3.3" fill="#9e9e9e"/><rect x="66" y="194" width="3.3" height="3.3" fill="#808080"/><rect x="69" y="194" width="3.3" height="3.3" fill="#696969"/><rect x="72" y="194" width="3.3" height="3.3" fill="#575757"/><rect x="75" y="194" width="3.3" height="3.3" fill="#646464"/><rect x="78" y="194" width="3.3" height="3.3" fill="#757575"/><rect x="81" y="194" width="3.3" height="3.3" fill="#828282"/><rect x="84" y="194" width="9.3" height="3.3" fill="#848484"/><rect x="93" y="194" width="3.3" height="3.3" fill="#7d7d7d"/><rect x="96" y="194" width="3.3" height="3.3" fill="#737373"/><rect x="99" y="194" width="3.3" height="3.3" fill="#616161"/><rect x="102" y="194" width="3.3" height="3.3" fill="#666666"/><rect x="105" y="194" width="6.3" height="3.3" fill="#6e6e6e"/><rect x="111" y="194" width="3.3" height="3.3" fill="#616161"/><rect x="114" y="194" width="3.3" height="3.3" fill="#555555"/><rect x="117" y="194" width="3.3" height="3.3" fill="#5f5f5f"/><rect x="120" y="194" width="3.3" height="3.3" fill="#7a7a7a"/><rect x="123" y="194" width="6.3" height="3.3" fill="#8c8c8c"/><rect x="129" y="194" width="3.3" height="3.3" fill="#7d7d7d"/><rect x="132" y="194" width="3.3" height="3.3" fill="#696969"/><rect x="135" y="194" width="3.3" height="3.3" fill="#5e5e5e"/><rect x="138" y="194" width="3.3" height="3.3" fill="#515151"/><rect x="141" y="194" width="3.3" height="3.3" fill="#4d4d4d"/><rect x="144" y="194" width="3.3" height="3.3" fill="#555555"/><rect x="147" y="194" width="3.3" height="3.3" fill="#5f5f5f"/><rect x="150" y="194" width="3.3" height="3.3" fill="#676767"/><rect x="6" y="197" width="3.3" height="3.3" fill="#b9b9b9"/><rect x="9" y="197" width="3.3" height="3.3" fill="#b5b5b5"/><rect x="12" y="197" width="3.3" height="3.3" fill="#b7b7b7"/><rect x="15" y="197" width="3.3" height="3.3" fill="#bababa"/><rect x="18" y="197" width="3.3" height="3.3" fill="#c0c0c0"/><rect x="21" y="197" width="6.3" height="3.3" fill="#c3c3c3"/><rect x="27" y="197" width="3.3" height="3.3" fill="#bfbfbf"/><rect x="30" y="197" width="3.3" height="3.3" fill="#bdbdbd"/><rect x="33" y="197" width="3.3" height="3.3" fill="#bababa"/><rect x="36" y="197" width="3.3" height="3.3" fill="#b7b7b7"/><rect x="39" y="197" width="3.3" height="3.3" fill="#b9b9b9"/><rect x="42" y="197" width="3.3" height="3.3" fill="#b4b4b4"/><rect x="45" y="197" width="3.3" height="3.3" fill="#afafaf"/><rect x="48" y="197" width="3.3" height="3.3" fill="#acacac"/><rect x="51" y="197" width="3.3" height="3.3" fill="#afafaf"/><rect x="54" y="197" width="3.3" height="3.3" fill="#aaaaaa"/><rect x="57" y="197" width="3.3" height="3.3" fill="#a7a7a7"/><rect x="60" y="197" width="3.3" height="3.3" fill="#a5a5a5"/><rect x="63" y="197" width="3.3" height="3.3" fill="#989898"/><rect x="66" y="197" width="3.3" height="3.3" fill="#7e7e7e"/><rect x="69" y="197" width="3.3" height="3.3" fill="#6f6f6f"/><rect x="72" y="197" width="15.3" height="3.3" fill="#5d5d5d"/><rect x="87" y="197" width="3.3" height="3.3" fill="#666666"/><rect x="90" y="197" width="3.3" height="3.3" fill="#797979"/><rect x="93" y="197" width="3.3" height="3.3" fill="#7f7f7f"/><rect x="96" y="197" width="3.3" height="3.3" fill="#777777"/><rect x="99" y="197" width="3.3" height="3.3" fill="#646464"/><rect x="102" y="197" width="3.3" height="3.3" fill="#5c5c5c"/><rect x="105" y="197" width="3.3" height="3.3" fill="#676767"/><rect x="108" y="197" width="3.3" height="3.3" fill="#707070"/><rect x="111" y="197" width="3.3" height="3.3" fill="#6d6d6d"/><rect x="114" y="197" width="3.3" height="3.3" fill="#636363"/><rect x="117" y="197" width="3.3" height="3.3" fill="#676767"/><rect x="120" y="197" width="3.3" height="3.3" fill="#747474"/><rect x="123" y="197" width="3.3" height="3.3" fill="#818181"/><rect x="126" y="197" width="3.3" height="3.3" fill="#7e7e7e"/><rect x="129" y="197" width="3.3" height="3.3" fill="#7a7a7a"/><rect x="132" y="197" width="3.3" height="3.3" fill="#727272"/><rect x="135" y="197" width="3.3" height="3.3" fill="#696969"/><rect x="138" y="197" width="9.3" height="3.3" fill="#616161"/><rect x="147" y="197" width="3.3" height="3.3" fill="#686868"/><rect x="150" y="197" width="3.3" height="3.3" fill="#6d6d6d"/><rect x="6" y="200" width="12.3" height="3.3" fill="#c9c9c9"/><rect x="18" y="200" width="3.3" height="3.3" fill="#d0d0d0"/><rect x="21" y="200" width="3.3" height="3.3" fill="#cacaca"/><rect x="24" y="200" width="3.3" height="3.3" fill="#c1c1c1"/><rect x="27" y="200" width="3.3" height="3.3" fill="#bababa"/><rect x="30" y="200" width="3.3" height="3.3" fill="#b8b8b8"/><rect x="33" y="200" width="9.3" height="3.3" fill="#b3b3b3"/><rect x="42" y="200" width="3.3" height="3.3" fill="#b5b5b5"/><rect x="45" y="200" width="3.3" height="3.3" fill="#b3b3b3"/><rect x="48" y="200" width="6.3" height="3.3" fill="#b1b1b1"/><rect x="54" y="200" width="3.3" height="3.3" fill="#afafaf"/><rect x="57" y="200" width="3.3" height="3.3" fill="#aaaaaa"/><rect x="60" y="200" width="3.3" height="3.3" fill="#a2a2a2"/><rect x="63" y="200" width="3.3" height="3.3" fill="#939393"/><rect x="66" y="200" width="3.3" height="3.3" fill="#7e7e7e"/><rect x="69" y="200" width="3.3" height="3.3" fill="#737373"/><rect x="72" y="200" width="3.3" height="3.3" fill="#646464"/><rect x="75" y="200" width="3.3" height="3.3" fill="#555555"/><rect x="78" y="200" width="3.3" height="3.3" fill="#454545"/><rect x="81" y="200" width="3.3" height="3.3" fill="#373737"/><rect x="84" y="200" width="3.3" height="3.3" fill="#393939"/><rect x="87" y="200" width="3.3" height="3.3" fill="#4b4b4b"/><rect x="90" y="200" width="3.3" height="3.3" fill="#6d6d6d"/><rect x="93" y="200" width="3.3" height="3.3" fill="#868686"/><rect x="96" y="200" width="3.3" height="3.3" fill="#848484"/><rect x="99" y="200" width="3.3" height="3.3" fill="#6f6f6f"/><rect x="102" y="200" width="3.3" height="3.3" fill="#5c5c5c"/><rect x="105" y="200" width="3.3" height="3.3" fill="#616161"/><rect x="108" y="200" width="6.3" height="3.3" fill="#6d6d6d"/><rect x="114" y="200" width="3.3" height="3.3" fill="#6a6a6a"/><rect x="117" y="200" width="3.3" height="3.3" fill="#6e6e6e"/><rect x="120" y="200" width="9.3" height="3.3" fill="#797979"/><rect x="129" y="200" width="3.3" height="3.3" fill="#737373"/><rect x="132" y="200" width="3.3" height="3.3" fill="#757575"/><rect x="135" y="200" width="3.3" height="3.3" fill="#787878"/><rect x="138" y="200" width="3.3" height="3.3" fill="#7d7d7d"/><rect x="141" y="200" width="3.3" height="3.3" fill="#7f7f7f"/><rect x="144" y="200" width="3.3" height="3.3" fill="#828282"/><rect x="147" y="200" width="6.3" height="3.3" fill="#808080"/><rect x="6" y="203" width="3.3" height="3.3" fill="#d5d5d5"/><rect x="9" y="203" width="6.3" height="3.3" fill="#d9d9d9"/><rect x="15" y="203" width="6.3" height="3.3" fill="#d4d4d4"/><rect x="21" y="203" width="3.3" height="3.3" fill="#cecece"/><rect x="24" y="203" width="3.3" height="3.3" fill="#c1c1c1"/><rect x="27" y="203" width="3.3" height="3.3" fill="#b7b7b7"/><rect x="30" y="203" width="3.3" height="3.3" fill="#b5b5b5"/><rect x="33" y="203" width="15.3" height="3.3" fill="#b3b3b3"/><rect x="48" y="203" width="3.3" height="3.3" fill="#b6b6b6"/><rect x="51" y="203" width="3.3" height="3.3" fill="#b3b3b3"/><rect x="54" y="203" width="3.3" height="3.3" fill="#aeaeae"/><rect x="57" y="203" width="3.3" height="3.3" fill="#a3a3a3"/><rect x="60" y="203" width="3.3" height="3.3" fill="#979797"/><rect x="63" y="203" width="3.3" height="3.3" fill="#878787"/><rect x="66" y="203" width="3.3" height="3.3" fill="#818181"/><rect x="69" y="203" width="3.3" height="3.3" fill="#7c7c7c"/><rect x="72" y="203" width="3.3" height="3.3" fill="#757575"/><rect x="75" y="203" width="3.3" height="3.3" fill="#606060"/><rect x="78" y="203" width="3.3" height="3.3" fill="#414141"/><rect x="81" y="203" width="3.3" height="3.3" fill="#262626"/><rect x="84" y="203" width="3.3" height="3.3" fill="#2b2b2b"/><rect x="87" y="203" width="3.3" height="3.3" fill="#454545"/><rect x="90" y="203" width="3.3" height="3.3" fill="#727272"/><rect x="93" y="203" width="6.3" height="3.3" fill="#8d8d8d"/><rect x="99" y="203" width="3.3" height="3.3" fill="#767676"/><rect x="102" y="203" width="6.3" height="3.3" fill="#616161"/><rect x="108" y="203" width="3.3" height="3.3" fill="#6e6e6e"/><rect x="111" y="203" width="3.3" height="3.3" fill="#707070"/><rect x="114" y="203" width="6.3" height="3.3" fill="#6e6e6e"/><rect x="120" y="203" width="3.3" height="3.3" fill="#7c7c7c"/><rect x="123" y="203" width="3.3" height="3.3" fill="#838383"/><rect x="126" y="203" width="3.3" height="3.3" fill="#7b7b7b"/><rect x="129" y="203" width="6.3" height="3.3" fill="#6e6e6e"/><rect x="135" y="203" width="3.3" height="3.3" fill="#808080"/><rect x="138" y="203" width="3.3" height="3.3" fill="#8e8e8e"/><rect x="141" y="203" width="6.3" height="3.3" fill="#979797"/><rect x="147" y="203" width="3.3" height="3.3" fill="#919191"/><rect x="150" y="203" width="3.3" height="3.3" fill="#878787"/><rect x="6" y="206" width="3.3" height="3.3" fill="#d9d9d9"/><rect x="9" y="206" width="3.3" height="3.3" fill="#dcdcdc"/><rect x="12" y="206" width="3.3" height="3.3" fill="#d5d5d5"/><rect x="15" y="206" width="6.3" height="3.3" fill="#d3d3d3"/><rect x="21" y="206" width="3.3" height="3.3" fill="#c6c6c6"/><rect x="24" y="206" width="3.3" height="3.3" fill="#bdbdbd"/><rect x="27" y="206" width="9.3" height="3.3" fill="#bababa"/><rect x="36" y="206" width="3.3" height="3.3" fill="#b6b6b6"/><rect x="39" y="206" width="3.3" height="3.3" fill="#b4b4b4"/><rect x="42" y="206" width="3.3" height="3.3" fill="#b6b6b6"/><rect x="45" y="206" width="9.3" height="3.3" fill="#b1b1b1"/><rect x="54" y="206" width="3.3" height="3.3" fill="#a4a4a4"/><rect x="57" y="206" width="3.3" height="3.3" fill="#989898"/><rect x="60" y="206" width="3.3" height="3.3" fill="#878787"/><rect x="63" y="206" width="3.3" height="3.3" fill="#767676"/><rect x="66" y="206" width="3.3" height="3.3" fill="#717171"/><rect x="69" y="206" width="3.3" height="3.3" fill="#7e7e7e"/><rect x="72" y="206" width="3.3" height="3.3" fill="#808080"/><rect x="75" y="206" width="3.3" height="3.3" fill="#6f6f6f"/><rect x="78" y="206" width="3.3" height="3.3" fill="#494949"/><rect x="81" y="206" width="3.3" height="3.3" fill="#2b2b2b"/><rect x="84" y="206" width="3.3" height="3.3" fill="#2e2e2e"/><rect x="87" y="206" width="3.3" height="3.3" fill="#4f4f4f"/><rect x="90" y="206" width="3.3" height="3.3" fill="#787878"/><rect x="93" y="206" width="3.3" height="3.3" fill="#8d8d8d"/><rect x="96" y="206" width="3.3" height="3.3" fill="#868686"/><rect x="99" y="206" width="3.3" height="3.3" fill="#696969"/><rect x="102" y="206" width="3.3" height="3.3" fill="#585858"/><rect x="105" y="206" width="3.3" height="3.3" fill="#5a5a5a"/><rect x="108" y="206" width="3.3" height="3.3" fill="#6b6b6b"/><rect x="111" y="206" width="9.3" height="3.3" fill="#6e6e6e"/><rect x="120" y="206" width="3.3" height="3.3" fill="#808080"/><rect x="123" y="206" width="3.3" height="3.3" fill="#8c8c8c"/><rect x="126" y="206" width="3.3" height="3.3" fill="#7f7f7f"/><rect x="129" y="206" width="6.3" height="3.3" fill="#707070"/><rect x="135" y="206" width="3.3" height="3.3" fill="#828282"/><rect x="138" y="206" width="3.3" height="3.3" fill="#959595"/><rect x="141" y="206" width="3.3" height="3.3" fill="#9f9f9f"/><rect x="144" y="206" width="3.3" height="3.3" fill="#989898"/><rect x="147" y="206" width="3.3" height="3.3" fill="#8a8a8a"/><rect x="150" y="206" width="3.3" height="3.3" fill="#7f7f7f"/><rect x="6" y="209" width="6.3" height="3.3" fill="#d4d4d4"/><rect x="12" y="209" width="3.3" height="3.3" fill="#cdcdcd"/><rect x="15" y="209" width="3.3" height="3.3" fill="#c7c7c7"/><rect x="18" y="209" width="6.3" height="3.3" fill="#bfbfbf"/><rect x="24" y="209" width="3.3" height="3.3" fill="#b9b9b9"/><rect x="27" y="209" width="3.3" height="3.3" fill="#bebebe"/><rect x="30" y="209" width="3.3" height="3.3" fill="#c0c0c0"/><rect x="33" y="209" width="3.3" height="3.3" fill="#bcbcbc"/><rect x="36" y="209" width="3.3" height="3.3" fill="#b9b9b9"/><rect x="39" y="209" width="3.3" height="3.3" fill="#b6b6b6"/><rect x="42" y="209" width="3.3" height="3.3" fill="#b1b1b1"/><rect x="45" y="209" width="6.3" height="3.3" fill="#acacac"/><rect x="51" y="209" width="3.3" height="3.3" fill="#a7a7a7"/><rect x="54" y="209" width="3.3" height="3.3" fill="#9f9f9f"/><rect x="57" y="209" width="3.3" height="3.3" fill="#8d8d8d"/><rect x="60" y="209" width="3.3" height="3.3" fill="#717171"/><rect x="63" y="209" width="3.3" height="3.3" fill="#5c5c5c"/><rect x="66" y="209" width="3.3" height="3.3" fill="#595959"/><rect x="69" y="209" width="3.3" height="3.3" fill="#6e6e6e"/><rect x="72" y="209" width="3.3" height="3.3" fill="#7f7f7f"/><rect x="75" y="209" width="3.3" height="3.3" fill="#757575"/><rect x="78" y="209" width="3.3" height="3.3" fill="#505050"/><rect x="81" y="209" width="3.3" height="3.3" fill="#323232"/><rect x="84" y="209" width="3.3" height="3.3" fill="#343434"/><rect x="87" y="209" width="3.3" height="3.3" fill="#585858"/><rect x="90" y="209" width="3.3" height="3.3" fill="#7a7a7a"/><rect x="93" y="209" width="3.3" height="3.3" fill="#828282"/><rect x="96" y="209" width="3.3" height="3.3" fill="#787878"/><rect x="99" y="209" width="3.3" height="3.3" fill="#5d5d5d"/><rect x="102" y="209" width="3.3" height="3.3" fill="#4c4c4c"/><rect x="105" y="209" width="3.3" height="3.3" fill="#525252"/><rect x="108" y="209" width="3.3" height="3.3" fill="#676767"/><rect x="111" y="209" width="3.3" height="3.3" fill="#727272"/><rect x="114" y="209" width="3.3" height="3.3" fill="#6e6e6e"/><rect x="117" y="209" width="3.3" height="3.3" fill="#717171"/><rect x="120" y="209" width="3.3" height="3.3" fill="#888888"/><rect x="123" y="209" width="3.3" height="3.3" fill="#979797"/><rect x="126" y="209" width="3.3" height="3.3" fill="#858585"/><rect x="129" y="209" width="3.3" height="3.3" fill="#737373"/><rect x="132" y="209" width="3.3" height="3.3" fill="#717171"/><rect x="135" y="209" width="3.3" height="3.3" fill="#8a8a8a"/><rect x="138" y="209" width="6.3" height="3.3" fill="#9d9d9d"/><rect x="144" y="209" width="3.3" height="3.3" fill="#909090"/><rect x="147" y="209" width="3.3" height="3.3" fill="#7c7c7c"/><rect x="150" y="209" width="3.3" height="3.3" fill="#747474"/><rect x="6" y="212" width="3.3" height="3.3" fill="#d4d4d4"/><rect x="9" y="212" width="3.3" height="3.3" fill="#d1d1d1"/><rect x="12" y="212" width="3.3" height="3.3" fill="#c3c3c3"/><rect x="15" y="212" width="3.3" height="3.3" fill="#bebebe"/><rect x="18" y="212" width="3.3" height="3.3" fill="#b5b5b5"/><rect x="21" y="212" width="3.3" height="3.3" fill="#bbbbbb"/><rect x="24" y="212" width="3.3" height="3.3" fill="#b8b8b8"/><rect x="27" y="212" width="3.3" height="3.3" fill="#bbbbbb"/><rect x="30" y="212" width="3.3" height="3.3" fill="#bdbdbd"/><rect x="33" y="212" width="3.3" height="3.3" fill="#bababa"/><rect x="36" y="212" width="3.3" height="3.3" fill="#b3b3b3"/><rect x="39" y="212" width="6.3" height="3.3" fill="#b1b1b1"/><rect x="45" y="212" width="3.3" height="3.3" fill="#aeaeae"/><rect x="48" y="212" width="3.3" height="3.3" fill="#aaaaaa"/><rect x="51" y="212" width="3.3" height="3.3" fill="#a2a2a2"/><rect x="54" y="212" width="3.3" height="3.3" fill="#9a9a9a"/><rect x="57" y="212" width="3.3" height="3.3" fill="#878787"/><rect x="60" y="212" width="3.3" height="3.3" fill="#676767"/><rect x="63" y="212" width="3.3" height="3.3" fill="#4f4f4f"/><rect x="66" y="212" width="3.3" height="3.3" fill="#444444"/><rect x="69" y="212" width="3.3" height="3.3" fill="#5a5a5a"/><rect x="72" y="212" width="3.3" height="3.3" fill="#727272"/><rect x="75" y="212" width="3.3" height="3.3" fill="#6f6f6f"/><rect x="78" y="212" width="3.3" height="3.3" fill="#484848"/><rect x="81" y="212" width="3.3" height="3.3" fill="#303030"/><rect x="84" y="212" width="3.3" height="3.3" fill="#353535"/><rect x="87" y="212" width="3.3" height="3.3" fill="#525252"/><rect x="90" y="212" width="3.3" height="3.3" fill="#686868"/><rect x="93" y="212" width="3.3" height="3.3" fill="#6e6e6e"/><rect x="96" y="212" width="3.3" height="3.3" fill="#6c6c6c"/><rect x="99" y="212" width="3.3" height="3.3" fill="#606060"/><rect x="102" y="212" width="3.3" height="3.3" fill="#575757"/><rect x="105" y="212" width="3.3" height="3.3" fill="#5a5a5a"/><rect x="108" y="212" width="3.3" height="3.3" fill="#6a6a6a"/><rect x="111" y="212" width="3.3" height="3.3" fill="#737373"/><rect x="114" y="212" width="3.3" height="3.3" fill="#767676"/><rect x="117" y="212" width="3.3" height="3.3" fill="#7d7d7d"/><rect x="120" y="212" width="3.3" height="3.3" fill="#969696"/><rect x="123" y="212" width="3.3" height="3.3" fill="#a0a0a0"/><rect x="126" y="212" width="3.3" height="3.3" fill="#8f8f8f"/><rect x="129" y="212" width="3.3" height="3.3" fill="#797979"/><rect x="132" y="212" width="3.3" height="3.3" fill="#767676"/><rect x="135" y="212" width="3.3" height="3.3" fill="#8d8d8d"/><rect x="138" y="212" width="3.3" height="3.3" fill="#9f9f9f"/><rect x="141" y="212" width="3.3" height="3.3" fill="#989898"/><rect x="144" y="212" width="3.3" height="3.3" fill="#848484"/><rect x="147" y="212" width="3.3" height="3.3" fill="#767676"/><rect x="150" y="212" width="3.3" height="3.3" fill="#6d6d6d"/><rect x="6" y="215" width="3.3" height="3.3" fill="#d4d4d4"/><rect x="9" y="215" width="3.3" height="3.3" fill="#cdcdcd"/><rect x="12" y="215" width="3.3" height="3.3" fill="#c5c5c5"/><rect x="15" y="215" width="3.3" height="3.3" fill="#bcbcbc"/><rect x="18" y="215" width="3.3" height="3.3" fill="#b7b7b7"/><rect x="21" y="215" width="6.3" height="3.3" fill="#bebebe"/><rect x="27" y="215" width="3.3" height="3.3" fill="#bcbcbc"/><rect x="30" y="215" width="3.3" height="3.3" fill="#b7b7b7"/><rect x="33" y="215" width="3.3" height="3.3" fill="#b0b0b0"/><rect x="36" y="215" width="3.3" height="3.3" fill="#adadad"/><rect x="39" y="215" width="3.3" height="3.3" fill="#b0b0b0"/><rect x="42" y="215" width="3.3" height="3.3" fill="#adadad"/><rect x="45" y="215" width="3.3" height="3.3" fill="#aaaaaa"/><rect x="48" y="215" width="3.3" height="3.3" fill="#a2a2a2"/><rect x="51" y="215" width="3.3" height="3.3" fill="#959595"/><rect x="54" y="215" width="3.3" height="3.3" fill="#8e8e8e"/><rect x="57" y="215" width="3.3" height="3.3" fill="#7c7c7c"/><rect x="60" y="215" width="3.3" height="3.3" fill="#696969"/><rect x="63" y="215" width="3.3" height="3.3" fill="#505050"/><rect x="66" y="215" width="3.3" height="3.3" fill="#474747"/><rect x="69" y="215" width="3.3" height="3.3" fill="#595959"/><rect x="72" y="215" width="3.3" height="3.3" fill="#6d6d6d"/><rect x="75" y="215" width="3.3" height="3.3" fill="#686868"/><rect x="78" y="215" width="3.3" height="3.3" fill="#474747"/><rect x="81" y="215" width="3.3" height="3.3" fill="#323232"/><rect x="84" y="215" width="3.3" height="3.3" fill="#353535"/><rect x="87" y="215" width="3.3" height="3.3" fill="#4d4d4d"/><rect x="90" y="215" width="3.3" height="3.3" fill="#5c5c5c"/><rect x="93" y="215" width="3.3" height="3.3" fill="#656565"/><rect x="96" y="215" width="3.3" height="3.3" fill="#717171"/><rect x="99" y="215" width="3.3" height="3.3" fill="#767676"/><rect x="102" y="215" width="3.3" height="3.3" fill="#737373"/><rect x="105" y="215" width="3.3" height="3.3" fill="#6a6a6a"/><rect x="108" y="215" width="3.3" height="3.3" fill="#707070"/><rect x="111" y="215" width="6.3" height="3.3" fill="#747474"/><rect x="117" y="215" width="3.3" height="3.3" fill="#878787"/><rect x="120" y="215" width="3.3" height="3.3" fill="#9f9f9f"/><rect x="123" y="215" width="3.3" height="3.3" fill="#aaaaaa"/><rect x="126" y="215" width="3.3" height="3.3" fill="#979797"/><rect x="129" y="215" width="3.3" height="3.3" fill="#7a7a7a"/><rect x="132" y="215" width="3.3" height="3.3" fill="#717171"/><rect x="135" y="215" width="3.3" height="3.3" fill="#7f7f7f"/><rect x="138" y="215" width="3.3" height="3.3" fill="#909090"/><rect x="141" y="215" width="3.3" height="3.3" fill="#898989"/><rect x="144" y="215" width="3.3" height="3.3" fill="#7d7d7d"/><rect x="147" y="215" width="3.3" height="3.3" fill="#737373"/><rect x="150" y="215" width="3.3" height="3.3" fill="#6f6f6f"/><rect x="6" y="218" width="3.3" height="3.3" fill="#dedede"/><rect x="9" y="218" width="3.3" height="3.3" fill="#d6d6d6"/><rect x="12" y="218" width="3.3" height="3.3" fill="#cbcbcb"/><rect x="15" y="218" width="6.3" height="3.3" fill="#c3c3c3"/><rect x="21" y="218" width="6.3" height="3.3" fill="#cbcbcb"/><rect x="27" y="218" width="3.3" height="3.3" fill="#bfbfbf"/><rect x="30" y="218" width="3.3" height="3.3" fill="#b5b5b5"/><rect x="33" y="218" width="9.3" height="3.3" fill="#adadad"/><rect x="42" y="218" width="3.3" height="3.3" fill="#ababab"/><rect x="45" y="218" width="3.3" height="3.3" fill="#9b9b9b"/><rect x="48" y="218" width="3.3" height="3.3" fill="#8b8b8b"/><rect x="51" y="218" width="3.3" height="3.3" fill="#777777"/><rect x="54" y="218" width="3.3" height="3.3" fill="#737373"/><rect x="57" y="218" width="3.3" height="3.3" fill="#707070"/><rect x="60" y="218" width="3.3" height="3.3" fill="#676767"/><rect x="63" y="218" width="3.3" height="3.3" fill="#565656"/><rect x="66" y="218" width="3.3" height="3.3" fill="#515151"/><rect x="69" y="218" width="3.3" height="3.3" fill="#636363"/><rect x="72" y="218" width="3.3" height="3.3" fill="#767676"/><rect x="75" y="218" width="3.3" height="3.3" fill="#7a7a7a"/><rect x="78" y="218" width="3.3" height="3.3" fill="#5e5e5e"/><rect x="81" y="218" width="3.3" height="3.3" fill="#484848"/><rect x="84" y="218" width="3.3" height="3.3" fill="#454545"/><rect x="87" y="218" width="3.3" height="3.3" fill="#545454"/><rect x="90" y="218" width="3.3" height="3.3" fill="#5f5f5f"/><rect x="93" y="218" width="3.3" height="3.3" fill="#6b6b6b"/><rect x="96" y="218" width="3.3" height="3.3" fill="#7e7e7e"/><rect x="99" y="218" width="3.3" height="3.3" fill="#8d8d8d"/><rect x="102" y="218" width="3.3" height="3.3" fill="#838383"/><rect x="105" y="218" width="3.3" height="3.3" fill="#737373"/><rect x="108" y="218" width="3.3" height="3.3" fill="#6d6d6d"/><rect x="111" y="218" width="6.3" height="3.3" fill="#656565"/><rect x="117" y="218" width="3.3" height="3.3" fill="#777777"/><rect x="120" y="218" width="3.3" height="3.3" fill="#919191"/><rect x="123" y="218" width="3.3" height="3.3" fill="#a8a8a8"/><rect x="126" y="218" width="3.3" height="3.3" fill="#979797"/><rect x="129" y="218" width="3.3" height="3.3" fill="#787878"/><rect x="132" y="218" width="3.3" height="3.3" fill="#636363"/><rect x="135" y="218" width="3.3" height="3.3" fill="#686868"/><rect x="138" y="218" width="3.3" height="3.3" fill="#737373"/><rect x="141" y="218" width="6.3" height="3.3" fill="#777777"/><rect x="147" y="218" width="6.3" height="3.3" fill="#717171"/><rect x="6" y="221" width="3.3" height="3.3" fill="#e3e3e3"/><rect x="9" y="221" width="3.3" height="3.3" fill="#dddddd"/><rect x="12" y="221" width="3.3" height="3.3" fill="#d8d8d8"/><rect x="15" y="221" width="3.3" height="3.3" fill="#d2d2d2"/><rect x="18" y="221" width="3.3" height="3.3" fill="#cecece"/><rect x="21" y="221" width="3.3" height="3.3" fill="#d6d6d6"/><rect x="24" y="221" width="3.3" height="3.3" fill="#d1d1d1"/><rect x="27" y="221" width="3.3" height="3.3" fill="#c6c6c6"/><rect x="30" y="221" width="3.3" height="3.3" fill="#bebebe"/><rect x="33" y="221" width="3.3" height="3.3" fill="#b3b3b3"/><rect x="36" y="221" width="3.3" height="3.3" fill="#b1b1b1"/><rect x="39" y="221" width="3.3" height="3.3" fill="#aeaeae"/><rect x="42" y="221" width="3.3" height="3.3" fill="#a0a0a0"/><rect x="45" y="221" width="3.3" height="3.3" fill="#848484"/><rect x="48" y="221" width="3.3" height="3.3" fill="#646464"/><rect x="51" y="221" width="3.3" height="3.3" fill="#555555"/><rect x="54" y="221" width="3.3" height="3.3" fill="#585858"/><rect x="57" y="221" width="3.3" height="3.3" fill="#5d5d5d"/><rect x="60" y="221" width="3.3" height="3.3" fill="#686868"/><rect x="63" y="221" width="6.3" height="3.3" fill="#636363"/><rect x="69" y="221" width="3.3" height="3.3" fill="#777777"/><rect x="72" y="221" width="3.3" height="3.3" fill="#8d8d8d"/><rect x="75" y="221" width="3.3" height="3.3" fill="#949494"/><rect x="78" y="221" width="3.3" height="3.3" fill="#7f7f7f"/><rect x="81" y="221" width="3.3" height="3.3" fill="#656565"/><rect x="84" y="221" width="3.3" height="3.3" fill="#5d5d5d"/><rect x="87" y="221" width="3.3" height="3.3" fill="#646464"/><rect x="90" y="221" width="3.3" height="3.3" fill="#6f6f6f"/><rect x="93" y="221" width="3.3" height="3.3" fill="#7a7a7a"/><rect x="96" y="221" width="3.3" height="3.3" fill="#878787"/><rect x="99" y="221" width="3.3" height="3.3" fill="#858585"/><rect x="102" y="221" width="3.3" height="3.3" fill="#7b7b7b"/><rect x="105" y="221" width="3.3" height="3.3" fill="#696969"/><rect x="108" y="221" width="3.3" height="3.3" fill="#5e5e5e"/><rect x="111" y="221" width="3.3" height="3.3" fill="#535353"/><rect x="114" y="221" width="3.3" height="3.3" fill="#494949"/><rect x="117" y="221" width="3.3" height="3.3" fill="#545454"/><rect x="120" y="221" width="3.3" height="3.3" fill="#757575"/><rect x="123" y="221" width="3.3" height="3.3" fill="#929292"/><rect x="126" y="221" width="3.3" height="3.3" fill="#8c8c8c"/><rect x="129" y="221" width="3.3" height="3.3" fill="#6c6c6c"/><rect x="132" y="221" width="3.3" height="3.3" fill="#535353"/><rect x="135" y="221" width="3.3" height="3.3" fill="#4d4d4d"/><rect x="138" y="221" width="3.3" height="3.3" fill="#575757"/><rect x="141" y="221" width="3.3" height="3.3" fill="#606060"/><rect x="144" y="221" width="3.3" height="3.3" fill="#696969"/><rect x="147" y="221" width="6.3" height="3.3" fill="#6d6d6d"/><rect x="6" y="224" width="6.3" height="3.3" fill="#e4e4e4"/><rect x="12" y="224" width="3.3" height="3.3" fill="#dedede"/><rect x="15" y="224" width="3.3" height="3.3" fill="#d6d6d6"/><rect x="18" y="224" width="6.3" height="3.3" fill="#d4d4d4"/><rect x="24" y="224" width="3.3" height="3.3" fill="#d1d1d1"/><rect x="27" y="224" width="3.3" height="3.3" fill="#c8c8c8"/><rect x="30" y="224" width="3.3" height="3.3" fill="#c3c3c3"/><rect x="33" y="224" width="3.3" height="3.3" fill="#b7b7b7"/><rect x="36" y="224" width="3.3" height="3.3" fill="#b4b4b4"/><rect x="39" y="224" width="3.3" height="3.3" fill="#aaaaaa"/><rect x="42" y="224" width="3.3" height="3.3" fill="#939393"/><rect x="45" y="224" width="3.3" height="3.3" fill="#757575"/><rect x="48" y="224" width="3.3" height="3.3" fill="#535353"/><rect x="51" y="224" width="3.3" height="3.3" fill="#464646"/><rect x="54" y="224" width="3.3" height="3.3" fill="#4b4b4b"/><rect x="57" y="224" width="3.3" height="3.3" fill="#595959"/><rect x="60" y="224" width="3.3" height="3.3" fill="#696969"/><rect x="63" y="224" width="6.3" height="3.3" fill="#6d6d6d"/><rect x="69" y="224" width="3.3" height="3.3" fill="#7d7d7d"/><rect x="72" y="224" width="3.3" height="3.3" fill="#949494"/><rect x="75" y="224" width="3.3" height="3.3" fill="#a0a0a0"/><rect x="78" y="224" width="3.3" height="3.3" fill="#8b8b8b"/><rect x="81" y="224" width="3.3" height="3.3" fill="#747474"/><rect x="84" y="224" width="3.3" height="3.3" fill="#676767"/><rect x="87" y="224" width="3.3" height="3.3" fill="#6d6d6d"/><rect x="90" y="224" width="3.3" height="3.3" fill="#777777"/><rect x="93" y="224" width="6.3" height="3.3" fill="#808080"/><rect x="99" y="224" width="3.3" height="3.3" fill="#757575"/><rect x="102" y="224" width="3.3" height="3.3" fill="#636363"/><rect x="105" y="224" width="3.3" height="3.3" fill="#595959"/><rect x="108" y="224" width="3.3" height="3.3" fill="#535353"/><rect x="111" y="224" width="3.3" height="3.3" fill="#454545"/><rect x="114" y="224" width="3.3" height="3.3" fill="#3d3d3d"/><rect x="117" y="224" width="3.3" height="3.3" fill="#454545"/><rect x="120" y="224" width="3.3" height="3.3" fill="#656565"/><rect x="123" y="224" width="3.3" height="3.3" fill="#848484"/><rect x="126" y="224" width="3.3" height="3.3" fill="#7b7b7b"/><rect x="129" y="224" width="3.3" height="3.3" fill="#5d5d5d"/><rect x="132" y="224" width="3.3" height="3.3" fill="#444444"/><rect x="135" y="224" width="3.3" height="3.3" fill="#3f3f3f"/><rect x="138" y="224" width="3.3" height="3.3" fill="#4b4b4b"/><rect x="141" y="224" width="3.3" height="3.3" fill="#5a5a5a"/><rect x="144" y="224" width="6.3" height="3.3" fill="#626262"/><rect x="150" y="224" width="3.3" height="3.3" fill="#666666"/><rect x="6" y="227" width="6.3" height="3.3" fill="#e3e3e3"/><rect x="12" y="227" width="3.3" height="3.3" fill="#e0e0e0"/><rect x="15" y="227" width="3.3" height="3.3" fill="#d9d9d9"/><rect x="18" y="227" width="3.3" height="3.3" fill="#d4d4d4"/><rect x="21" y="227" width="3.3" height="3.3" fill="#d1d1d1"/><rect x="24" y="227" width="3.3" height="3.3" fill="#c8c8c8"/><rect x="27" y="227" width="3.3" height="3.3" fill="#c3c3c3"/><rect x="30" y="227" width="3.3" height="3.3" fill="#bababa"/><rect x="33" y="227" width="3.3" height="3.3" fill="#b3b3b3"/><rect x="36" y="227" width="3.3" height="3.3" fill="#acacac"/><rect x="39" y="227" width="3.3" height="3.3" fill="#9f9f9f"/><rect x="42" y="227" width="3.3" height="3.3" fill="#8d8d8d"/><rect x="45" y="227" width="3.3" height="3.3" fill="#737373"/><rect x="48" y="227" width="3.3" height="3.3" fill="#545454"/><rect x="51" y="227" width="6.3" height="3.3" fill="#424242"/><rect x="57" y="227" width="3.3" height="3.3" fill="#525252"/><rect x="60" y="227" width="3.3" height="3.3" fill="#6c6c6c"/><rect x="63" y="227" width="3.3" height="3.3" fill="#6f6f6f"/><rect x="66" y="227" width="6.3" height="3.3" fill="#727272"/><rect x="72" y="227" width="3.3" height="3.3" fill="#7f7f7f"/><rect x="75" y="227" width="3.3" height="3.3" fill="#858585"/><rect x="78" y="227" width="3.3" height="3.3" fill="#7c7c7c"/><rect x="81" y="227" width="3.3" height="3.3" fill="#707070"/><rect x="84" y="227" width="3.3" height="3.3" fill="#696969"/><rect x="87" y="227" width="3.3" height="3.3" fill="#6c6c6c"/><rect x="90" y="227" width="3.3" height="3.3" fill="#757575"/><rect x="93" y="227" width="3.3" height="3.3" fill="#7c7c7c"/><rect x="96" y="227" width="3.3" height="3.3" fill="#747474"/><rect x="99" y="227" width="3.3" height="3.3" fill="#656565"/><rect x="102" y="227" width="3.3" height="3.3" fill="#555555"/><rect x="105" y="227" width="6.3" height="3.3" fill="#525252"/><rect x="111" y="227" width="3.3" height="3.3" fill="#545454"/><rect x="114" y="227" width="3.3" height="3.3" fill="#484848"/><rect x="117" y="227" width="3.3" height="3.3" fill="#505050"/><rect x="120" y="227" width="3.3" height="3.3" fill="#676767"/><rect x="123" y="227" width="3.3" height="3.3" fill="#777777"/><rect x="126" y="227" width="3.3" height="3.3" fill="#6d6d6d"/><rect x="129" y="227" width="3.3" height="3.3" fill="#505050"/><rect x="132" y="227" width="3.3" height="3.3" fill="#474747"/><rect x="135" y="227" width="3.3" height="3.3" fill="#505050"/><rect x="138" y="227" width="3.3" height="3.3" fill="#5f5f5f"/><rect x="141" y="227" width="3.3" height="3.3" fill="#676767"/><rect x="144" y="227" width="3.3" height="3.3" fill="#6b6b6b"/><rect x="147" y="227" width="6.3" height="3.3" fill="#686868"/><rect x="6" y="230" width="6.3" height="3.3" fill="#e4e4e4"/><rect x="12" y="230" width="3.3" height="3.3" fill="#e0e0e0"/><rect x="15" y="230" width="3.3" height="3.3" fill="#dbdbdb"/><rect x="18" y="230" width="3.3" height="3.3" fill="#d7d7d7"/><rect x="21" y="230" width="3.3" height="3.3" fill="#d2d2d2"/><rect x="24" y="230" width="3.3" height="3.3" fill="#c3c3c3"/><rect x="27" y="230" width="3.3" height="3.3" fill="#bababa"/><rect x="30" y="230" width="3.3" height="3.3" fill="#b2b2b2"/><rect x="33" y="230" width="3.3" height="3.3" fill="#adadad"/><rect x="36" y="230" width="3.3" height="3.3" fill="#a6a6a6"/><rect x="39" y="230" width="3.3" height="3.3" fill="#969696"/><rect x="42" y="230" width="3.3" height="3.3" fill="#858585"/><rect x="45" y="230" width="3.3" height="3.3" fill="#6d6d6d"/><rect x="48" y="230" width="3.3" height="3.3" fill="#585858"/><rect x="51" y="230" width="3.3" height="3.3" fill="#434343"/><rect x="54" y="230" width="3.3" height="3.3" fill="#393939"/><rect x="57" y="230" width="3.3" height="3.3" fill="#464646"/><rect x="60" y="230" width="3.3" height="3.3" fill="#606060"/><rect x="63" y="230" width="3.3" height="3.3" fill="#727272"/><rect x="66" y="230" width="3.3" height="3.3" fill="#6d6d6d"/><rect x="69" y="230" width="3.3" height="3.3" fill="#686868"/><rect x="72" y="230" width="3.3" height="3.3" fill="#636363"/><rect x="75" y="230" width="6.3" height="3.3" fill="#666666"/><rect x="81" y="230" width="3.3" height="3.3" fill="#6c6c6c"/><rect x="84" y="230" width="3.3" height="3.3" fill="#6e6e6e"/><rect x="87" y="230" width="3.3" height="3.3" fill="#696969"/><rect x="90" y="230" width="3.3" height="3.3" fill="#6b6b6b"/><rect x="93" y="230" width="6.3" height="3.3" fill="#707070"/><rect x="99" y="230" width="3.3" height="3.3" fill="#626262"/><rect x="102" y="230" width="3.3" height="3.3" fill="#565656"/><rect x="105" y="230" width="3.3" height="3.3" fill="#5c5c5c"/><rect x="108" y="230" width="3.3" height="3.3" fill="#686868"/><rect x="111" y="230" width="3.3" height="3.3" fill="#6e6e6e"/><rect x="114" y="230" width="6.3" height="3.3" fill="#646464"/><rect x="120" y="230" width="3.3" height="3.3" fill="#6d6d6d"/><rect x="123" y="230" width="3.3" height="3.3" fill="#717171"/><rect x="126" y="230" width="3.3" height="3.3" fill="#636363"/><rect x="129" y="230" width="3.3" height="3.3" fill="#505050"/><rect x="132" y="230" width="3.3" height="3.3" fill="#555555"/><rect x="135" y="230" width="3.3" height="3.3" fill="#6c6c6c"/><rect x="138" y="230" width="3.3" height="3.3" fill="#797979"/><rect x="141" y="230" width="3.3" height="3.3" fill="#808080"/><rect x="144" y="230" width="6.3" height="3.3" fill="#7d7d7d"/><rect x="150" y="230" width="3.3" height="3.3" fill="#767676"/><rect x="6" y="233" width="3.3" height="3.3" fill="#e0e0e0"/><rect x="9" y="233" width="6.3" height="3.3" fill="#e4e4e4"/><rect x="15" y="233" width="3.3" height="3.3" fill="#e0e0e0"/><rect x="18" y="233" width="3.3" height="3.3" fill="#dcdcdc"/><rect x="21" y="233" width="3.3" height="3.3" fill="#d3d3d3"/><rect x="24" y="233" width="3.3" height="3.3" fill="#c7c7c7"/><rect x="27" y="233" width="3.3" height="3.3" fill="#b9b9b9"/><rect x="30" y="233" width="3.3" height="3.3" fill="#b4b4b4"/><rect x="33" y="233" width="3.3" height="3.3" fill="#b0b0b0"/><rect x="36" y="233" width="3.3" height="3.3" fill="#9f9f9f"/><rect x="39" y="233" width="3.3" height="3.3" fill="#8f8f8f"/><rect x="42" y="233" width="3.3" height="3.3" fill="#818181"/><rect x="45" y="233" width="3.3" height="3.3" fill="#6f6f6f"/><rect x="48" y="233" width="3.3" height="3.3" fill="#656565"/><rect x="51" y="233" width="3.3" height="3.3" fill="#4c4c4c"/><rect x="54" y="233" width="3.3" height="3.3" fill="#3f3f3f"/><rect x="57" y="233" width="3.3" height="3.3" fill="#434343"/><rect x="60" y="233" width="3.3" height="3.3" fill="#575757"/><rect x="63" y="233" width="6.3" height="3.3" fill="#6b6b6b"/><rect x="69" y="233" width="3.3" height="3.3" fill="#5e5e5e"/><rect x="72" y="233" width="6.3" height="3.3" fill="#555555"/><rect x="78" y="233" width="3.3" height="3.3" fill="#6b6b6b"/><rect x="81" y="233" width="3.3" height="3.3" fill="#818181"/><rect x="84" y="233" width="3.3" height="3.3" fill="#868686"/><rect x="87" y="233" width="3.3" height="3.3" fill="#777777"/><rect x="90" y="233" width="3.3" height="3.3" fill="#5e5e5e"/><rect x="93" y="233" width="3.3" height="3.3" fill="#5c5c5c"/><rect x="96" y="233" width="9.3" height="3.3" fill="#696969"/><rect x="105" y="233" width="3.3" height="3.3" fill="#747474"/><rect x="108" y="233" width="3.3" height="3.3" fill="#898989"/><rect x="111" y="233" width="3.3" height="3.3" fill="#8f8f8f"/><rect x="114" y="233" width="3.3" height="3.3" fill="#858585"/><rect x="117" y="233" width="3.3" height="3.3" fill="#747474"/><rect x="120" y="233" width="3.3" height="3.3" fill="#6e6e6e"/><rect x="123" y="233" width="3.3" height="3.3" fill="#666666"/><rect x="126" y="233" width="3.3" height="3.3" fill="#575757"/><rect x="129" y="233" width="3.3" height="3.3" fill="#555555"/><rect x="132" y="233" width="3.3" height="3.3" fill="#5f5f5f"/><rect x="135" y="233" width="3.3" height="3.3" fill="#767676"/><rect x="138" y="233" width="6.3" height="3.3" fill="#818181"/><rect x="144" y="233" width="3.3" height="3.3" fill="#7d7d7d"/><rect x="147" y="233" width="3.3" height="3.3" fill="#818181"/><rect x="150" y="233" width="3.3" height="3.3" fill="#777777"/><rect x="6" y="236" width="3.3" height="3.3" fill="#e4e4e4"/><rect x="9" y="236" width="3.3" height="3.3" fill="#dfdfdf"/><rect x="12" y="236" width="3.3" height="3.3" fill="#e1e1e1"/><rect x="15" y="236" width="6.3" height="3.3" fill="#dcdcdc"/><rect x="21" y="236" width="3.3" height="3.3" fill="#d8d8d8"/><rect x="24" y="236" width="3.3" height="3.3" fill="#cdcdcd"/><rect x="27" y="236" width="3.3" height="3.3" fill="#c2c2c2"/><rect x="30" y="236" width="3.3" height="3.3" fill="#bebebe"/><rect x="33" y="236" width="3.3" height="3.3" fill="#b8b8b8"/><rect x="36" y="236" width="3.3" height="3.3" fill="#a3a3a3"/><rect x="39" y="236" width="3.3" height="3.3" fill="#939393"/><rect x="42" y="236" width="3.3" height="3.3" fill="#808080"/><rect x="45" y="236" width="3.3" height="3.3" fill="#797979"/><rect x="48" y="236" width="3.3" height="3.3" fill="#777777"/><rect x="51" y="236" width="3.3" height="3.3" fill="#6d6d6d"/><rect x="54" y="236" width="3.3" height="3.3" fill="#595959"/><rect x="57" y="236" width="3.3" height="3.3" fill="#575757"/><rect x="60" y="236" width="3.3" height="3.3" fill="#656565"/><rect x="63" y="236" width="3.3" height="3.3" fill="#6e6e6e"/><rect x="66" y="236" width="3.3" height="3.3" fill="#6b6b6b"/><rect x="69" y="236" width="3.3" height="3.3" fill="#595959"/><rect x="72" y="236" width="3.3" height="3.3" fill="#454545"/><rect x="75" y="236" width="3.3" height="3.3" fill="#484848"/><rect x="78" y="236" width="3.3" height="3.3" fill="#6c6c6c"/><rect x="81" y="236" width="3.3" height="3.3" fill="#969696"/><rect x="84" y="236" width="3.3" height="3.3" fill="#a3a3a3"/><rect x="87" y="236" width="3.3" height="3.3" fill="#848484"/><rect x="90" y="236" width="3.3" height="3.3" fill="#5c5c5c"/><rect x="93" y="236" width="3.3" height="3.3" fill="#525252"/><rect x="96" y="236" width="3.3" height="3.3" fill="#636363"/><rect x="99" y="236" width="3.3" height="3.3" fill="#707070"/><rect x="102" y="236" width="3.3" height="3.3" fill="#777777"/><rect x="105" y="236" width="3.3" height="3.3" fill="#878787"/><rect x="108" y="236" width="3.3" height="3.3" fill="#a6a6a6"/><rect x="111" y="236" width="3.3" height="3.3" fill="#b2b2b2"/><rect x="114" y="236" width="3.3" height="3.3" fill="#a5a5a5"/><rect x="117" y="236" width="3.3" height="3.3" fill="#848484"/><rect x="120" y="236" width="3.3" height="3.3" fill="#696969"/><rect x="123" y="236" width="3.3" height="3.3" fill="#595959"/><rect x="126" y="236" width="3.3" height="3.3" fill="#4f4f4f"/><rect x="129" y="236" width="3.3" height="3.3" fill="#494949"/><rect x="132" y="236" width="3.3" height="3.3" fill="#565656"/><rect x="135" y="236" width="3.3" height="3.3" fill="#666666"/><rect x="138" y="236" width="3.3" height="3.3" fill="#6a6a6a"/><rect x="141" y="236" width="6.3" height="3.3" fill="#636363"/><rect x="147" y="236" width="3.3" height="3.3" fill="#6c6c6c"/><rect x="150" y="236" width="3.3" height="3.3" fill="#686868"/><rect x="6" y="239" width="3.3" height="3.3" fill="#e2e2e2"/><rect x="9" y="239" width="3.3" height="3.3" fill="#dedede"/><rect x="12" y="239" width="3.3" height="3.3" fill="#dbdbdb"/><rect x="15" y="239" width="9.3" height="3.3" fill="#d7d7d7"/><rect x="24" y="239" width="3.3" height="3.3" fill="#d0d0d0"/><rect x="27" y="239" width="6.3" height="3.3" fill="#cccccc"/><rect x="33" y="239" width="3.3" height="3.3" fill="#bebebe"/><rect x="36" y="239" width="3.3" height="3.3" fill="#a9a9a9"/><rect x="39" y="239" width="3.3" height="3.3" fill="#969696"/><rect x="42" y="239" width="6.3" height="3.3" fill="#8c8c8c"/><rect x="48" y="239" width="3.3" height="3.3" fill="#8a8a8a"/><rect x="51" y="239" width="3.3" height="3.3" fill="#878787"/><rect x="54" y="239" width="3.3" height="3.3" fill="#7c7c7c"/><rect x="57" y="239" width="6.3" height="3.3" fill="#787878"/><rect x="63" y="239" width="3.3" height="3.3" fill="#7c7c7c"/><rect x="66" y="239" width="3.3" height="3.3" fill="#6e6e6e"/><rect x="69" y="239" width="3.3" height="3.3" fill="#545454"/><rect x="72" y="239" width="6.3" height="3.3" fill="#3b3b3b"/><rect x="78" y="239" width="3.3" height="3.3" fill="#616161"/><rect x="81" y="239" width="3.3" height="3.3" fill="#939393"/><rect x="84" y="239" width="3.3" height="3.3" fill="#a3a3a3"/><rect x="87" y="239" width="3.3" height="3.3" fill="#898989"/><rect x="90" y="239" width="3.3" height="3.3" fill="#616161"/><rect x="93" y="239" width="3.3" height="3.3" fill="#515151"/><rect x="96" y="239" width="3.3" height="3.3" fill="#656565"/><rect x="99" y="239" width="3.3" height="3.3" fill="#717171"/><rect x="102" y="239" width="3.3" height="3.3" fill="#777777"/><rect x="105" y="239" width="3.3" height="3.3" fill="#8d8d8d"/><rect x="108" y="239" width="3.3" height="3.3" fill="#b2b2b2"/><rect x="111" y="239" width="3.3" height="3.3" fill="#cacaca"/><rect x="114" y="239" width="3.3" height="3.3" fill="#c0c0c0"/><rect x="117" y="239" width="3.3" height="3.3" fill="#929292"/><rect x="120" y="239" width="3.3" height="3.3" fill="#696969"/><rect x="123" y="239" width="3.3" height="3.3" fill="#494949"/><rect x="126" y="239" width="6.3" height="3.3" fill="#3a3a3a"/><rect x="132" y="239" width="3.3" height="3.3" fill="#464646"/><rect x="135" y="239" width="3.3" height="3.3" fill="#4f4f4f"/><rect x="138" y="239" width="3.3" height="3.3" fill="#4c4c4c"/><rect x="141" y="239" width="3.3" height="3.3" fill="#404040"/><rect x="144" y="239" width="3.3" height="3.3" fill="#434343"/><rect x="147" y="239" width="3.3" height="3.3" fill="#535353"/><rect x="150" y="239" width="3.3" height="3.3" fill="#5a5a5a"/><rect x="6" y="242" width="3.3" height="3.3" fill="#e3e3e3"/><rect x="9" y="242" width="3.3" height="3.3" fill="#e0e0e0"/><rect x="12" y="242" width="3.3" height="3.3" fill="#d5d5d5"/><rect x="15" y="242" width="9.3" height="3.3" fill="#d1d1d1"/><rect x="24" y="242" width="3.3" height="3.3" fill="#cecece"/><rect x="27" y="242" width="6.3" height="3.3" fill="#cccccc"/><rect x="33" y="242" width="3.3" height="3.3" fill="#c2c2c2"/><rect x="36" y="242" width="3.3" height="3.3" fill="#aeaeae"/><rect x="39" y="242" width="3.3" height="3.3" fill="#a4a4a4"/><rect x="42" y="242" width="3.3" height="3.3" fill="#9e9e9e"/><rect x="45" y="242" width="3.3" height="3.3" fill="#9b9b9b"/><rect x="48" y="242" width="3.3" height="3.3" fill="#949494"/><rect x="51" y="242" width="3.3" height="3.3" fill="#969696"/><rect x="54" y="242" width="3.3" height="3.3" fill="#8b8b8b"/><rect x="57" y="242" width="3.3" height="3.3" fill="#878787"/><rect x="60" y="242" width="3.3" height="3.3" fill="#898989"/><rect x="63" y="242" width="3.3" height="3.3" fill="#838383"/><rect x="66" y="242" width="3.3" height="3.3" fill="#767676"/><rect x="69" y="242" width="3.3" height="3.3" fill="#585858"/><rect x="72" y="242" width="3.3" height="3.3" fill="#3b3b3b"/><rect x="75" y="242" width="3.3" height="3.3" fill="#303030"/><rect x="78" y="242" width="3.3" height="3.3" fill="#484848"/><rect x="81" y="242" width="3.3" height="3.3" fill="#717171"/><rect x="84" y="242" width="3.3" height="3.3" fill="#8a8a8a"/><rect x="87" y="242" width="3.3" height="3.3" fill="#7f7f7f"/><rect x="90" y="242" width="3.3" height="3.3" fill="#656565"/><rect x="93" y="242" width="3.3" height="3.3" fill="#595959"/><rect x="96" y="242" width="3.3" height="3.3" fill="#676767"/><rect x="99" y="242" width="3.3" height="3.3" fill="#717171"/><rect x="102" y="242" width="3.3" height="3.3" fill="#757575"/><rect x="105" y="242" width="3.3" height="3.3" fill="#848484"/><rect x="108" y="242" width="3.3" height="3.3" fill="#a5a5a5"/><rect x="111" y="242" width="3.3" height="3.3" fill="#c8c8c8"/><rect x="114" y="242" width="3.3" height="3.3" fill="#c6c6c6"/><rect x="117" y="242" width="3.3" height="3.3" fill="#9a9a9a"/><rect x="120" y="242" width="3.3" height="3.3" fill="#656565"/><rect x="123" y="242" width="3.3" height="3.3" fill="#3c3c3c"/><rect x="126" y="242" width="3.3" height="3.3" fill="#2c2c2c"/><rect x="129" y="242" width="3.3" height="3.3" fill="#373737"/><rect x="132" y="242" width="3.3" height="3.3" fill="#494949"/><rect x="135" y="242" width="3.3" height="3.3" fill="#4d4d4d"/><rect x="138" y="242" width="3.3" height="3.3" fill="#434343"/><rect x="141" y="242" width="3.3" height="3.3" fill="#323232"/><rect x="144" y="242" width="3.3" height="3.3" fill="#373737"/><rect x="147" y="242" width="3.3" height="3.3" fill="#484848"/><rect x="150" y="242" width="3.3" height="3.3" fill="#4e4e4e"/><rect x="6" y="245" width="3.3" height="3.3" fill="#e6e6e6"/><rect x="9" y="245" width="3.3" height="3.3" fill="#dfdfdf"/><rect x="12" y="245" width="3.3" height="3.3" fill="#d8d8d8"/><rect x="15" y="245" width="3.3" height="3.3" fill="#cecece"/><rect x="18" y="245" width="3.3" height="3.3" fill="#c9c9c9"/><rect x="21" y="245" width="3.3" height="3.3" fill="#c4c4c4"/><rect x="24" y="245" width="3.3" height="3.3" fill="#c1c1c1"/><rect x="27" y="245" width="3.3" height="3.3" fill="#c3c3c3"/><rect x="30" y="245" width="3.3" height="3.3" fill="#c5c5c5"/><rect x="33" y="245" width="3.3" height="3.3" fill="#bcbcbc"/><rect x="36" y="245" width="9.3" height="3.3" fill="#b0b0b0"/><rect x="45" y="245" width="3.3" height="3.3" fill="#a7a7a7"/><rect x="48" y="245" width="3.3" height="3.3" fill="#989898"/><rect x="51" y="245" width="3.3" height="3.3" fill="#8c8c8c"/><rect x="54" y="245" width="3.3" height="3.3" fill="#818181"/><rect x="57" y="245" width="3.3" height="3.3" fill="#838383"/><rect x="60" y="245" width="3.3" height="3.3" fill="#898989"/><rect x="63" y="245" width="3.3" height="3.3" fill="#8b8b8b"/><rect x="66" y="245" width="3.3" height="3.3" fill="#838383"/><rect x="69" y="245" width="3.3" height="3.3" fill="#656565"/><rect x="72" y="245" width="3.3" height="3.3" fill="#484848"/><rect x="75" y="245" width="6.3" height="3.3" fill="#353535"/><rect x="81" y="245" width="3.3" height="3.3" fill="#4c4c4c"/><rect x="84" y="245" width="3.3" height="3.3" fill="#686868"/><rect x="87" y="245" width="3.3" height="3.3" fill="#6e6e6e"/><rect x="90" y="245" width="3.3" height="3.3" fill="#5d5d5d"/><rect x="93" y="245" width="3.3" height="3.3" fill="#575757"/><rect x="96" y="245" width="3.3" height="3.3" fill="#636363"/><rect x="99" y="245" width="3.3" height="3.3" fill="#6a6a6a"/><rect x="102" y="245" width="3.3" height="3.3" fill="#656565"/><rect x="105" y="245" width="3.3" height="3.3" fill="#6a6a6a"/><rect x="108" y="245" width="3.3" height="3.3" fill="#858585"/><rect x="111" y="245" width="3.3" height="3.3" fill="#a9a9a9"/><rect x="114" y="245" width="3.3" height="3.3" fill="#b1b1b1"/><rect x="117" y="245" width="3.3" height="3.3" fill="#939393"/><rect x="120" y="245" width="3.3" height="3.3" fill="#5e5e5e"/><rect x="123" y="245" width="3.3" height="3.3" fill="#3a3a3a"/><rect x="126" y="245" width="3.3" height="3.3" fill="#363636"/><rect x="129" y="245" width="3.3" height="3.3" fill="#494949"/><rect x="132" y="245" width="3.3" height="3.3" fill="#626262"/><rect x="135" y="245" width="3.3" height="3.3" fill="#5d5d5d"/><rect x="138" y="245" width="3.3" height="3.3" fill="#4a4a4a"/><rect x="141" y="245" width="3.3" height="3.3" fill="#343434"/><rect x="144" y="245" width="3.3" height="3.3" fill="#383838"/><rect x="147" y="245" width="3.3" height="3.3" fill="#414141"/><rect x="150" y="245" width="3.3" height="3.3" fill="#484848"/><rect x="6" y="248" width="3.3" height="3.3" fill="#e7e7e7"/><rect x="9" y="248" width="3.3" height="3.3" fill="#e1e1e1"/><rect x="12" y="248" width="3.3" height="3.3" fill="#d7d7d7"/><rect x="15" y="248" width="3.3" height="3.3" fill="#cccccc"/><rect x="18" y="248" width="3.3" height="3.3" fill="#c4c4c4"/><rect x="21" y="248" width="3.3" height="3.3" fill="#b9b9b9"/><rect x="24" y="248" width="6.3" height="3.3" fill="#b0b0b0"/><rect x="30" y="248" width="12.3" height="3.3" fill="#aeaeae"/><rect x="42" y="248" width="3.3" height="3.3" fill="#b0b0b0"/><rect x="45" y="248" width="3.3" height="3.3" fill="#a5a5a5"/><rect x="48" y="248" width="3.3" height="3.3" fill="#929292"/><rect x="51" y="248" width="3.3" height="3.3" fill="#7d7d7d"/><rect x="54" y="248" width="3.3" height="3.3" fill="#717171"/><rect x="57" y="248" width="3.3" height="3.3" fill="#7b7b7b"/><rect x="60" y="248" width="3.3" height="3.3" fill="#878787"/><rect x="63" y="248" width="3.3" height="3.3" fill="#909090"/><rect x="66" y="248" width="3.3" height="3.3" fill="#8c8c8c"/><rect x="69" y="248" width="3.3" height="3.3" fill="#7a7a7a"/><rect x="72" y="248" width="3.3" height="3.3" fill="#626262"/><rect x="75" y="248" width="3.3" height="3.3" fill="#4c4c4c"/><rect x="78" y="248" width="3.3" height="3.3" fill="#414141"/><rect x="81" y="248" width="3.3" height="3.3" fill="#444444"/><rect x="84" y="248" width="3.3" height="3.3" fill="#595959"/><rect x="87" y="248" width="3.3" height="3.3" fill="#626262"/><rect x="90" y="248" width="3.3" height="3.3" fill="#5e5e5e"/><rect x="93" y="248" width="3.3" height="3.3" fill="#575757"/><rect x="96" y="248" width="3.3" height="3.3" fill="#5f5f5f"/><rect x="99" y="248" width="3.3" height="3.3" fill="#5d5d5d"/><rect x="102" y="248" width="3.3" height="3.3" fill="#515151"/><rect x="105" y="248" width="3.3" height="3.3" fill="#4b4b4b"/><rect x="108" y="248" width="3.3" height="3.3" fill="#565656"/><rect x="111" y="248" width="3.3" height="3.3" fill="#797979"/><rect x="114" y="248" width="3.3" height="3.3" fill="#909090"/><rect x="117" y="248" width="3.3" height="3.3" fill="#828282"/><rect x="120" y="248" width="3.3" height="3.3" fill="#5e5e5e"/><rect x="123" y="248" width="3.3" height="3.3" fill="#404040"/><rect x="126" y="248" width="3.3" height="3.3" fill="#484848"/><rect x="129" y="248" width="3.3" height="3.3" fill="#656565"/><rect x="132" y="248" width="3.3" height="3.3" fill="#7a7a7a"/><rect x="135" y="248" width="3.3" height="3.3" fill="#6f6f6f"/><rect x="138" y="248" width="3.3" height="3.3" fill="#515151"/><rect x="141" y="248" width="3.3" height="3.3" fill="#3c3c3c"/><rect x="144" y="248" width="3.3" height="3.3" fill="#393939"/><rect x="147" y="248" width="3.3" height="3.3" fill="#414141"/><rect x="150" y="248" width="3.3" height="3.3" fill="#464646"/><rect x="6" y="251" width="3.3" height="3.3" fill="#ececec"/><rect x="9" y="251" width="3.3" height="3.3" fill="#e3e3e3"/><rect x="12" y="251" width="3.3" height="3.3" fill="#d8d8d8"/><rect x="15" y="251" width="3.3" height="3.3" fill="#d2d2d2"/><rect x="18" y="251" width="3.3" height="3.3" fill="#c7c7c7"/><rect x="21" y="251" width="3.3" height="3.3" fill="#b5b5b5"/><rect x="24" y="251" width="3.3" height="3.3" fill="#a5a5a5"/><rect x="27" y="251" width="6.3" height="3.3" fill="#a0a0a0"/><rect x="33" y="251" width="6.3" height="3.3" fill="#a5a5a5"/><rect x="39" y="251" width="3.3" height="3.3" fill="#a8a8a8"/><rect x="42" y="251" width="3.3" height="3.3" fill="#a5a5a5"/><rect x="45" y="251" width="3.3" height="3.3" fill="#9a9a9a"/><rect x="48" y="251" width="3.3" height="3.3" fill="#838383"/><rect x="51" y="251" width="3.3" height="3.3" fill="#747474"/><rect x="54" y="251" width="3.3" height="3.3" fill="#6d6d6d"/><rect x="57" y="251" width="3.3" height="3.3" fill="#7b7b7b"/><rect x="60" y="251" width="3.3" height="3.3" fill="#8f8f8f"/><rect x="63" y="251" width="3.3" height="3.3" fill="#949494"/><rect x="66" y="251" width="3.3" height="3.3" fill="#8e8e8e"/><rect x="69" y="251" width="3.3" height="3.3" fill="#838383"/><rect x="72" y="251" width="3.3" height="3.3" fill="#797979"/><rect x="75" y="251" width="3.3" height="3.3" fill="#6a6a6a"/><rect x="78" y="251" width="3.3" height="3.3" fill="#5b5b5b"/><rect x="81" y="251" width="3.3" height="3.3" fill="#4a4a4a"/><rect x="84" y="251" width="3.3" height="3.3" fill="#515151"/><rect x="87" y="251" width="3.3" height="3.3" fill="#636363"/><rect x="90" y="251" width="3.3" height="3.3" fill="#696969"/><rect x="93" y="251" width="3.3" height="3.3" fill="#5f5f5f"/><rect x="96" y="251" width="3.3" height="3.3" fill="#595959"/><rect x="99" y="251" width="3.3" height="3.3" fill="#515151"/><rect x="102" y="251" width="3.3" height="3.3" fill="#3f3f3f"/><rect x="105" y="251" width="3.3" height="3.3" fill="#303030"/><rect x="108" y="251" width="3.3" height="3.3" fill="#383838"/><rect x="111" y="251" width="3.3" height="3.3" fill="#545454"/><rect x="114" y="251" width="6.3" height="3.3" fill="#757575"/><rect x="120" y="251" width="3.3" height="3.3" fill="#606060"/><rect x="123" y="251" width="3.3" height="3.3" fill="#505050"/><rect x="126" y="251" width="3.3" height="3.3" fill="#5a5a5a"/><rect x="129" y="251" width="3.3" height="3.3" fill="#717171"/><rect x="132" y="251" width="3.3" height="3.3" fill="#7c7c7c"/><rect x="135" y="251" width="3.3" height="3.3" fill="#696969"/><rect x="138" y="251" width="3.3" height="3.3" fill="#4e4e4e"/><rect x="141" y="251" width="6.3" height="3.3" fill="#3c3c3c"/><rect x="147" y="251" width="3.3" height="3.3" fill="#404040"/><rect x="150" y="251" width="3.3" height="3.3" fill="#3e3e3e"/><rect x="6" y="254" width="3.3" height="3.3" fill="#f2f2f2"/><rect x="9" y="254" width="3.3" height="3.3" fill="#e9e9e9"/><rect x="12" y="254" width="3.3" height="3.3" fill="#e3e3e3"/><rect x="15" y="254" width="3.3" height="3.3" fill="#dddddd"/><rect x="18" y="254" width="3.3" height="3.3" fill="#c9c9c9"/><rect x="21" y="254" width="3.3" height="3.3" fill="#bcbcbc"/><rect x="24" y="254" width="3.3" height="3.3" fill="#a6a6a6"/><rect x="27" y="254" width="6.3" height="3.3" fill="#a0a0a0"/><rect x="33" y="254" width="9.3" height="3.3" fill="#a3a3a3"/><rect x="42" y="254" width="3.3" height="3.3" fill="#9f9f9f"/><rect x="45" y="254" width="3.3" height="3.3" fill="#949494"/><rect x="48" y="254" width="3.3" height="3.3" fill="#868686"/><rect x="51" y="254" width="3.3" height="3.3" fill="#777777"/><rect x="54" y="254" width="3.3" height="3.3" fill="#7a7a7a"/><rect x="57" y="254" width="3.3" height="3.3" fill="#848484"/><rect x="60" y="254" width="3.3" height="3.3" fill="#909090"/><rect x="63" y="254" width="3.3" height="3.3" fill="#8d8d8d"/><rect x="66" y="254" width="3.3" height="3.3" fill="#7f7f7f"/><rect x="69" y="254" width="3.3" height="3.3" fill="#7a7a7a"/><rect x="72" y="254" width="6.3" height="3.3" fill="#7c7c7c"/><rect x="78" y="254" width="3.3" height="3.3" fill="#696969"/><rect x="81" y="254" width="3.3" height="3.3" fill="#4e4e4e"/><rect x="84" y="254" width="3.3" height="3.3" fill="#565656"/><rect x="87" y="254" width="3.3" height="3.3" fill="#6f6f6f"/><rect x="90" y="254" width="3.3" height="3.3" fill="#797979"/><rect x="93" y="254" width="3.3" height="3.3" fill="#707070"/><rect x="96" y="254" width="3.3" height="3.3" fill="#636363"/><rect x="99" y="254" width="3.3" height="3.3" fill="#4d4d4d"/><rect x="102" y="254" width="3.3" height="3.3" fill="#383838"/><rect x="105" y="254" width="3.3" height="3.3" fill="#2b2b2b"/><rect x="108" y="254" width="3.3" height="3.3" fill="#313131"/><rect x="111" y="254" width="3.3" height="3.3" fill="#484848"/><rect x="114" y="254" width="3.3" height="3.3" fill="#696969"/><rect x="117" y="254" width="3.3" height="3.3" fill="#747474"/><rect x="120" y="254" width="3.3" height="3.3" fill="#6d6d6d"/><rect x="123" y="254" width="6.3" height="3.3" fill="#616161"/><rect x="129" y="254" width="3.3" height="3.3" fill="#6b6b6b"/><rect x="132" y="254" width="3.3" height="3.3" fill="#6d6d6d"/><rect x="135" y="254" width="3.3" height="3.3" fill="#585858"/><rect x="138" y="254" width="3.3" height="3.3" fill="#494949"/><rect x="141" y="254" width="3.3" height="3.3" fill="#454545"/><rect x="144" y="254" width="6.3" height="3.3" fill="#484848"/><rect x="150" y="254" width="3.3" height="3.3" fill="#414141"/><rect x="6" y="257" width="6.3" height="3.3" fill="#f4f4f4"/><rect x="12" y="257" width="3.3" height="3.3" fill="#eeeeee"/><rect x="15" y="257" width="3.3" height="3.3" fill="#e3e3e3"/><rect x="18" y="257" width="3.3" height="3.3" fill="#d8d8d8"/><rect x="21" y="257" width="3.3" height="3.3" fill="#c6c6c6"/><rect x="24" y="257" width="3.3" height="3.3" fill="#b0b0b0"/><rect x="27" y="257" width="3.3" height="3.3" fill="#a1a1a1"/><rect x="30" y="257" width="3.3" height="3.3" fill="#a4a4a4"/><rect x="33" y="257" width="3.3" height="3.3" fill="#a7a7a7"/><rect x="36" y="257" width="9.3" height="3.3" fill="#a4a4a4"/><rect x="45" y="257" width="3.3" height="3.3" fill="#979797"/><rect x="48" y="257" width="3.3" height="3.3" fill="#8b8b8b"/><rect x="51" y="257" width="3.3" height="3.3" fill="#848484"/><rect x="54" y="257" width="3.3" height="3.3" fill="#808080"/><rect x="57" y="257" width="3.3" height="3.3" fill="#898989"/><rect x="60" y="257" width="3.3" height="3.3" fill="#878787"/><rect x="63" y="257" width="3.3" height="3.3" fill="#7b7b7b"/><rect x="66" y="257" width="6.3" height="3.3" fill="#6c6c6c"/><rect x="72" y="257" width="3.3" height="3.3" fill="#737373"/><rect x="75" y="257" width="3.3" height="3.3" fill="#767676"/><rect x="78" y="257" width="3.3" height="3.3" fill="#646464"/><rect x="81" y="257" width="3.3" height="3.3" fill="#4f4f4f"/><rect x="84" y="257" width="3.3" height="3.3" fill="#565656"/><rect x="87" y="257" width="3.3" height="3.3" fill="#767676"/><rect x="90" y="257" width="3.3" height="3.3" fill="#808080"/><rect x="93" y="257" width="3.3" height="3.3" fill="#7c7c7c"/><rect x="96" y="257" width="3.3" height="3.3" fill="#666666"/><rect x="99" y="257" width="3.3" height="3.3" fill="#525252"/><rect x="102" y="257" width="3.3" height="3.3" fill="#454545"/><rect x="105" y="257" width="3.3" height="3.3" fill="#3e3e3e"/><rect x="108" y="257" width="3.3" height="3.3" fill="#494949"/><rect x="111" y="257" width="3.3" height="3.3" fill="#595959"/><rect x="114" y="257" width="3.3" height="3.3" fill="#6a6a6a"/><rect x="117" y="257" width="6.3" height="3.3" fill="#747474"/><rect x="123" y="257" width="3.3" height="3.3" fill="#676767"/><rect x="126" y="257" width="6.3" height="3.3" fill="#636363"/><rect x="132" y="257" width="3.3" height="3.3" fill="#5a5a5a"/><rect x="135" y="257" width="6.3" height="3.3" fill="#4c4c4c"/><rect x="141" y="257" width="3.3" height="3.3" fill="#545454"/><rect x="144" y="257" width="3.3" height="3.3" fill="#575757"/><rect x="147" y="257" width="3.3" height="3.3" fill="#515151"/><rect x="150" y="257" width="3.3" height="3.3" fill="#454545"/><rect x="6" y="260" width="6.3" height="3.3" fill="#f9f9f9"/><rect x="12" y="260" width="3.3" height="3.3" fill="#f7f7f7"/><rect x="15" y="260" width="3.3" height="3.3" fill="#ececec"/><rect x="18" y="260" width="3.3" height="3.3" fill="#dddddd"/><rect x="21" y="260" width="3.3" height="3.3" fill="#cccccc"/><rect x="24" y="260" width="3.3" height="3.3" fill="#b1b1b1"/><rect x="27" y="260" width="3.3" height="3.3" fill="#a1a1a1"/><rect x="30" y="260" width="3.3" height="3.3" fill="#a7a7a7"/><rect x="33" y="260" width="6.3" height="3.3" fill="#b4b4b4"/><rect x="39" y="260" width="3.3" height="3.3" fill="#b0b0b0"/><rect x="42" y="260" width="3.3" height="3.3" fill="#aaaaaa"/><rect x="45" y="260" width="3.3" height="3.3" fill="#999999"/><rect x="48" y="260" width="3.3" height="3.3" fill="#939393"/><rect x="51" y="260" width="3.3" height="3.3" fill="#868686"/><rect x="54" y="260" width="6.3" height="3.3" fill="#7d7d7d"/><rect x="60" y="260" width="3.3" height="3.3" fill="#797979"/><rect x="63" y="260" width="3.3" height="3.3" fill="#707070"/><rect x="66" y="260" width="6.3" height="3.3" fill="#5f5f5f"/><rect x="72" y="260" width="3.3" height="3.3" fill="#646464"/><rect x="75" y="260" width="3.3" height="3.3" fill="#6a6a6a"/><rect x="78" y="260" width="3.3" height="3.3" fill="#5e5e5e"/><rect x="81" y="260" width="3.3" height="3.3" fill="#545454"/><rect x="84" y="260" width="3.3" height="3.3" fill="#5d5d5d"/><rect x="87" y="260" width="3.3" height="3.3" fill="#747474"/><rect x="90" y="260" width="3.3" height="3.3" fill="#818181"/><rect x="93" y="260" width="3.3" height="3.3" fill="#7b7b7b"/><rect x="96" y="260" width="3.3" height="3.3" fill="#6a6a6a"/><rect x="99" y="260" width="3.3" height="3.3" fill="#585858"/><rect x="102" y="260" width="3.3" height="3.3" fill="#515151"/><rect x="105" y="260" width="3.3" height="3.3" fill="#5e5e5e"/><rect x="108" y="260" width="3.3" height="3.3" fill="#686868"/><rect x="111" y="260" width="9.3" height="3.3" fill="#6d6d6d"/><rect x="120" y="260" width="3.3" height="3.3" fill="#6b6b6b"/><rect x="123" y="260" width="3.3" height="3.3" fill="#606060"/><rect x="126" y="260" width="3.3" height="3.3" fill="#585858"/><rect x="129" y="260" width="6.3" height="3.3" fill="#535353"/><rect x="135" y="260" width="3.3" height="3.3" fill="#4d4d4d"/><rect x="138" y="260" width="3.3" height="3.3" fill="#535353"/><rect x="141" y="260" width="3.3" height="3.3" fill="#5d5d5d"/><rect x="144" y="260" width="3.3" height="3.3" fill="#636363"/><rect x="147" y="260" width="3.3" height="3.3" fill="#575757"/><rect x="150" y="260" width="3.3" height="3.3" fill="#4b4b4b"/><rect x="6" y="263" width="6.3" height="3.3" fill="#f9f9f9"/><rect x="12" y="263" width="3.3" height="3.3" fill="#f3f3f3"/><rect x="15" y="263" width="3.3" height="3.3" fill="#ececec"/><rect x="18" y="263" width="3.3" height="3.3" fill="#e2e2e2"/><rect x="21" y="263" width="3.3" height="3.3" fill="#cdcdcd"/><rect x="24" y="263" width="3.3" height="3.3" fill="#b8b8b8"/><rect x="27" y="263" width="3.3" height="3.3" fill="#a8a8a8"/><rect x="30" y="263" width="3.3" height="3.3" fill="#b1b1b1"/><rect x="33" y="263" width="6.3" height="3.3" fill="#bdbdbd"/><rect x="39" y="263" width="3.3" height="3.3" fill="#b7b7b7"/><rect x="42" y="263" width="3.3" height="3.3" fill="#a7a7a7"/><rect x="45" y="263" width="3.3" height="3.3" fill="#949494"/><rect x="48" y="263" width="3.3" height="3.3" fill="#8d8d8d"/><rect x="51" y="263" width="3.3" height="3.3" fill="#8a8a8a"/><rect x="54" y="263" width="3.3" height="3.3" fill="#787878"/><rect x="57" y="263" width="6.3" height="3.3" fill="#6f6f6f"/><rect x="63" y="263" width="3.3" height="3.3" fill="#6c6c6c"/><rect x="66" y="263" width="3.3" height="3.3" fill="#666666"/><rect x="69" y="263" width="6.3" height="3.3" fill="#626262"/><rect x="75" y="263" width="3.3" height="3.3" fill="#676767"/><rect x="78" y="263" width="3.3" height="3.3" fill="#5c5c5c"/><rect x="81" y="263" width="3.3" height="3.3" fill="#595959"/><rect x="84" y="263" width="3.3" height="3.3" fill="#646464"/><rect x="87" y="263" width="3.3" height="3.3" fill="#737373"/><rect x="90" y="263" width="3.3" height="3.3" fill="#7d7d7d"/><rect x="93" y="263" width="3.3" height="3.3" fill="#797979"/><rect x="96" y="263" width="3.3" height="3.3" fill="#686868"/><rect x="99" y="263" width="3.3" height="3.3" fill="#5a5a5a"/><rect x="102" y="263" width="3.3" height="3.3" fill="#5e5e5e"/><rect x="105" y="263" width="3.3" height="3.3" fill="#6d6d6d"/><rect x="108" y="263" width="3.3" height="3.3" fill="#787878"/><rect x="111" y="263" width="3.3" height="3.3" fill="#737373"/><rect x="114" y="263" width="3.3" height="3.3" fill="#676767"/><rect x="117" y="263" width="6.3" height="3.3" fill="#646464"/><rect x="123" y="263" width="3.3" height="3.3" fill="#565656"/><rect x="126" y="263" width="3.3" height="3.3" fill="#494949"/><rect x="129" y="263" width="3.3" height="3.3" fill="#464646"/><rect x="132" y="263" width="3.3" height="3.3" fill="#4e4e4e"/><rect x="135" y="263" width="3.3" height="3.3" fill="#535353"/><rect x="138" y="263" width="3.3" height="3.3" fill="#595959"/><rect x="141" y="263" width="3.3" height="3.3" fill="#616161"/><rect x="144" y="263" width="3.3" height="3.3" fill="#646464"/><rect x="147" y="263" width="3.3" height="3.3" fill="#595959"/><rect x="150" y="263" width="3.3" height="3.3" fill="#4f4f4f"/><rect x="6" y="266" width="6.3" height="3.3" fill="#f9f9f9"/><rect x="12" y="266" width="3.3" height="3.3" fill="#f3f3f3"/><rect x="15" y="266" width="3.3" height="3.3" fill="#f1f1f1"/><rect x="18" y="266" width="3.3" height="3.3" fill="#e7e7e7"/><rect x="21" y="266" width="3.3" height="3.3" fill="#d7d7d7"/><rect x="24" y="266" width="3.3" height="3.3" fill="#c1c1c1"/><rect x="27" y="266" width="3.3" height="3.3" fill="#b2b2b2"/><rect x="30" y="266" width="3.3" height="3.3" fill="#b7b7b7"/><rect x="33" y="266" width="3.3" height="3.3" fill="#bdbdbd"/><rect x="36" y="266" width="3.3" height="3.3" fill="#b8b8b8"/><rect x="39" y="266" width="3.3" height="3.3" fill="#adadad"/><rect x="42" y="266" width="3.3" height="3.3" fill="#999999"/><rect x="45" y="266" width="3.3" height="3.3" fill="#909090"/><rect x="48" y="266" width="6.3" height="3.3" fill="#8e8e8e"/><rect x="54" y="266" width="3.3" height="3.3" fill="#858585"/><rect x="57" y="266" width="3.3" height="3.3" fill="#7b7b7b"/><rect x="60" y="266" width="9.3" height="3.3" fill="#797979"/><rect x="69" y="266" width="3.3" height="3.3" fill="#727272"/><rect x="72" y="266" width="3.3" height="3.3" fill="#6b6b6b"/><rect x="75" y="266" width="3.3" height="3.3" fill="#626262"/><rect x="78" y="266" width="6.3" height="3.3" fill="#5a5a5a"/><rect x="84" y="266" width="3.3" height="3.3" fill="#656565"/><rect x="87" y="266" width="3.3" height="3.3" fill="#6b6b6b"/><rect x="90" y="266" width="3.3" height="3.3" fill="#737373"/><rect x="93" y="266" width="3.3" height="3.3" fill="#707070"/><rect x="96" y="266" width="3.3" height="3.3" fill="#636363"/><rect x="99" y="266" width="3.3" height="3.3" fill="#575757"/><rect x="102" y="266" width="3.3" height="3.3" fill="#5b5b5b"/><rect x="105" y="266" width="3.3" height="3.3" fill="#626262"/><rect x="108" y="266" width="3.3" height="3.3" fill="#696969"/><rect x="111" y="266" width="3.3" height="3.3" fill="#5e5e5e"/><rect x="114" y="266" width="3.3" height="3.3" fill="#5b5b5b"/><rect x="117" y="266" width="3.3" height="3.3" fill="#575757"/><rect x="120" y="266" width="3.3" height="3.3" fill="#555555"/><rect x="123" y="266" width="3.3" height="3.3" fill="#4f4f4f"/><rect x="126" y="266" width="3.3" height="3.3" fill="#444444"/><rect x="129" y="266" width="3.3" height="3.3" fill="#4c4c4c"/><rect x="132" y="266" width="6.3" height="3.3" fill="#525252"/><rect x="138" y="266" width="3.3" height="3.3" fill="#555555"/><rect x="141" y="266" width="6.3" height="3.3" fill="#525252"/><rect x="147" y="266" width="6.3" height="3.3" fill="#4e4e4e"/><rect x="6" y="269" width="9.3" height="3.3" fill="#f9f9f9"/><rect x="15" y="269" width="3.3" height="3.3" fill="#f6f6f6"/><rect x="18" y="269" width="3.3" height="3.3" fill="#ececec"/><rect x="21" y="269" width="3.3" height="3.3" fill="#dcdcdc"/><rect x="24" y="269" width="3.3" height="3.3" fill="#cbcbcb"/><rect x="27" y="269" width="3.3" height="3.3" fill="#bebebe"/><rect x="30" y="269" width="3.3" height="3.3" fill="#bababa"/><rect x="33" y="269" width="3.3" height="3.3" fill="#b6b6b6"/><rect x="36" y="269" width="3.3" height="3.3" fill="#acacac"/><rect x="39" y="269" width="3.3" height="3.3" fill="#9d9d9d"/><rect x="42" y="269" width="3.3" height="3.3" fill="#909090"/><rect x="45" y="269" width="3.3" height="3.3" fill="#8c8c8c"/><rect x="48" y="269" width="3.3" height="3.3" fill="#959595"/><rect x="51" y="269" width="3.3" height="3.3" fill="#9b9b9b"/><rect x="54" y="269" width="3.3" height="3.3" fill="#969696"/><rect x="57" y="269" width="3.3" height="3.3" fill="#898989"/><rect x="60" y="269" width="6.3" height="3.3" fill="#878787"/><rect x="66" y="269" width="3.3" height="3.3" fill="#858585"/><rect x="69" y="269" width="3.3" height="3.3" fill="#7d7d7d"/><rect x="72" y="269" width="3.3" height="3.3" fill="#6c6c6c"/><rect x="75" y="269" width="3.3" height="3.3" fill="#5b5b5b"/><rect x="78" y="269" width="6.3" height="3.3" fill="#545454"/><rect x="84" y="269" width="6.3" height="3.3" fill="#585858"/><rect x="90" y="269" width="6.3" height="3.3" fill="#555555"/><rect x="96" y="269" width="3.3" height="3.3" fill="#4d4d4d"/><rect x="99" y="269" width="6.3" height="3.3" fill="#474747"/><rect x="105" y="269" width="6.3" height="3.3" fill="#444444"/><rect x="111" y="269" width="6.3" height="3.3" fill="#404040"/><rect x="117" y="269" width="3.3" height="3.3" fill="#444444"/><rect x="120" y="269" width="3.3" height="3.3" fill="#464646"/><rect x="123" y="269" width="6.3" height="3.3" fill="#484848"/><rect x="129" y="269" width="6.3" height="3.3" fill="#555555"/><rect x="135" y="269" width="3.3" height="3.3" fill="#494949"/><rect x="138" y="269" width="3.3" height="3.3" fill="#3a3a3a"/><rect x="141" y="269" width="3.3" height="3.3" fill="#373737"/><rect x="144" y="269" width="3.3" height="3.3" fill="#3c3c3c"/><rect x="147" y="269" width="3.3" height="3.3" fill="#404040"/><rect x="150" y="269" width="3.3" height="3.3" fill="#434343"/><rect x="6" y="272" width="3.3" height="3.3" fill="#fbfbfb"/><rect x="9" y="272" width="3.3" height="3.3" fill="#ffffff"/><rect x="12" y="272" width="3.3" height="3.3" fill="#fdfdfd"/><rect x="15" y="272" width="3.3" height="3.3" fill="#fbfbfb"/><rect x="18" y="272" width="3.3" height="3.3" fill="#f1f1f1"/><rect x="21" y="272" width="3.3" height="3.3" fill="#e2e2e2"/><rect x="24" y="272" width="3.3" height="3.3" fill="#d1d1d1"/><rect x="27" y="272" width="3.3" height="3.3" fill="#c6c6c6"/><rect x="30" y="272" width="3.3" height="3.3" fill="#bcbcbc"/><rect x="33" y="272" width="3.3" height="3.3" fill="#afafaf"/><rect x="36" y="272" width="3.3" height="3.3" fill="#9e9e9e"/><rect x="39" y="272" width="3.3" height="3.3" fill="#949494"/><rect x="42" y="272" width="3.3" height="3.3" fill="#8c8c8c"/><rect x="45" y="272" width="3.3" height="3.3" fill="#909090"/><rect x="48" y="272" width="3.3" height="3.3" fill="#a1a1a1"/><rect x="51" y="272" width="3.3" height="3.3" fill="#acacac"/><rect x="54" y="272" width="3.3" height="3.3" fill="#aaaaaa"/><rect x="57" y="272" width="3.3" height="3.3" fill="#979797"/><rect x="60" y="272" width="6.3" height="3.3" fill="#898989"/><rect x="66" y="272" width="3.3" height="3.3" fill="#8b8b8b"/><rect x="69" y="272" width="3.3" height="3.3" fill="#808080"/><rect x="72" y="272" width="3.3" height="3.3" fill="#6a6a6a"/><rect x="75" y="272" width="3.3" height="3.3" fill="#606060"/><rect x="78" y="272" width="6.3" height="3.3" fill="#5b5b5b"/><rect x="84" y="272" width="3.3" height="3.3" fill="#515151"/><rect x="87" y="272" width="3.3" height="3.3" fill="#434343"/><rect x="90" y="272" width="3.3" height="3.3" fill="#333333"/><rect x="93" y="272" width="3.3" height="3.3" fill="#2f2f2f"/><rect x="96" y="272" width="3.3" height="3.3" fill="#313131"/><rect x="99" y="272" width="3.3" height="3.3" fill="#333333"/><rect x="102" y="272" width="3.3" height="3.3" fill="#2c2c2c"/><rect x="105" y="272" width="3.3" height="3.3" fill="#282828"/><rect x="108" y="272" width="3.3" height="3.3" fill="#2d2d2d"/><rect x="111" y="272" width="3.3" height="3.3" fill="#363636"/><rect x="114" y="272" width="6.3" height="3.3" fill="#434343"/><rect x="120" y="272" width="3.3" height="3.3" fill="#3d3d3d"/><rect x="123" y="272" width="3.3" height="3.3" fill="#414141"/><rect x="126" y="272" width="3.3" height="3.3" fill="#515151"/><rect x="129" y="272" width="3.3" height="3.3" fill="#5e5e5e"/><rect x="132" y="272" width="3.3" height="3.3" fill="#505050"/><rect x="135" y="272" width="3.3" height="3.3" fill="#373737"/><rect x="138" y="272" width="3.3" height="3.3" fill="#202020"/><rect x="141" y="272" width="3.3" height="3.3" fill="#232323"/><rect x="144" y="272" width="3.3" height="3.3" fill="#2d2d2d"/><rect x="147" y="272" width="3.3" height="3.3" fill="#333333"/><rect x="150" y="272" width="3.3" height="3.3" fill="#373737"/><rect x="6" y="275" width="3.3" height="3.3" fill="#fcfcfc"/><rect x="9" y="275" width="6.3" height="3.3" fill="#ffffff"/><rect x="15" y="275" width="3.3" height="3.3" fill="#ffffff"/><rect x="18" y="275" width="3.3" height="3.3" fill="#f6f6f6"/><rect x="21" y="275" width="3.3" height="3.3" fill="#ececec"/><rect x="24" y="275" width="3.3" height="3.3" fill="#dddddd"/><rect x="27" y="275" width="3.3" height="3.3" fill="#cacaca"/><rect x="30" y="275" width="3.3" height="3.3" fill="#bcbcbc"/><rect x="33" y="275" width="3.3" height="3.3" fill="#adadad"/><rect x="36" y="275" width="3.3" height="3.3" fill="#9d9d9d"/><rect x="39" y="275" width="3.3" height="3.3" fill="#979797"/><rect x="42" y="275" width="3.3" height="3.3" fill="#919191"/><rect x="45" y="275" width="3.3" height="3.3" fill="#969696"/><rect x="48" y="275" width="3.3" height="3.3" fill="#ababab"/><rect x="51" y="275" width="3.3" height="3.3" fill="#bfbfbf"/><rect x="54" y="275" width="3.3" height="3.3" fill="#b7b7b7"/><rect x="57" y="275" width="3.3" height="3.3" fill="#9b9b9b"/><rect x="60" y="275" width="3.3" height="3.3" fill="#838383"/><rect x="63" y="275" width="3.3" height="3.3" fill="#818181"/><rect x="66" y="275" width="3.3" height="3.3" fill="#7d7d7d"/><rect x="69" y="275" width="3.3" height="3.3" fill="#797979"/><rect x="72" y="275" width="3.3" height="3.3" fill="#6c6c6c"/><rect x="75" y="275" width="3.3" height="3.3" fill="#6e6e6e"/><rect x="78" y="275" width="3.3" height="3.3" fill="#757575"/><rect x="81" y="275" width="3.3" height="3.3" fill="#7e7e7e"/><rect x="84" y="275" width="3.3" height="3.3" fill="#6d6d6d"/><rect x="87" y="275" width="3.3" height="3.3" fill="#4e4e4e"/><rect x="90" y="275" width="3.3" height="3.3" fill="#2c2c2c"/><rect x="93" y="275" width="3.3" height="3.3" fill="#1d1d1d"/><rect x="96" y="275" width="3.3" height="3.3" fill="#262626"/><rect x="99" y="275" width="6.3" height="3.3" fill="#313131"/><rect x="105" y="275" width="3.3" height="3.3" fill="#2d2d2d"/><rect x="108" y="275" width="3.3" height="3.3" fill="#3d3d3d"/><rect x="111" y="275" width="3.3" height="3.3" fill="#535353"/><rect x="114" y="275" width="3.3" height="3.3" fill="#636363"/><rect x="117" y="275" width="3.3" height="3.3" fill="#595959"/><rect x="120" y="275" width="3.3" height="3.3" fill="#474747"/><rect x="123" y="275" width="3.3" height="3.3" fill="#424242"/><rect x="126" y="275" width="3.3" height="3.3" fill="#4d4d4d"/><rect x="129" y="275" width="3.3" height="3.3" fill="#515151"/><rect x="132" y="275" width="3.3" height="3.3" fill="#424242"/><rect x="135" y="275" width="3.3" height="3.3" fill="#2b2b2b"/><rect x="138" y="275" width="3.3" height="3.3" fill="#262626"/><rect x="141" y="275" width="3.3" height="3.3" fill="#333333"/><rect x="144" y="275" width="6.3" height="3.3" fill="#3a3a3a"/><rect x="150" y="275" width="3.3" height="3.3" fill="#333333"/><rect x="6" y="278" width="3.3" height="3.3" fill="#fdfdfd"/><rect x="9" y="278" width="6.3" height="3.3" fill="#ffffff"/><rect x="15" y="278" width="3.3" height="3.3" fill="#ffffff"/><rect x="18" y="278" width="3.3" height="3.3" fill="#fbfbfb"/><rect x="21" y="278" width="3.3" height="3.3" fill="#f1f1f1"/><rect x="24" y="278" width="3.3" height="3.3" fill="#e2e2e2"/><rect x="27" y="278" width="3.3" height="3.3" fill="#cfcfcf"/><rect x="30" y="278" width="3.3" height="3.3" fill="#c2c2c2"/><rect x="33" y="278" width="3.3" height="3.3" fill="#b7b7b7"/><rect x="36" y="278" width="3.3" height="3.3" fill="#a8a8a8"/><rect x="39" y="278" width="3.3" height="3.3" fill="#a2a2a2"/><rect x="42" y="278" width="6.3" height="3.3" fill="#9e9e9e"/><rect x="48" y="278" width="3.3" height="3.3" fill="#b3b3b3"/><rect x="51" y="278" width="3.3" height="3.3" fill="#cccccc"/><rect x="54" y="278" width="3.3" height="3.3" fill="#c3c3c3"/><rect x="57" y="278" width="3.3" height="3.3" fill="#a0a0a0"/><rect x="60" y="278" width="3.3" height="3.3" fill="#7c7c7c"/><rect x="63" y="278" width="3.3" height="3.3" fill="#737373"/><rect x="66" y="278" width="3.3" height="3.3" fill="#717171"/><rect x="69" y="278" width="3.3" height="3.3" fill="#686868"/><rect x="72" y="278" width="3.3" height="3.3" fill="#6b6b6b"/><rect x="75" y="278" width="3.3" height="3.3" fill="#7b7b7b"/><rect x="78" y="278" width="3.3" height="3.3" fill="#969696"/><rect x="81" y="278" width="3.3" height="3.3" fill="#a8a8a8"/><rect x="84" y="278" width="3.3" height="3.3" fill="#9a9a9a"/><rect x="87" y="278" width="3.3" height="3.3" fill="#707070"/><rect x="90" y="278" width="3.3" height="3.3" fill="#434343"/><rect x="93" y="278" width="3.3" height="3.3" fill="#2d2d2d"/><rect x="96" y="278" width="3.3" height="3.3" fill="#353535"/><rect x="99" y="278" width="3.3" height="3.3" fill="#4a4a4a"/><rect x="102" y="278" width="3.3" height="3.3" fill="#515151"/><rect x="105" y="278" width="3.3" height="3.3" fill="#535353"/><rect x="108" y="278" width="3.3" height="3.3" fill="#696969"/><rect x="111" y="278" width="3.3" height="3.3" fill="#838383"/><rect x="114" y="278" width="3.3" height="3.3" fill="#939393"/><rect x="117" y="278" width="3.3" height="3.3" fill="#7b7b7b"/><rect x="120" y="278" width="3.3" height="3.3" fill="#5c5c5c"/><rect x="123" y="278" width="3.3" height="3.3" fill="#424242"/><rect x="126" y="278" width="3.3" height="3.3" fill="#3c3c3c"/><rect x="129" y="278" width="3.3" height="3.3" fill="#333333"/><rect x="132" y="278" width="3.3" height="3.3" fill="#313131"/><rect x="135" y="278" width="3.3" height="3.3" fill="#373737"/><rect x="138" y="278" width="3.3" height="3.3" fill="#515151"/><rect x="141" y="278" width="3.3" height="3.3" fill="#666666"/><rect x="144" y="278" width="3.3" height="3.3" fill="#626262"/><rect x="147" y="278" width="3.3" height="3.3" fill="#4b4b4b"/><rect x="150" y="278" width="3.3" height="3.3" fill="#3a3a3a"/><rect x="6" y="281" width="3.3" height="3.3" fill="#fbfbfb"/><rect x="9" y="281" width="9.3" height="3.3" fill="#ffffff"/><rect x="18" y="281" width="3.3" height="3.3" fill="#fafafa"/><rect x="21" y="281" width="3.3" height="3.3" fill="#f0f0f0"/><rect x="24" y="281" width="3.3" height="3.3" fill="#e1e1e1"/><rect x="27" y="281" width="3.3" height="3.3" fill="#d3d3d3"/><rect x="30" y="281" width="3.3" height="3.3" fill="#c8c8c8"/><rect x="33" y="281" width="3.3" height="3.3" fill="#bebebe"/><rect x="36" y="281" width="6.3" height="3.3" fill="#b9b9b9"/><rect x="42" y="281" width="3.3" height="3.3" fill="#acacac"/><rect x="45" y="281" width="3.3" height="3.3" fill="#a9a9a9"/><rect x="48" y="281" width="3.3" height="3.3" fill="#b3b3b3"/><rect x="51" y="281" width="3.3" height="3.3" fill="#c6c6c6"/><rect x="54" y="281" width="3.3" height="3.3" fill="#bdbdbd"/><rect x="57" y="281" width="3.3" height="3.3" fill="#a0a0a0"/><rect x="60" y="281" width="3.3" height="3.3" fill="#7f7f7f"/><rect x="63" y="281" width="3.3" height="3.3" fill="#6e6e6e"/><rect x="66" y="281" width="3.3" height="3.3" fill="#696969"/><rect x="69" y="281" width="3.3" height="3.3" fill="#5e5e5e"/><rect x="72" y="281" width="3.3" height="3.3" fill="#636363"/><rect x="75" y="281" width="3.3" height="3.3" fill="#797979"/><rect x="78" y="281" width="3.3" height="3.3" fill="#a4a4a4"/><rect x="81" y="281" width="3.3" height="3.3" fill="#bebebe"/><rect x="84" y="281" width="3.3" height="3.3" fill="#b3b3b3"/><rect x="87" y="281" width="3.3" height="3.3" fill="#8c8c8c"/><rect x="90" y="281" width="3.3" height="3.3" fill="#646464"/><rect x="93" y="281" width="3.3" height="3.3" fill="#4e4e4e"/><rect x="96" y="281" width="3.3" height="3.3" fill="#505050"/><rect x="99" y="281" width="3.3" height="3.3" fill="#676767"/><rect x="102" y="281" width="3.3" height="3.3" fill="#707070"/><rect x="105" y="281" width="3.3" height="3.3" fill="#757575"/><rect x="108" y="281" width="3.3" height="3.3" fill="#8a8a8a"/><rect x="111" y="281" width="3.3" height="3.3" fill="#9d9d9d"/><rect x="114" y="281" width="3.3" height="3.3" fill="#a6a6a6"/><rect x="117" y="281" width="3.3" height="3.3" fill="#919191"/><rect x="120" y="281" width="3.3" height="3.3" fill="#6f6f6f"/><rect x="123" y="281" width="3.3" height="3.3" fill="#4a4a4a"/><rect x="126" y="281" width="3.3" height="3.3" fill="#2d2d2d"/><rect x="129" y="281" width="3.3" height="3.3" fill="#262626"/><rect x="132" y="281" width="3.3" height="3.3" fill="#2f2f2f"/><rect x="135" y="281" width="3.3" height="3.3" fill="#4f4f4f"/><rect x="138" y="281" width="3.3" height="3.3" fill="#828282"/><rect x="141" y="281" width="3.3" height="3.3" fill="#a1a1a1"/><rect x="144" y="281" width="3.3" height="3.3" fill="#919191"/><rect x="147" y="281" width="3.3" height="3.3" fill="#686868"/><rect x="150" y="281" width="3.3" height="3.3" fill="#444444"/><rect x="6" y="284" width="3.3" height="3.3" fill="#fafafa"/><rect x="9" y="284" width="3.3" height="3.3" fill="#ffffff"/><rect x="12" y="284" width="3.3" height="3.3" fill="#ffffff"/><rect x="15" y="284" width="3.3" height="3.3" fill="#fefefe"/><rect x="18" y="284" width="3.3" height="3.3" fill="#f5f5f5"/><rect x="21" y="284" width="3.3" height="3.3" fill="#ebebeb"/><rect x="24" y="284" width="3.3" height="3.3" fill="#dbdbdb"/><rect x="27" y="284" width="3.3" height="3.3" fill="#cfcfcf"/><rect x="30" y="284" width="3.3" height="3.3" fill="#c9c9c9"/><rect x="33" y="284" width="6.3" height="3.3" fill="#c1c1c1"/><rect x="39" y="284" width="3.3" height="3.3" fill="#c4c4c4"/><rect x="42" y="284" width="3.3" height="3.3" fill="#b7b7b7"/><rect x="45" y="284" width="6.3" height="3.3" fill="#ababab"/><rect x="51" y="284" width="3.3" height="3.3" fill="#b6b6b6"/><rect x="54" y="284" width="3.3" height="3.3" fill="#aaaaaa"/><rect x="57" y="284" width="3.3" height="3.3" fill="#9a9a9a"/><rect x="60" y="284" width="3.3" height="3.3" fill="#878787"/><rect x="63" y="284" width="3.3" height="3.3" fill="#7d7d7d"/><rect x="66" y="284" width="3.3" height="3.3" fill="#717171"/><rect x="69" y="284" width="6.3" height="3.3" fill="#656565"/><rect x="75" y="284" width="3.3" height="3.3" fill="#737373"/><rect x="78" y="284" width="3.3" height="3.3" fill="#929292"/><rect x="81" y="284" width="3.3" height="3.3" fill="#aaaaaa"/><rect x="84" y="284" width="3.3" height="3.3" fill="#a5a5a5"/><rect x="87" y="284" width="3.3" height="3.3" fill="#898989"/><rect x="90" y="284" width="3.3" height="3.3" fill="#707070"/><rect x="93" y="284" width="3.3" height="3.3" fill="#5d5d5d"/><rect x="96" y="284" width="3.3" height="3.3" fill="#606060"/><rect x="99" y="284" width="3.3" height="3.3" fill="#6f6f6f"/><rect x="102" y="284" width="3.3" height="3.3" fill="#787878"/><rect x="105" y="284" width="3.3" height="3.3" fill="#7c7c7c"/><rect x="108" y="284" width="3.3" height="3.3" fill="#848484"/><rect x="111" y="284" width="3.3" height="3.3" fill="#8b8b8b"/><rect x="114" y="284" width="3.3" height="3.3" fill="#929292"/><rect x="117" y="284" width="3.3" height="3.3" fill="#878787"/><rect x="120" y="284" width="3.3" height="3.3" fill="#727272"/><rect x="123" y="284" width="3.3" height="3.3" fill="#4f4f4f"/><rect x="126" y="284" width="3.3" height="3.3" fill="#373737"/><rect x="129" y="284" width="3.3" height="3.3" fill="#2d2d2d"/><rect x="132" y="284" width="3.3" height="3.3" fill="#3d3d3d"/><rect x="135" y="284" width="3.3" height="3.3" fill="#5f5f5f"/><rect x="138" y="284" width="3.3" height="3.3" fill="#979797"/><rect x="141" y="284" width="3.3" height="3.3" fill="#bebebe"/><rect x="144" y="284" width="3.3" height="3.3" fill="#ababab"/><rect x="147" y="284" width="3.3" height="3.3" fill="#7a7a7a"/><rect x="150" y="284" width="3.3" height="3.3" fill="#4f4f4f"/><rect x="6" y="287" width="3.3" height="3.3" fill="#f7f7f7"/><rect x="9" y="287" width="6.3" height="3.3" fill="#fcfcfc"/><rect x="15" y="287" width="3.3" height="3.3" fill="#fafafa"/><rect x="18" y="287" width="3.3" height="3.3" fill="#f5f5f5"/><rect x="21" y="287" width="3.3" height="3.3" fill="#ebebeb"/><rect x="24" y="287" width="3.3" height="3.3" fill="#dcdcdc"/><rect x="27" y="287" width="3.3" height="3.3" fill="#d0d0d0"/><rect x="30" y="287" width="3.3" height="3.3" fill="#cacaca"/><rect x="33" y="287" width="3.3" height="3.3" fill="#c3c3c3"/><rect x="36" y="287" width="6.3" height="3.3" fill="#c1c1c1"/><rect x="42" y="287" width="3.3" height="3.3" fill="#b6b6b6"/><rect x="45" y="287" width="3.3" height="3.3" fill="#a6a6a6"/><rect x="48" y="287" width="3.3" height="3.3" fill="#9a9a9a"/><rect x="51" y="287" width="3.3" height="3.3" fill="#9e9e9e"/><rect x="54" y="287" width="3.3" height="3.3" fill="#979797"/><rect x="57" y="287" width="3.3" height="3.3" fill="#939393"/><rect x="60" y="287" width="6.3" height="3.3" fill="#919191"/><rect x="66" y="287" width="3.3" height="3.3" fill="#898989"/><rect x="69" y="287" width="3.3" height="3.3" fill="#7d7d7d"/><rect x="72" y="287" width="3.3" height="3.3" fill="#6c6c6c"/><rect x="75" y="287" width="3.3" height="3.3" fill="#6a6a6a"/><rect x="78" y="287" width="3.3" height="3.3" fill="#7c7c7c"/><rect x="81" y="287" width="6.3" height="3.3" fill="#868686"/><rect x="87" y="287" width="3.3" height="3.3" fill="#757575"/><rect x="90" y="287" width="3.3" height="3.3" fill="#676767"/><rect x="93" y="287" width="3.3" height="3.3" fill="#606060"/><rect x="96" y="287" width="3.3" height="3.3" fill="#686868"/><rect x="99" y="287" width="6.3" height="3.3" fill="#767676"/><rect x="105" y="287" width="3.3" height="3.3" fill="#6f6f6f"/><rect x="108" y="287" width="6.3" height="3.3" fill="#686868"/><rect x="114" y="287" width="3.3" height="3.3" fill="#6a6a6a"/><rect x="117" y="287" width="3.3" height="3.3" fill="#6e6e6e"/><rect x="120" y="287" width="3.3" height="3.3" fill="#707070"/><rect x="123" y="287" width="3.3" height="3.3" fill="#666666"/><rect x="126" y="287" width="3.3" height="3.3" fill="#565656"/><rect x="129" y="287" width="6.3" height="3.3" fill="#505050"/><rect x="135" y="287" width="3.3" height="3.3" fill="#636363"/><rect x="138" y="287" width="3.3" height="3.3" fill="#939393"/><rect x="141" y="287" width="3.3" height="3.3" fill="#b6b6b6"/><rect x="144" y="287" width="3.3" height="3.3" fill="#adadad"/><rect x="147" y="287" width="3.3" height="3.3" fill="#858585"/><rect x="150" y="287" width="3.3" height="3.3" fill="#595959"/><rect x="6" y="290" width="3.3" height="3.3" fill="#f3f3f3"/><rect x="9" y="290" width="3.3" height="3.3" fill="#f8f8f8"/><rect x="12" y="290" width="3.3" height="3.3" fill="#fcfcfc"/><rect x="15" y="290" width="6.3" height="3.3" fill="#f7f7f7"/><rect x="21" y="290" width="3.3" height="3.3" fill="#f1f1f1"/><rect x="24" y="290" width="3.3" height="3.3" fill="#e2e2e2"/><rect x="27" y="290" width="3.3" height="3.3" fill="#d5d5d5"/><rect x="30" y="290" width="3.3" height="3.3" fill="#cbcbcb"/><rect x="33" y="290" width="3.3" height="3.3" fill="#c4c4c4"/><rect x="36" y="290" width="6.3" height="3.3" fill="#bababa"/><rect x="42" y="290" width="3.3" height="3.3" fill="#acacac"/><rect x="45" y="290" width="3.3" height="3.3" fill="#9f9f9f"/><rect x="48" y="290" width="3.3" height="3.3" fill="#969696"/><rect x="51" y="290" width="3.3" height="3.3" fill="#919191"/><rect x="54" y="290" width="3.3" height="3.3" fill="#8e8e8e"/><rect x="57" y="290" width="3.3" height="3.3" fill="#929292"/><rect x="60" y="290" width="3.3" height="3.3" fill="#9a9a9a"/><rect x="63" y="290" width="3.3" height="3.3" fill="#a1a1a1"/><rect x="66" y="290" width="3.3" height="3.3" fill="#9d9d9d"/><rect x="69" y="290" width="3.3" height="3.3" fill="#8f8f8f"/><rect x="72" y="290" width="3.3" height="3.3" fill="#797979"/><rect x="75" y="290" width="3.3" height="3.3" fill="#6b6b6b"/><rect x="78" y="290" width="3.3" height="3.3" fill="#686868"/><rect x="81" y="290" width="3.3" height="3.3" fill="#6e6e6e"/><rect x="84" y="290" width="3.3" height="3.3" fill="#6b6b6b"/><rect x="87" y="290" width="3.3" height="3.3" fill="#636363"/><rect x="90" y="290" width="6.3" height="3.3" fill="#656565"/><rect x="96" y="290" width="6.3" height="3.3" fill="#747474"/><rect x="102" y="290" width="3.3" height="3.3" fill="#717171"/><rect x="105" y="290" width="3.3" height="3.3" fill="#626262"/><rect x="108" y="290" width="3.3" height="3.3" fill="#555555"/><rect x="111" y="290" width="3.3" height="3.3" fill="#4d4d4d"/><rect x="114" y="290" width="3.3" height="3.3" fill="#515151"/><rect x="117" y="290" width="3.3" height="3.3" fill="#686868"/><rect x="120" y="290" width="3.3" height="3.3" fill="#7e7e7e"/><rect x="123" y="290" width="3.3" height="3.3" fill="#888888"/><rect x="126" y="290" width="3.3" height="3.3" fill="#828282"/><rect x="129" y="290" width="3.3" height="3.3" fill="#727272"/><rect x="132" y="290" width="6.3" height="3.3" fill="#616161"/><rect x="138" y="290" width="3.3" height="3.3" fill="#7b7b7b"/><rect x="141" y="290" width="3.3" height="3.3" fill="#989898"/><rect x="144" y="290" width="3.3" height="3.3" fill="#9f9f9f"/><rect x="147" y="290" width="3.3" height="3.3" fill="#858585"/><rect x="150" y="290" width="3.3" height="3.3" fill="#646464"/><rect x="6" y="293" width="3.3" height="3.3" fill="#f7f7f7"/><rect x="9" y="293" width="9.3" height="3.3" fill="#f9f9f9"/><rect x="18" y="293" width="3.3" height="3.3" fill="#fcfcfc"/><rect x="21" y="293" width="3.3" height="3.3" fill="#f8f8f8"/><rect x="24" y="293" width="3.3" height="3.3" fill="#eeeeee"/><rect x="27" y="293" width="3.3" height="3.3" fill="#e3e3e3"/><rect x="30" y="293" width="3.3" height="3.3" fill="#d6d6d6"/><rect x="33" y="293" width="3.3" height="3.3" fill="#cbcbcb"/><rect x="36" y="293" width="3.3" height="3.3" fill="#bbbbbb"/><rect x="39" y="293" width="3.3" height="3.3" fill="#b3b3b3"/><rect x="42" y="293" width="3.3" height="3.3" fill="#aeaeae"/><rect x="45" y="293" width="3.3" height="3.3" fill="#a3a3a3"/><rect x="48" y="293" width="3.3" height="3.3" fill="#9a9a9a"/><rect x="51" y="293" width="6.3" height="3.3" fill="#979797"/><rect x="57" y="293" width="3.3" height="3.3" fill="#959595"/><rect x="60" y="293" width="3.3" height="3.3" fill="#9a9a9a"/><rect x="63" y="293" width="6.3" height="3.3" fill="#a0a0a0"/><rect x="69" y="293" width="3.3" height="3.3" fill="#989898"/><rect x="72" y="293" width="3.3" height="3.3" fill="#7f7f7f"/><rect x="75" y="293" width="3.3" height="3.3" fill="#6a6a6a"/><rect x="78" y="293" width="3.3" height="3.3" fill="#666666"/><rect x="81" y="293" width="3.3" height="3.3" fill="#6c6c6c"/><rect x="84" y="293" width="3.3" height="3.3" fill="#6a6a6a"/><rect x="87" y="293" width="3.3" height="3.3" fill="#686868"/><rect x="90" y="293" width="3.3" height="3.3" fill="#6c6c6c"/><rect x="93" y="293" width="3.3" height="3.3" fill="#777777"/><rect x="96" y="293" width="3.3" height="3.3" fill="#7a7a7a"/><rect x="99" y="293" width="3.3" height="3.3" fill="#757575"/><rect x="102" y="293" width="3.3" height="3.3" fill="#646464"/><rect x="105" y="293" width="3.3" height="3.3" fill="#5a5a5a"/><rect x="108" y="293" width="3.3" height="3.3" fill="#575757"/><rect x="111" y="293" width="3.3" height="3.3" fill="#545454"/><rect x="114" y="293" width="3.3" height="3.3" fill="#575757"/><rect x="117" y="293" width="3.3" height="3.3" fill="#707070"/><rect x="120" y="293" width="3.3" height="3.3" fill="#969696"/><rect x="123" y="293" width="3.3" height="3.3" fill="#a9a9a9"/><rect x="126" y="293" width="3.3" height="3.3" fill="#a2a2a2"/><rect x="129" y="293" width="3.3" height="3.3" fill="#808080"/><rect x="132" y="293" width="3.3" height="3.3" fill="#656565"/><rect x="135" y="293" width="3.3" height="3.3" fill="#5b5b5b"/><rect x="138" y="293" width="3.3" height="3.3" fill="#696969"/><rect x="141" y="293" width="3.3" height="3.3" fill="#7e7e7e"/><rect x="144" y="293" width="3.3" height="3.3" fill="#848484"/><rect x="147" y="293" width="3.3" height="3.3" fill="#797979"/><rect x="150" y="293" width="3.3" height="3.3" fill="#656565"/><rect x="6" y="296" width="9.3" height="3.3" fill="#f4f4f4"/><rect x="15" y="296" width="3.3" height="3.3" fill="#f6f6f6"/><rect x="18" y="296" width="6.3" height="3.3" fill="#fbfbfb"/><rect x="24" y="296" width="3.3" height="3.3" fill="#f5f5f5"/><rect x="27" y="296" width="3.3" height="3.3" fill="#f0f0f0"/><rect x="30" y="296" width="3.3" height="3.3" fill="#e4e4e4"/><rect x="33" y="296" width="3.3" height="3.3" fill="#d3d3d3"/><rect x="36" y="296" width="3.3" height="3.3" fill="#c1c1c1"/><rect x="39" y="296" width="3.3" height="3.3" fill="#b4b4b4"/><rect x="42" y="296" width="3.3" height="3.3" fill="#afafaf"/><rect x="45" y="296" width="3.3" height="3.3" fill="#a8a8a8"/><rect x="48" y="296" width="6.3" height="3.3" fill="#a2a2a2"/><rect x="54" y="296" width="3.3" height="3.3" fill="#9b9b9b"/><rect x="57" y="296" width="3.3" height="3.3" fill="#949494"/><rect x="60" y="296" width="3.3" height="3.3" fill="#929292"/><rect x="63" y="296" width="3.3" height="3.3" fill="#969696"/><rect x="66" y="296" width="3.3" height="3.3" fill="#939393"/><rect x="69" y="296" width="3.3" height="3.3" fill="#8e8e8e"/><rect x="72" y="296" width="3.3" height="3.3" fill="#808080"/><rect x="75" y="296" width="6.3" height="3.3" fill="#737373"/><rect x="81" y="296" width="3.3" height="3.3" fill="#787878"/><rect x="84" y="296" width="3.3" height="3.3" fill="#737373"/><rect x="87" y="296" width="3.3" height="3.3" fill="#707070"/><rect x="90" y="296" width="3.3" height="3.3" fill="#797979"/><rect x="93" y="296" width="3.3" height="3.3" fill="#818181"/><rect x="96" y="296" width="3.3" height="3.3" fill="#7f7f7f"/><rect x="99" y="296" width="3.3" height="3.3" fill="#6c6c6c"/><rect x="102" y="296" width="3.3" height="3.3" fill="#585858"/><rect x="105" y="296" width="3.3" height="3.3" fill="#525252"/><rect x="108" y="296" width="3.3" height="3.3" fill="#585858"/><rect x="111" y="296" width="3.3" height="3.3" fill="#616161"/><rect x="114" y="296" width="3.3" height="3.3" fill="#696969"/><rect x="117" y="296" width="3.3" height="3.3" fill="#7d7d7d"/><rect x="120" y="296" width="3.3" height="3.3" fill="#a2a2a2"/><rect x="123" y="296" width="3.3" height="3.3" fill="#b6b6b6"/><rect x="126" y="296" width="3.3" height="3.3" fill="#a3a3a3"/><rect x="129" y="296" width="3.3" height="3.3" fill="#7e7e7e"/><rect x="132" y="296" width="3.3" height="3.3" fill="#616161"/><rect x="135" y="296" width="3.3" height="3.3" fill="#5a5a5a"/><rect x="138" y="296" width="3.3" height="3.3" fill="#5e5e5e"/><rect x="141" y="296" width="3.3" height="3.3" fill="#676767"/><rect x="144" y="296" width="3.3" height="3.3" fill="#6a6a6a"/><rect x="147" y="296" width="3.3" height="3.3" fill="#676767"/><rect x="150" y="296" width="3.3" height="3.3" fill="#5d5d5d"/><rect x="6" y="299" width="9.3" height="3.3" fill="#f0f0f0"/><rect x="15" y="299" width="3.3" height="3.3" fill="#f2f2f2"/><rect x="18" y="299" width="3.3" height="3.3" fill="#f6f6f6"/><rect x="21" y="299" width="3.3" height="3.3" fill="#f9f9f9"/><rect x="24" y="299" width="3.3" height="3.3" fill="#f6f6f6"/><rect x="27" y="299" width="3.3" height="3.3" fill="#f1f1f1"/><rect x="30" y="299" width="3.3" height="3.3" fill="#e9e9e9"/><rect x="33" y="299" width="3.3" height="3.3" fill="#dadada"/><rect x="36" y="299" width="3.3" height="3.3" fill="#c8c8c8"/><rect x="39" y="299" width="3.3" height="3.3" fill="#b8b8b8"/><rect x="42" y="299" width="3.3" height="3.3" fill="#b4b4b4"/><rect x="45" y="299" width="3.3" height="3.3" fill="#acacac"/><rect x="48" y="299" width="3.3" height="3.3" fill="#a7a7a7"/><rect x="51" y="299" width="3.3" height="3.3" fill="#a2a2a2"/><rect x="54" y="299" width="3.3" height="3.3" fill="#9d9d9d"/><rect x="57" y="299" width="6.3" height="3.3" fill="#949494"/><rect x="63" y="299" width="3.3" height="3.3" fill="#8f8f8f"/><rect x="66" y="299" width="3.3" height="3.3" fill="#8c8c8c"/><rect x="69" y="299" width="3.3" height="3.3" fill="#858585"/><rect x="72" y="299" width="6.3" height="3.3" fill="#7e7e7e"/><rect x="78" y="299" width="3.3" height="3.3" fill="#828282"/><rect x="81" y="299" width="3.3" height="3.3" fill="#7d7d7d"/><rect x="84" y="299" width="3.3" height="3.3" fill="#6d6d6d"/><rect x="87" y="299" width="3.3" height="3.3" fill="#656565"/><rect x="90" y="299" width="3.3" height="3.3" fill="#6e6e6e"/><rect x="93" y="299" width="3.3" height="3.3" fill="#808080"/><rect x="96" y="299" width="3.3" height="3.3" fill="#838383"/><rect x="99" y="299" width="3.3" height="3.3" fill="#6d6d6d"/><rect x="102" y="299" width="3.3" height="3.3" fill="#535353"/><rect x="105" y="299" width="3.3" height="3.3" fill="#484848"/><rect x="108" y="299" width="3.3" height="3.3" fill="#535353"/><rect x="111" y="299" width="3.3" height="3.3" fill="#626262"/><rect x="114" y="299" width="3.3" height="3.3" fill="#6f6f6f"/><rect x="117" y="299" width="3.3" height="3.3" fill="#808080"/><rect x="120" y="299" width="3.3" height="3.3" fill="#9d9d9d"/><rect x="123" y="299" width="3.3" height="3.3" fill="#ababab"/><rect x="126" y="299" width="3.3" height="3.3" fill="#999999"/><rect x="129" y="299" width="3.3" height="3.3" fill="#747474"/><rect x="132" y="299" width="3.3" height="3.3" fill="#616161"/><rect x="135" y="299" width="15.3" height="3.3" fill="#595959"/><rect x="150" y="299" width="3.3" height="3.3" fill="#5c5c5c"/><rect x="6" y="302" width="12.3" height="3.3" fill="#f0f0f0"/><rect x="18" y="302" width="6.3" height="3.3" fill="#f2f2f2"/><rect x="24" y="302" width="6.3" height="3.3" fill="#f5f5f5"/><rect x="30" y="302" width="3.3" height="3.3" fill="#efefef"/><rect x="33" y="302" width="3.3" height="3.3" fill="#e1e1e1"/><rect x="36" y="302" width="3.3" height="3.3" fill="#d0d0d0"/><rect x="39" y="302" width="3.3" height="3.3" fill="#c0c0c0"/><rect x="42" y="302" width="3.3" height="3.3" fill="#b9b9b9"/><rect x="45" y="302" width="6.3" height="3.3" fill="#ababab"/><rect x="51" y="302" width="3.3" height="3.3" fill="#a7a7a7"/><rect x="54" y="302" width="3.3" height="3.3" fill="#a2a2a2"/><rect x="57" y="302" width="3.3" height="3.3" fill="#9f9f9f"/><rect x="60" y="302" width="3.3" height="3.3" fill="#9c9c9c"/><rect x="63" y="302" width="3.3" height="3.3" fill="#939393"/><rect x="66" y="302" width="3.3" height="3.3" fill="#8d8d8d"/><rect x="69" y="302" width="3.3" height="3.3" fill="#888888"/><rect x="72" y="302" width="9.3" height="3.3" fill="#838383"/><rect x="81" y="302" width="3.3" height="3.3" fill="#6e6e6e"/><rect x="84" y="302" width="3.3" height="3.3" fill="#575757"/><rect x="87" y="302" width="3.3" height="3.3" fill="#494949"/><rect x="90" y="302" width="3.3" height="3.3" fill="#525252"/><rect x="93" y="302" width="3.3" height="3.3" fill="#737373"/><rect x="96" y="302" width="3.3" height="3.3" fill="#818181"/><rect x="99" y="302" width="3.3" height="3.3" fill="#757575"/><rect x="102" y="302" width="3.3" height="3.3" fill="#575757"/><rect x="105" y="302" width="3.3" height="3.3" fill="#4b4b4b"/><rect x="108" y="302" width="3.3" height="3.3" fill="#525252"/><rect x="111" y="302" width="3.3" height="3.3" fill="#626262"/><rect x="114" y="302" width="3.3" height="3.3" fill="#707070"/><rect x="117" y="302" width="3.3" height="3.3" fill="#7f7f7f"/><rect x="120" y="302" width="3.3" height="3.3" fill="#929292"/><rect x="123" y="302" width="3.3" height="3.3" fill="#989898"/><rect x="126" y="302" width="3.3" height="3.3" fill="#898989"/><rect x="129" y="302" width="3.3" height="3.3" fill="#6d6d6d"/><rect x="132" y="302" width="3.3" height="3.3" fill="#616161"/><rect x="135" y="302" width="3.3" height="3.3" fill="#5b5b5b"/><rect x="138" y="302" width="3.3" height="3.3" fill="#575757"/><rect x="141" y="302" width="3.3" height="3.3" fill="#535353"/><rect x="144" y="302" width="6.3" height="3.3" fill="#555555"/><rect x="150" y="302" width="3.3" height="3.3" fill="#5a5a5a"/><rect x="6" y="305" width="15.3" height="3.3" fill="#f0f0f0"/><rect x="21" y="305" width="9.3" height="3.3" fill="#f2f2f2"/><rect x="30" y="305" width="3.3" height="3.3" fill="#eeeeee"/><rect x="33" y="305" width="3.3" height="3.3" fill="#e0e0e0"/><rect x="36" y="305" width="3.3" height="3.3" fill="#d4d4d4"/><rect x="39" y="305" width="3.3" height="3.3" fill="#c6c6c6"/><rect x="42" y="305" width="3.3" height="3.3" fill="#b9b9b9"/><rect x="45" y="305" width="3.3" height="3.3" fill="#acacac"/><rect x="48" y="305" width="6.3" height="3.3" fill="#a8a8a8"/><rect x="54" y="305" width="3.3" height="3.3" fill="#a6a6a6"/><rect x="57" y="305" width="6.3" height="3.3" fill="#a4a4a4"/><rect x="63" y="305" width="3.3" height="3.3" fill="#999999"/><rect x="66" y="305" width="3.3" height="3.3" fill="#939393"/><rect x="69" y="305" width="3.3" height="3.3" fill="#8c8c8c"/><rect x="72" y="305" width="3.3" height="3.3" fill="#888888"/><rect x="75" y="305" width="3.3" height="3.3" fill="#848484"/><rect x="78" y="305" width="3.3" height="3.3" fill="#777777"/><rect x="81" y="305" width="3.3" height="3.3" fill="#636363"/><rect x="84" y="305" width="3.3" height="3.3" fill="#474747"/><rect x="87" y="305" width="3.3" height="3.3" fill="#3c3c3c"/><rect x="90" y="305" width="3.3" height="3.3" fill="#444444"/><rect x="93" y="305" width="3.3" height="3.3" fill="#636363"/><rect x="96" y="305" width="6.3" height="3.3" fill="#767676"/><rect x="102" y="305" width="3.3" height="3.3" fill="#5f5f5f"/><rect x="105" y="305" width="3.3" height="3.3" fill="#535353"/><rect x="108" y="305" width="3.3" height="3.3" fill="#555555"/><rect x="111" y="305" width="3.3" height="3.3" fill="#666666"/><rect x="114" y="305" width="3.3" height="3.3" fill="#747474"/><rect x="117" y="305" width="3.3" height="3.3" fill="#7e7e7e"/><rect x="120" y="305" width="6.3" height="3.3" fill="#848484"/><rect x="126" y="305" width="3.3" height="3.3" fill="#808080"/><rect x="129" y="305" width="3.3" height="3.3" fill="#6f6f6f"/><rect x="132" y="305" width="3.3" height="3.3" fill="#616161"/><rect x="135" y="305" width="3.3" height="3.3" fill="#5a5a5a"/><rect x="138" y="305" width="3.3" height="3.3" fill="#565656"/><rect x="141" y="305" width="3.3" height="3.3" fill="#535353"/><rect x="144" y="305" width="6.3" height="3.3" fill="#555555"/><rect x="150" y="305" width="3.3" height="3.3" fill="#595959"/><rect x="6" y="308" width="21.3" height="3.3" fill="#f0f0f0"/><rect x="27" y="308" width="3.3" height="3.3" fill="#eeeeee"/><rect x="30" y="308" width="3.3" height="3.3" fill="#e9e9e9"/><rect x="33" y="308" width="3.3" height="3.3" fill="#dadada"/><rect x="36" y="308" width="3.3" height="3.3" fill="#c9c9c9"/><rect x="39" y="308" width="3.3" height="3.3" fill="#bfbfbf"/><rect x="42" y="308" width="3.3" height="3.3" fill="#b8b8b8"/><rect x="45" y="308" width="3.3" height="3.3" fill="#b0b0b0"/><rect x="48" y="308" width="3.3" height="3.3" fill="#aaaaaa"/><rect x="51" y="308" width="3.3" height="3.3" fill="#a4a4a4"/><rect x="54" y="308" width="3.3" height="3.3" fill="#999999"/><rect x="57" y="308" width="3.3" height="3.3" fill="#909090"/><rect x="60" y="308" width="3.3" height="3.3" fill="#8c8c8c"/><rect x="63" y="308" width="3.3" height="3.3" fill="#888888"/><rect x="66" y="308" width="3.3" height="3.3" fill="#848484"/><rect x="69" y="308" width="9.3" height="3.3" fill="#828282"/><rect x="78" y="308" width="3.3" height="3.3" fill="#7f7f7f"/><rect x="81" y="308" width="3.3" height="3.3" fill="#7c7c7c"/><rect x="84" y="308" width="3.3" height="3.3" fill="#757575"/><rect x="87" y="308" width="3.3" height="3.3" fill="#6c6c6c"/><rect x="90" y="308" width="3.3" height="3.3" fill="#676767"/><rect x="93" y="308" width="3.3" height="3.3" fill="#616161"/><rect x="96" y="308" width="3.3" height="3.3" fill="#5a5a5a"/><rect x="99" y="308" width="3.3" height="3.3" fill="#585858"/><rect x="102" y="308" width="3.3" height="3.3" fill="#5c5c5c"/><rect x="105" y="308" width="3.3" height="3.3" fill="#636363"/><rect x="108" y="308" width="3.3" height="3.3" fill="#676767"/><rect x="111" y="308" width="21.3" height="3.3" fill="#696969"/><rect x="132" y="308" width="3.3" height="3.3" fill="#666666"/><rect x="135" y="308" width="3.3" height="3.3" fill="#626262"/><rect x="138" y="308" width="3.3" height="3.3" fill="#5e5e5e"/><rect x="141" y="308" width="3.3" height="3.3" fill="#5c5c5c"/><rect x="144" y="308" width="3.3" height="3.3" fill="#595959"/><rect x="147" y="308" width="6.3" height="3.3" fill="#575757"/></g>
<path d="M7.7 240L20 243L31 248L33 262L34.5 280L34.5 300L7.7 300Z" fill="#ebebeb" filter="url(#bp)"/>
<g filter="url(#bp)"><circle cx="82" cy="192.6" r="4.5" fill="#2d2d2d" fill-opacity="0.8"/><circle cx="77" cy="194.5" r="3.5" fill="#2d2d2d" fill-opacity="0.8"/><circle cx="93" cy="223" r="4.5" fill="#282828" fill-opacity="0.8"/><circle cx="122" cy="219" r="4" fill="#323232" fill-opacity="0.8"/><circle cx="107.5" cy="207" r="3.5" fill="#464646" fill-opacity="0.8"/><circle cx="116.5" cy="187" r="3.5" fill="#464646" fill-opacity="0.8"/><circle cx="129" cy="194.4" r="3.5" fill="#555555" fill-opacity="0.8"/><circle cx="134.6" cy="234" r="3.5" fill="#4b4b4b" fill-opacity="0.8"/><circle cx="76.5" cy="213" r="3" fill="#464646" fill-opacity="0.8"/><circle cx="61" cy="250.7" r="4" fill="#1e1e1e" fill-opacity="0.8"/><circle cx="76.3" cy="257" r="4" fill="#1e1e1e" fill-opacity="0.8"/><circle cx="77" cy="225.4" r="3.5" fill="#323232" fill-opacity="0.8"/><circle cx="46.5" cy="238" r="3.5" fill="#505050" fill-opacity="0.8"/><circle cx="84" cy="244" r="3.5" fill="#323232" fill-opacity="0.8"/><circle cx="100" cy="278" r="4.5" fill="#1e1e1e" fill-opacity="0.8"/><circle cx="129" cy="267.5" r="4" fill="#2d2d2d" fill-opacity="0.8"/><circle cx="145.4" cy="245.8" r="4" fill="#323232" fill-opacity="0.8"/><circle cx="114.7" cy="244" r="3" fill="#464646" fill-opacity="0.8"/><circle cx="145" cy="289" r="4" fill="#323232" fill-opacity="0.8"/><circle cx="134.6" cy="276.5" r="3.5" fill="#3c3c3c" fill-opacity="0.8"/><circle cx="115.7" cy="280" r="3.5" fill="#3c3c3c" fill-opacity="0.8"/><circle cx="135" cy="269.5" r="4.5" fill="#2d2d2d" fill-opacity="0.8"/><circle cx="139.8" cy="299.6" r="3.5" fill="#3c3c3c" fill-opacity="0.8"/><circle cx="97.6" cy="304" r="3.5" fill="#3c3c3c" fill-opacity="0.8"/><circle cx="82.5" cy="280" r="3.5" fill="#505050" fill-opacity="0.8"/><circle cx="54.7" cy="281.5" r="3.5" fill="#5a5a5a" fill-opacity="0.8"/><circle cx="68" cy="272.5" r="3.5" fill="#6e6e6e" fill-opacity="0.8"/><circle cx="46" cy="178" r="3.5" fill="#787878" fill-opacity="0.8"/><circle cx="70" cy="176" r="3.5" fill="#828282" fill-opacity="0.8"/><circle cx="88" cy="191" r="3" fill="#323232" fill-opacity="0.8"/><circle cx="109" cy="196" r="3" fill="#3c3c3c" fill-opacity="0.8"/><circle cx="127" cy="193.7" r="3" fill="#3c3c3c" fill-opacity="0.8"/><circle cx="101" cy="219.6" r="3.5" fill="#2d2d2d" fill-opacity="0.8"/><circle cx="137" cy="211.8" r="3" fill="#3c3c3c" fill-opacity="0.8"/><circle cx="83" cy="237.7" r="3.5" fill="#2d2d2d" fill-opacity="0.8"/><circle cx="111" cy="237.7" r="3.5" fill="#323232" fill-opacity="0.8"/><circle cx="147.7" cy="235" r="3" fill="#373737" fill-opacity="0.8"/><circle cx="70" cy="250.7" r="3.5" fill="#323232" fill-opacity="0.8"/><circle cx="90.7" cy="255.9" r="3.5" fill="#323232" fill-opacity="0.8"/><circle cx="124" cy="263.6" r="3.5" fill="#323232" fill-opacity="0.8"/><circle cx="106" cy="271.4" r="3" fill="#373737" fill-opacity="0.8"/><circle cx="77.7" cy="279" r="3" fill="#3c3c3c" fill-opacity="0.8"/><circle cx="142.5" cy="284.4" r="3.5" fill="#323232" fill-opacity="0.8"/><circle cx="98.4" cy="292" r="3" fill="#373737" fill-opacity="0.8"/><circle cx="124" cy="297" r="3.5" fill="#373737" fill-opacity="0.8"/><circle cx="59.6" cy="261" r="3" fill="#464646" fill-opacity="0.8"/><circle cx="51.8" cy="240" r="3" fill="#505050" fill-opacity="0.8"/></g>
</g>
</g>
<text x="87.2" y="22.9" font-family="'Liberation Serif',serif" font-weight="bold" font-size="12.4">WI method</text>
<text x="13.3" y="147" font-family="'Liberation Serif',serif" font-weight="bold" font-size="6.3">10 nm</text>
<rect x="7.7" y="292" width="26" height="17" fill="#f6f6f6"/>
<text x="89" y="178.8" font-family="'Liberation Serif',serif" font-weight="bold" font-size="12.3">DP method</text>
<text x="13.3" y="302.6" font-family="'Liberation Serif',serif" font-weight="bold" font-size="7">5 nm</text>
<rect x="15.8" y="304.6" width="10" height="2.3" fill="#7a7a7a"/>
<g stroke="#bed49e" stroke-width="1" stroke-dasharray="2 2" stroke-dashoffset="-1" fill="none"><line x1="2.2" y1="4" x2="547.5" y2="4" /><line x1="2.2" y1="155.5" x2="547.5" y2="155.5" /><line x1="2.2" y1="4" x2="2.2" y2="155.5" /><line x1="547.5" y1="4" x2="547.5" y2="155.5" /><line x1="2.2" y1="161.5" x2="547.5" y2="161.5" /><line x1="2.2" y1="314" x2="547.5" y2="314" /><line x1="2.2" y1="161.5" x2="2.2" y2="314" /><line x1="547.5" y1="161.5" x2="547.5" y2="314" /></g><g style="font-family:'Liberation Serif','Times New Roman',serif"><rect x="205.72" y="90.01" width="6.3" height="31.29" fill="#c6c6c6" stroke="#555" stroke-width="0.8"/><rect x="215.85" y="86.28" width="6.3" height="35.02" fill="#c6c6c6" stroke="#555" stroke-width="0.8"/><rect x="225.97" y="50.93" width="6.3" height="70.37" fill="#c6c6c6" stroke="#555" stroke-width="0.8"/><rect x="236.1" y="36.01" width="6.3" height="85.29" fill="#c6c6c6" stroke="#555" stroke-width="0.8"/><rect x="246.22" y="78.82" width="6.3" height="42.48" fill="#c6c6c6" stroke="#555" stroke-width="0.8"/><rect x="256.35" y="94.25" width="6.3" height="27.05" fill="#c6c6c6" stroke="#555" stroke-width="0.8"/><rect x="266.48" y="101.74" width="6.3" height="19.56" fill="#c6c6c6" stroke="#555" stroke-width="0.8"/><rect x="276.6" y="113.74" width="6.3" height="7.56" fill="#c6c6c6" stroke="#555" stroke-width="0.8"/><rect x="286.73" y="113.74" width="6.3" height="7.56" fill="#c6c6c6" stroke="#555" stroke-width="0.8"/><path d="M188 24H310.5V121.3" fill="none" stroke="#999" stroke-width="1"/><path d="M188 24V121.3H310.5" fill="none" stroke="#555" stroke-width="1"/><line x1="186.5" y1="121.3" x2="188" y2="121.3" stroke="#555" stroke-width="0.6"/><text x="185.5" y="122.8" text-anchor="end" font-size="4.6" fill="#333">0</text><line x1="186.5" y1="105.08" x2="188" y2="105.08" stroke="#555" stroke-width="0.6"/><text x="185.5" y="106.58" text-anchor="end" font-size="4.6" fill="#333">5</text><line x1="186.5" y1="88.87" x2="188" y2="88.87" stroke="#555" stroke-width="0.6"/><text x="185.5" y="90.37" text-anchor="end" font-size="4.6" fill="#333">10</text><line x1="186.5" y1="72.66" x2="188" y2="72.66" stroke="#555" stroke-width="0.6"/><text x="185.5" y="74.16" text-anchor="end" font-size="4.6" fill="#333">15</text><line x1="186.5" y1="56.44" x2="188" y2="56.44" stroke="#555" stroke-width="0.6"/><text x="185.5" y="57.94" text-anchor="end" font-size="4.6" fill="#333">20</text><line x1="186.5" y1="40.22" x2="188" y2="40.22" stroke="#555" stroke-width="0.6"/><text x="185.5" y="41.72" text-anchor="end" font-size="4.6" fill="#333">25</text><line x1="186.5" y1="24.01" x2="188" y2="24.01" stroke="#555" stroke-width="0.6"/><text x="185.5" y="25.51" text-anchor="end" font-size="4.6" fill="#333">30</text><line x1="198.75" y1="121.3" x2="198.75" y2="122.8" stroke="#555" stroke-width="0.6"/><text x="198.75" y="129.3" text-anchor="middle" font-size="4.6" fill="#333">6</text><line x1="219" y1="121.3" x2="219" y2="122.8" stroke="#555" stroke-width="0.6"/><text x="219" y="129.3" text-anchor="middle" font-size="4.6" fill="#333">8</text><line x1="239.25" y1="121.3" x2="239.25" y2="122.8" stroke="#555" stroke-width="0.6"/><text x="239.25" y="129.3" text-anchor="middle" font-size="4.6" fill="#333">10</text><line x1="259.5" y1="121.3" x2="259.5" y2="122.8" stroke="#555" stroke-width="0.6"/><text x="259.5" y="129.3" text-anchor="middle" font-size="4.6" fill="#333">12</text><line x1="279.75" y1="121.3" x2="279.75" y2="122.8" stroke="#555" stroke-width="0.6"/><text x="279.75" y="129.3" text-anchor="middle" font-size="4.6" fill="#333">14</text><line x1="300" y1="121.3" x2="300" y2="122.8" stroke="#555" stroke-width="0.6"/><text x="300" y="129.3" text-anchor="middle" font-size="4.6" fill="#333">16</text><text x="249.75" y="146.5" text-anchor="middle" font-size="9" font-weight="bold">Ni size (nm)</text><text transform="translate(171.5 77.25) rotate(-90)" text-anchor="middle" font-size="8.7" font-weight="bold">Distribution (%)</text><rect x="195.03" y="262.39" width="8" height="11.61" fill="#c6c6c6" stroke="#555" stroke-width="0.8"/><rect x="207.81" y="220.26" width="8" height="53.74" fill="#c6c6c6" stroke="#555" stroke-width="0.8"/><rect x="220.59" y="190.08" width="8" height="83.92" fill="#c6c6c6" stroke="#555" stroke-width="0.8"/><rect x="233.37" y="208.66" width="8" height="65.34" fill="#c6c6c6" stroke="#555" stroke-width="0.8"/><rect x="246.15" y="208.66" width="8" height="65.34" fill="#c6c6c6" stroke="#555" stroke-width="0.8"/><rect x="258.93" y="246.47" width="8" height="27.53" fill="#c6c6c6" stroke="#555" stroke-width="0.8"/><rect x="271.71" y="260.07" width="8" height="13.93" fill="#c6c6c6" stroke="#555" stroke-width="0.8"/><rect x="284.49" y="269.69" width="8" height="4.31" fill="#c6c6c6" stroke="#555" stroke-width="0.8"/><rect x="297.27" y="269.69" width="8" height="4.31" fill="#c6c6c6" stroke="#555" stroke-width="0.8"/><path d="M186 174.5H314.25V274" fill="none" stroke="#999" stroke-width="1"/><path d="M186 174.5V274H314.25" fill="none" stroke="#555" stroke-width="1"/><line x1="184.5" y1="274" x2="186" y2="274" stroke="#555" stroke-width="0.6"/><text x="183.5" y="275.5" text-anchor="end" font-size="4.6" fill="#333">0</text><line x1="184.5" y1="257.42" x2="186" y2="257.42" stroke="#555" stroke-width="0.6"/><text x="183.5" y="258.92" text-anchor="end" font-size="4.6" fill="#333">5</text><line x1="184.5" y1="240.83" x2="186" y2="240.83" stroke="#555" stroke-width="0.6"/><text x="183.5" y="242.33" text-anchor="end" font-size="4.6" fill="#333">10</text><line x1="184.5" y1="224.25" x2="186" y2="224.25" stroke="#555" stroke-width="0.6"/><text x="183.5" y="225.75" text-anchor="end" font-size="4.6" fill="#333">15</text><line x1="184.5" y1="207.66" x2="186" y2="207.66" stroke="#555" stroke-width="0.6"/><text x="183.5" y="209.16" text-anchor="end" font-size="4.6" fill="#333">20</text><line x1="184.5" y1="191.07" x2="186" y2="191.07" stroke="#555" stroke-width="0.6"/><text x="183.5" y="192.57" text-anchor="end" font-size="4.6" fill="#333">25</text><line x1="184.5" y1="174.49" x2="186" y2="174.49" stroke="#555" stroke-width="0.6"/><text x="183.5" y="175.99" text-anchor="end" font-size="4.6" fill="#333">30</text><line x1="186.25" y1="274" x2="186.25" y2="275.5" stroke="#555" stroke-width="0.6"/><text x="186.25" y="282" text-anchor="middle" font-size="4.6" fill="#333">2</text><line x1="211.81" y1="274" x2="211.81" y2="275.5" stroke="#555" stroke-width="0.6"/><text x="211.81" y="282" text-anchor="middle" font-size="4.6" fill="#333">3</text><line x1="237.37" y1="274" x2="237.37" y2="275.5" stroke="#555" stroke-width="0.6"/><text x="237.37" y="282" text-anchor="middle" font-size="4.6" fill="#333">4</text><line x1="262.93" y1="274" x2="262.93" y2="275.5" stroke="#555" stroke-width="0.6"/><text x="262.93" y="282" text-anchor="middle" font-size="4.6" fill="#333">5</text><line x1="288.49" y1="274" x2="288.49" y2="275.5" stroke="#555" stroke-width="0.6"/><text x="288.49" y="282" text-anchor="middle" font-size="4.6" fill="#333">6</text><line x1="314.05" y1="274" x2="314.05" y2="275.5" stroke="#555" stroke-width="0.6"/><text x="314.05" y="282" text-anchor="middle" font-size="4.6" fill="#333">7</text><text x="250.62" y="294" text-anchor="middle" font-size="9" font-weight="bold">Ni size (nm)</text><text transform="translate(171.5 224.6) rotate(-90)" text-anchor="middle" font-size="8.7" font-weight="bold">Distribution (%)</text><line x1="183" y1="171.9" x2="315" y2="171.9" stroke="#f0f0f0" stroke-width="0.8"/></g><g style="font-family:'Liberation Serif','Times New Roman',serif"><rect x="363.5" y="6.5" width="173.5" height="121" fill="none" stroke="#888" stroke-width="0.8"/><line x1="361.0" y1="117.5" x2="363.5" y2="117.5" stroke="#555" stroke-width="0.5"/><text x="359.0" y="119.3" text-anchor="end" font-size="5.6" fill="#1a1a1a">0</text><line x1="361.0" y1="97.25" x2="363.5" y2="97.25" stroke="#555" stroke-width="0.5"/><text x="359.0" y="99.05" text-anchor="end" font-size="5.6" fill="#1a1a1a">20</text><line x1="361.0" y1="77" x2="363.5" y2="77" stroke="#555" stroke-width="0.5"/><text x="359.0" y="78.8" text-anchor="end" font-size="5.6" fill="#1a1a1a">40</text><line x1="361.0" y1="56.75" x2="363.5" y2="56.75" stroke="#555" stroke-width="0.5"/><text x="359.0" y="58.55" text-anchor="end" font-size="5.6" fill="#1a1a1a">60</text><line x1="361.0" y1="36.5" x2="363.5" y2="36.5" stroke="#555" stroke-width="0.5"/><text x="359.0" y="38.3" text-anchor="end" font-size="5.6" fill="#1a1a1a">80</text><line x1="361.0" y1="16.25" x2="363.5" y2="16.25" stroke="#555" stroke-width="0.5"/><text x="359.0" y="18.05" text-anchor="end" font-size="5.6" fill="#1a1a1a">100</text><line x1="379.5" y1="127.5" x2="379.5" y2="130.0" stroke="#555" stroke-width="0.5"/><text x="379.5" y="138" text-anchor="middle" font-size="5.6" fill="#1a1a1a">150</text><line x1="405.62" y1="127.5" x2="405.62" y2="130.0" stroke="#555" stroke-width="0.5"/><text x="405.62" y="138" text-anchor="middle" font-size="5.6" fill="#1a1a1a">200</text><line x1="431.75" y1="127.5" x2="431.75" y2="130.0" stroke="#555" stroke-width="0.5"/><text x="431.75" y="138" text-anchor="middle" font-size="5.6" fill="#1a1a1a">250</text><line x1="457.88" y1="127.5" x2="457.88" y2="130.0" stroke="#555" stroke-width="0.5"/><text x="457.88" y="138" text-anchor="middle" font-size="5.6" fill="#1a1a1a">300</text><line x1="484" y1="127.5" x2="484" y2="130.0" stroke="#555" stroke-width="0.5"/><text x="484" y="138" text-anchor="middle" font-size="5.6" fill="#1a1a1a">350</text><line x1="510.12" y1="127.5" x2="510.12" y2="130.0" stroke="#555" stroke-width="0.5"/><text x="510.12" y="138" text-anchor="middle" font-size="5.6" fill="#1a1a1a">400</text><line x1="536.25" y1="127.5" x2="536.25" y2="130.0" stroke="#555" stroke-width="0.5"/><text x="536.25" y="138" text-anchor="middle" font-size="5.6" fill="#1a1a1a">450</text><path d="M374.27 117.5 L379.5 117.5 L384.73 117.5 L389.95 117.3 L395.18 117.09 L400.4 116.69 L405.62 116.18 L410.85 115.47 L416.07 114.46 L421.3 113.25 L426.52 112.03 L431.75 109.2 L436.98 107.07 L442.2 104.24 L447.43 101.5 L452.65 97.15 L457.88 91.68 L463.1 86.11 L468.32 79.43 L473.55 72.55 L478.77 64.55 L484 56.24 L489.23 46.22 L494.45 37.51 L499.68 31.84 L504.9 24.45 L510.12 18.58 L515.35 16.25 L520.58 16.25 L525.8 16.25" fill="none" stroke="#000" stroke-width="0.5"/><path d="M374.27 117.5 L379.5 117.5 L384.73 117.5 L389.95 117.3 L395.18 116.99 L400.4 116.49 L405.62 115.98 L410.85 115.17 L416.07 114.16 L421.3 112.94 L426.52 111.73 L431.75 109.4 L436.98 106.87 L442.2 101.81 L447.43 95.22 L452.65 87.53 L457.88 76.29 L463.1 65.36 L468.32 51.69 L473.55 35.49 L478.77 22.53 L484 17.67 L489.23 16.25 L494.45 16.25 L499.68 16.25 L504.9 16.25 L510.12 16.25" fill="none" stroke="#000" stroke-width="0.5"/><path d="M374.27 117.5 L379.5 117.5 L384.73 117.2 L389.95 116.99 L395.18 116.59 L400.4 116.08 L405.62 114.56 L410.85 112.84 L416.07 110.61 L421.3 107.38 L426.52 102.92 L431.75 97.15 L436.98 89.15 L442.2 79.03 L447.43 67.89 L452.65 54.22 L457.88 39.54 L463.1 28.4 L468.32 22.12 L473.55 18.58 L478.77 16.76 L484 16.25" fill="none" stroke="#000" stroke-width="0.5"/><path d="M374.27 116.99 L379.5 116.69 L384.73 116.39 L389.95 115.68 L395.18 114.56 L400.4 112.44 L405.62 109.2 L410.85 104.84 L416.07 97.55 L421.3 88.14 L426.52 74.67 L431.75 60.29 L436.98 41.97 L442.2 26.98 L447.43 19.29 L452.65 16.25 L457.88 16.25 L463.1 16.25 L468.32 16.25 L473.55 16.25 L478.77 16.25 L484 16.25" fill="none" stroke="#000" stroke-width="0.5"/><circle cx="374.27" cy="117.5" r="2" fill="#000"/><circle cx="379.5" cy="117.5" r="2" fill="#000"/><circle cx="384.73" cy="117.5" r="2" fill="#000"/><circle cx="389.95" cy="117.3" r="2" fill="#000"/><circle cx="395.18" cy="117.09" r="2" fill="#000"/><circle cx="400.4" cy="116.69" r="2" fill="#000"/><circle cx="405.62" cy="116.18" r="2" fill="#000"/><circle cx="410.85" cy="115.47" r="2" fill="#000"/><circle cx="416.07" cy="114.46" r="2" fill="#000"/><circle cx="421.3" cy="113.25" r="2" fill="#000"/><circle cx="426.52" cy="112.03" r="2" fill="#000"/><circle cx="431.75" cy="109.2" r="2" fill="#000"/><circle cx="436.98" cy="107.07" r="2" fill="#000"/><circle cx="442.2" cy="104.24" r="2" fill="#000"/><circle cx="447.43" cy="101.5" r="2" fill="#000"/><circle cx="452.65" cy="97.15" r="2" fill="#000"/><circle cx="457.88" cy="91.68" r="2" fill="#000"/><circle cx="463.1" cy="86.11" r="2" fill="#000"/><circle cx="468.32" cy="79.43" r="2" fill="#000"/><circle cx="473.55" cy="72.55" r="2" fill="#000"/><circle cx="478.77" cy="64.55" r="2" fill="#000"/><circle cx="484" cy="56.24" r="2" fill="#000"/><circle cx="489.23" cy="46.22" r="2" fill="#000"/><circle cx="494.45" cy="37.51" r="2" fill="#000"/><circle cx="499.68" cy="31.84" r="2" fill="#000"/><circle cx="504.9" cy="24.45" r="2" fill="#000"/><circle cx="510.12" cy="18.58" r="2" fill="#000"/><circle cx="515.35" cy="16.25" r="2" fill="#000"/><circle cx="520.58" cy="16.25" r="2" fill="#000"/><circle cx="525.8" cy="16.25" r="2" fill="#000"/><rect x="372.47" y="115.7" width="3.6" height="3.6" fill="#000"/><rect x="377.7" y="115.7" width="3.6" height="3.6" fill="#000"/><rect x="382.93" y="115.7" width="3.6" height="3.6" fill="#000"/><rect x="388.15" y="115.5" width="3.6" height="3.6" fill="#000"/><rect x="393.38" y="115.19" width="3.6" height="3.6" fill="#000"/><rect x="398.6" y="114.69" width="3.6" height="3.6" fill="#000"/><rect x="403.82" y="114.18" width="3.6" height="3.6" fill="#000"/><rect x="409.05" y="113.37" width="3.6" height="3.6" fill="#000"/><rect x="414.27" y="112.36" width="3.6" height="3.6" fill="#000"/><rect x="419.5" y="111.14" width="3.6" height="3.6" fill="#000"/><rect x="424.72" y="109.93" width="3.6" height="3.6" fill="#000"/><rect x="429.95" y="107.6" width="3.6" height="3.6" fill="#000"/><rect x="435.18" y="105.07" width="3.6" height="3.6" fill="#000"/><rect x="440.4" y="100.01" width="3.6" height="3.6" fill="#000"/><rect x="445.62" y="93.42" width="3.6" height="3.6" fill="#000"/><rect x="450.85" y="85.73" width="3.6" height="3.6" fill="#000"/><rect x="456.07" y="74.49" width="3.6" height="3.6" fill="#000"/><rect x="461.3" y="63.56" width="3.6" height="3.6" fill="#000"/><rect x="466.52" y="49.89" width="3.6" height="3.6" fill="#000"/><rect x="471.75" y="33.69" width="3.6" height="3.6" fill="#000"/><rect x="476.97" y="20.73" width="3.6" height="3.6" fill="#000"/><rect x="482.2" y="15.87" width="3.6" height="3.6" fill="#000"/><rect x="487.43" y="14.45" width="3.6" height="3.6" fill="#000"/><rect x="492.65" y="14.45" width="3.6" height="3.6" fill="#000"/><rect x="497.88" y="14.45" width="3.6" height="3.6" fill="#000"/><rect x="503.1" y="14.45" width="3.6" height="3.6" fill="#000"/><rect x="508.32" y="14.45" width="3.6" height="3.6" fill="#000"/><path d="M374.27 115.2L376.57 117.5L374.27 119.8L371.97 117.5Z" fill="#fff" stroke="#000" stroke-width="0.55"/><path d="M379.5 115.2L381.8 117.5L379.5 119.8L377.2 117.5Z" fill="#fff" stroke="#000" stroke-width="0.55"/><path d="M384.73 114.9L387.03 117.2L384.73 119.5L382.43 117.2Z" fill="#fff" stroke="#000" stroke-width="0.55"/><path d="M389.95 114.69L392.25 116.99L389.95 119.29L387.65 116.99Z" fill="#fff" stroke="#000" stroke-width="0.55"/><path d="M395.18 114.29L397.48 116.59L395.18 118.89L392.88 116.59Z" fill="#fff" stroke="#000" stroke-width="0.55"/><path d="M400.4 113.78L402.7 116.08L400.4 118.38L398.1 116.08Z" fill="#fff" stroke="#000" stroke-width="0.55"/><path d="M405.62 112.26L407.93 114.56L405.62 116.86L403.32 114.56Z" fill="#fff" stroke="#000" stroke-width="0.55"/><path d="M410.85 110.54L413.15 112.84L410.85 115.14L408.55 112.84Z" fill="#fff" stroke="#000" stroke-width="0.55"/><path d="M416.07 108.31L418.38 110.61L416.07 112.91L413.77 110.61Z" fill="#fff" stroke="#000" stroke-width="0.55"/><path d="M421.3 105.08L423.6 107.38L421.3 109.67L419 107.38Z" fill="#fff" stroke="#000" stroke-width="0.55"/><path d="M426.52 100.62L428.82 102.92L426.52 105.22L424.22 102.92Z" fill="#fff" stroke="#000" stroke-width="0.55"/><path d="M431.75 94.85L434.05 97.15L431.75 99.45L429.45 97.15Z" fill="#fff" stroke="#000" stroke-width="0.55"/><path d="M436.98 86.85L439.28 89.15L436.98 91.45L434.68 89.15Z" fill="#fff" stroke="#000" stroke-width="0.55"/><path d="M442.2 76.73L444.5 79.03L442.2 81.33L439.9 79.03Z" fill="#fff" stroke="#000" stroke-width="0.55"/><path d="M447.43 65.59L449.73 67.89L447.43 70.19L445.12 67.89Z" fill="#fff" stroke="#000" stroke-width="0.55"/><path d="M452.65 51.92L454.95 54.22L452.65 56.52L450.35 54.22Z" fill="#fff" stroke="#000" stroke-width="0.55"/><path d="M457.88 37.24L460.18 39.54L457.88 41.84L455.57 39.54Z" fill="#fff" stroke="#000" stroke-width="0.55"/><path d="M463.1 26.1L465.4 28.4L463.1 30.7L460.8 28.4Z" fill="#fff" stroke="#000" stroke-width="0.55"/><path d="M468.32 19.82L470.62 22.12L468.32 24.42L466.02 22.12Z" fill="#fff" stroke="#000" stroke-width="0.55"/><path d="M473.55 16.28L475.85 18.58L473.55 20.88L471.25 18.58Z" fill="#fff" stroke="#000" stroke-width="0.55"/><path d="M478.77 14.46L481.07 16.76L478.77 19.06L476.47 16.76Z" fill="#fff" stroke="#000" stroke-width="0.55"/><path d="M484 13.95L486.3 16.25L484 18.55L481.7 16.25Z" fill="#fff" stroke="#000" stroke-width="0.55"/><path d="M374.27 114.69L376.57 118.72L371.97 118.72Z" fill="#000"/><path d="M379.5 114.39L381.8 118.41L377.2 118.41Z" fill="#000"/><path d="M384.73 114.09L387.03 118.11L382.43 118.11Z" fill="#000"/><path d="M389.95 113.38L392.25 117.4L387.65 117.4Z" fill="#000"/><path d="M395.18 112.26L397.48 116.29L392.88 116.29Z" fill="#000"/><path d="M400.4 110.14L402.7 114.16L398.1 114.16Z" fill="#000"/><path d="M405.62 106.9L407.93 110.92L403.32 110.92Z" fill="#000"/><path d="M410.85 102.54L413.15 106.57L408.55 106.57Z" fill="#000"/><path d="M416.07 95.25L418.38 99.28L413.77 99.28Z" fill="#000"/><path d="M421.3 85.84L423.6 89.86L419 89.86Z" fill="#000"/><path d="M426.52 72.37L428.82 76.4L424.22 76.4Z" fill="#000"/><path d="M431.75 57.99L434.05 62.02L429.45 62.02Z" fill="#000"/><path d="M436.98 39.67L439.28 43.69L434.68 43.69Z" fill="#000"/><path d="M442.2 24.68L444.5 28.71L439.9 28.71Z" fill="#000"/><path d="M447.43 16.99L449.73 21.01L445.12 21.01Z" fill="#000"/><path d="M452.65 13.95L454.95 17.98L450.35 17.98Z" fill="#000"/><path d="M457.88 13.95L460.18 17.98L455.57 17.98Z" fill="#000"/><path d="M463.1 13.95L465.4 17.98L460.8 17.98Z" fill="#000"/><path d="M468.32 13.95L470.62 17.98L466.02 17.98Z" fill="#000"/><path d="M473.55 13.95L475.85 17.98L471.25 17.98Z" fill="#000"/><path d="M478.77 13.95L481.07 17.98L476.47 17.98Z" fill="#000"/><path d="M484 13.95L486.3 17.98L481.7 17.98Z" fill="#000"/><line x1="367.5" y1="13.1" x2="377.5" y2="13.1" stroke="#000" stroke-width="0.55"/><circle cx="372.5" cy="13.1" r="2" fill="#000"/><text x="381.5" y="14.8" font-size="5" fill="#000" stroke="#000" stroke-width="0.18">Ni/γ-Al<tspan font-size="3.9" dy="1.2">2</tspan><tspan dy="-1.2">O<tspan font-size="3.9" dy="1.2">3</tspan><tspan dy="-1.2"> (WI)</tspan></tspan></text><line x1="367.5" y1="21.4" x2="377.5" y2="21.4" stroke="#000" stroke-width="0.55"/><rect x="370.7" y="19.6" width="3.6" height="3.6" fill="#000"/><text x="381.5" y="23.1" font-size="5" fill="#000" stroke="#000" stroke-width="0.18">Ni/Al@ZnAl<tspan font-size="3.9" dy="1.2">2</tspan><tspan dy="-1.2">O<tspan font-size="3.9" dy="1.2">4</tspan><tspan dy="-1.2"> (WI)</tspan></tspan></text><line x1="367.5" y1="29.7" x2="377.5" y2="29.7" stroke="#000" stroke-width="0.55"/><path d="M372.5 27.4L374.8 29.7L372.5 32L370.2 29.7Z" fill="#fff" stroke="#000" stroke-width="0.55"/><text x="381.5" y="31.4" font-size="5" fill="#000" stroke="#000" stroke-width="0.18">Ni/Al@MgAl<tspan font-size="3.9" dy="1.2">2</tspan><tspan dy="-1.2">O<tspan font-size="3.9" dy="1.2">4</tspan><tspan dy="-1.2"> (WI)</tspan></tspan></text><line x1="367.5" y1="38" x2="377.5" y2="38" stroke="#000" stroke-width="0.55"/><path d="M372.5 35.7L374.8 39.73L370.2 39.73Z" fill="#000"/><text x="381.5" y="39.7" font-size="5" fill="#000" stroke="#000" stroke-width="0.18">Ni/Al@MnAl<tspan font-size="3.9" dy="1.2">2</tspan><tspan dy="-1.2">O<tspan font-size="3.9" dy="1.2">4</tspan><tspan dy="-1.2"> (WI)</tspan></tspan></text><text transform="translate(341.3 67.1) rotate(-90)" text-anchor="middle" font-size="8.8" font-weight="bold">CO<tspan font-size="5.8" dy="1.8">2</tspan><tspan dy="-1.8"> Conversion (%)</tspan></text><text x="400.5" y="151.8" font-size="8.75" font-weight="bold">Reaction Temperature (°C)</text></g><clipPath id="cb"><rect x="300" y="160" width="250" height="150.4"/></clipPath><g style="font-family:'Liberation Serif','Times New Roman',serif" clip-path="url(#cb)"><rect x="364.5" y="166.5" width="174.5" height="119.75" fill="none" stroke="#888" stroke-width="0.8"/><line x1="362.0" y1="276.25" x2="364.5" y2="276.25" stroke="#555" stroke-width="0.5"/><text x="360.0" y="278.05" text-anchor="end" font-size="5.6" fill="#1a1a1a">0</text><line x1="362.0" y1="256.25" x2="364.5" y2="256.25" stroke="#555" stroke-width="0.5"/><text x="360.0" y="258.05" text-anchor="end" font-size="5.6" fill="#1a1a1a">20</text><line x1="362.0" y1="236.25" x2="364.5" y2="236.25" stroke="#555" stroke-width="0.5"/><text x="360.0" y="238.05" text-anchor="end" font-size="5.6" fill="#1a1a1a">40</text><line x1="362.0" y1="216.25" x2="364.5" y2="216.25" stroke="#555" stroke-width="0.5"/><text x="360.0" y="218.05" text-anchor="end" font-size="5.6" fill="#1a1a1a">60</text><line x1="362.0" y1="196.25" x2="364.5" y2="196.25" stroke="#555" stroke-width="0.5"/><text x="360.0" y="198.05" text-anchor="end" font-size="5.6" fill="#1a1a1a">80</text><line x1="362.0" y1="176.25" x2="364.5" y2="176.25" stroke="#555" stroke-width="0.5"/><text x="360.0" y="178.05" text-anchor="end" font-size="5.6" fill="#1a1a1a">100</text><line x1="380.5" y1="286.25" x2="380.5" y2="288.75" stroke="#555" stroke-width="0.5"/><text x="380.5" y="296.75" text-anchor="middle" font-size="5.6" fill="#1a1a1a">150</text><line x1="406.88" y1="286.25" x2="406.88" y2="288.75" stroke="#555" stroke-width="0.5"/><text x="406.88" y="296.75" text-anchor="middle" font-size="5.6" fill="#1a1a1a">200</text><line x1="433.25" y1="286.25" x2="433.25" y2="288.75" stroke="#555" stroke-width="0.5"/><text x="433.25" y="296.75" text-anchor="middle" font-size="5.6" fill="#1a1a1a">250</text><line x1="459.62" y1="286.25" x2="459.62" y2="288.75" stroke="#555" stroke-width="0.5"/><text x="459.62" y="296.75" text-anchor="middle" font-size="5.6" fill="#1a1a1a">300</text><line x1="486" y1="286.25" x2="486" y2="288.75" stroke="#555" stroke-width="0.5"/><text x="486" y="296.75" text-anchor="middle" font-size="5.6" fill="#1a1a1a">350</text><line x1="512.38" y1="286.25" x2="512.38" y2="288.75" stroke="#555" stroke-width="0.5"/><text x="512.38" y="296.75" text-anchor="middle" font-size="5.6" fill="#1a1a1a">400</text><line x1="538.75" y1="286.25" x2="538.75" y2="288.75" stroke="#555" stroke-width="0.5"/><text x="538.75" y="296.75" text-anchor="middle" font-size="5.6" fill="#1a1a1a">450</text><path d="M369.95 276.25 L375.23 276.05 L380.5 275.85 L385.77 275.65 L391.05 275.45 L396.32 275.25 L401.6 275.05 L406.88 274.75 L412.15 274.05 L417.43 273.25 L422.7 271.85 L427.98 270.15 L433.25 268.65 L438.52 264.65 L443.8 259.25 L449.07 251.95 L454.35 242.75 L459.62 228.75 L464.9 213.45 L470.18 193.65 L475.45 184.85 L480.73 179.55 L486 177.25 L491.27 176.25 L496.55 176.25 L501.82 176.25 L507.1 176.25" fill="none" stroke="#000" stroke-width="0.5"/><path d="M369.95 276.05 L375.23 275.85 L380.5 275.45 L385.77 275.05 L391.05 274.25 L396.32 273.25 L401.6 271.75 L406.88 269.25 L412.15 265.25 L417.43 260.25 L422.7 251.25 L427.98 239.25 L433.25 225.25 L438.52 208.25 L443.8 194.25 L449.07 184.25 L454.35 179.25 L459.62 176.75 L464.9 176.25 L470.18 176.25 L475.45 176.25 L480.73 176.25" fill="none" stroke="#000" stroke-width="0.5"/><path d="M369.95 276.25 L375.23 276.05 L380.5 275.75 L385.77 275.45 L391.05 275.05 L396.32 274.45 L401.6 273.95 L406.88 273.25 L412.15 271.35 L417.43 268.65 L422.7 264.65 L427.98 259.25 L433.25 251.35 L438.52 241.25 L443.8 229.25 L449.07 212.25 L454.35 195.75 L459.62 186.25 L464.9 181.65 L470.18 178.65 L475.45 177.25 L480.73 176.25 L486 176.25 L491.27 176.25" fill="none" stroke="#000" stroke-width="0.5"/><path d="M369.95 275.95 L375.23 275.65 L380.5 275.25 L385.77 274.75 L391.05 273.55 L396.32 272.25 L401.6 270.25 L406.88 267.25 L412.15 262.25 L417.43 254.25 L422.7 243.25 L427.98 229.55 L433.25 213.25 L438.52 197.25 L443.8 186.25 L449.07 180.25 L454.35 177.25 L459.62 176.25 L464.9 176.25 L470.18 176.25 L475.45 176.25 L480.73 176.25" fill="none" stroke="#000" stroke-width="0.5"/><path d="M369.95 275.75 L375.23 275.25 L380.5 274.75 L385.77 273.75 L391.05 272.25 L396.32 270.25 L401.6 267.25 L406.88 262.85 L412.15 256.85 L417.43 247.75 L422.7 234.25 L427.98 218.25 L433.25 202.75 L438.52 191.25 L443.8 182.55 L449.07 178.05 L454.35 176.25 L459.62 176.25 L464.9 176.25 L470.18 176.25 L475.45 176.25" fill="none" stroke="#000" stroke-width="0.5"/><circle cx="369.95" cy="276.25" r="2" fill="#000"/><circle cx="375.23" cy="276.05" r="2" fill="#000"/><circle cx="380.5" cy="275.85" r="2" fill="#000"/><circle cx="385.77" cy="275.65" r="2" fill="#000"/><circle cx="391.05" cy="275.45" r="2" fill="#000"/><circle cx="396.32" cy="275.25" r="2" fill="#000"/><circle cx="401.6" cy="275.05" r="2" fill="#000"/><circle cx="406.88" cy="274.75" r="2" fill="#000"/><circle cx="412.15" cy="274.05" r="2" fill="#000"/><circle cx="417.43" cy="273.25" r="2" fill="#000"/><circle cx="422.7" cy="271.85" r="2" fill="#000"/><circle cx="427.98" cy="270.15" r="2" fill="#000"/><circle cx="433.25" cy="268.65" r="2" fill="#000"/><circle cx="438.52" cy="264.65" r="2" fill="#000"/><circle cx="443.8" cy="259.25" r="2" fill="#000"/><circle cx="449.07" cy="251.95" r="2" fill="#000"/><circle cx="454.35" cy="242.75" r="2" fill="#000"/><circle cx="459.62" cy="228.75" r="2" fill="#000"/><circle cx="464.9" cy="213.45" r="2" fill="#000"/><circle cx="470.18" cy="193.65" r="2" fill="#000"/><circle cx="475.45" cy="184.85" r="2" fill="#000"/><circle cx="480.73" cy="179.55" r="2" fill="#000"/><circle cx="486" cy="177.25" r="2" fill="#000"/><circle cx="491.27" cy="176.25" r="2" fill="#000"/><circle cx="496.55" cy="176.25" r="2" fill="#000"/><circle cx="501.82" cy="176.25" r="2" fill="#000"/><circle cx="507.1" cy="176.25" r="2" fill="#000"/><path d="M369.95 278.35L372.25 274.32L367.65 274.32Z" fill="#fff" stroke="#000" stroke-width="0.55"/><path d="M375.23 278.15L377.53 274.12L372.93 274.12Z" fill="#fff" stroke="#000" stroke-width="0.55"/><path d="M380.5 277.75L382.8 273.72L378.2 273.72Z" fill="#fff" stroke="#000" stroke-width="0.55"/><path d="M385.77 277.35L388.07 273.32L383.47 273.32Z" fill="#fff" stroke="#000" stroke-width="0.55"/><path d="M391.05 276.55L393.35 272.52L388.75 272.52Z" fill="#fff" stroke="#000" stroke-width="0.55"/><path d="M396.32 275.55L398.62 271.52L394.02 271.52Z" fill="#fff" stroke="#000" stroke-width="0.55"/><path d="M401.6 274.05L403.9 270.02L399.3 270.02Z" fill="#fff" stroke="#000" stroke-width="0.55"/><path d="M406.88 271.55L409.18 267.52L404.57 267.52Z" fill="#fff" stroke="#000" stroke-width="0.55"/><path d="M412.15 267.55L414.45 263.52L409.85 263.52Z" fill="#fff" stroke="#000" stroke-width="0.55"/><path d="M417.43 262.55L419.73 258.52L415.12 258.52Z" fill="#fff" stroke="#000" stroke-width="0.55"/><path d="M422.7 253.55L425 249.53L420.4 249.53Z" fill="#fff" stroke="#000" stroke-width="0.55"/><path d="M427.98 241.55L430.28 237.53L425.68 237.53Z" fill="#fff" stroke="#000" stroke-width="0.55"/><path d="M433.25 227.55L435.55 223.53L430.95 223.53Z" fill="#fff" stroke="#000" stroke-width="0.55"/><path d="M438.52 210.55L440.82 206.53L436.22 206.53Z" fill="#fff" stroke="#000" stroke-width="0.55"/><path d="M443.8 196.55L446.1 192.53L441.5 192.53Z" fill="#fff" stroke="#000" stroke-width="0.55"/><path d="M449.07 186.55L451.38 182.53L446.77 182.53Z" fill="#fff" stroke="#000" stroke-width="0.55"/><path d="M454.35 181.55L456.65 177.53L452.05 177.53Z" fill="#fff" stroke="#000" stroke-width="0.55"/><path d="M459.62 179.05L461.93 175.03L457.32 175.03Z" fill="#fff" stroke="#000" stroke-width="0.55"/><path d="M464.9 178.55L467.2 174.53L462.6 174.53Z" fill="#fff" stroke="#000" stroke-width="0.55"/><path d="M470.18 178.55L472.48 174.53L467.88 174.53Z" fill="#fff" stroke="#000" stroke-width="0.55"/><path d="M475.45 178.55L477.75 174.53L473.15 174.53Z" fill="#fff" stroke="#000" stroke-width="0.55"/><path d="M480.73 178.55L483.03 174.53L478.43 174.53Z" fill="#fff" stroke="#000" stroke-width="0.55"/><rect x="368.15" y="274.45" width="3.6" height="3.6" fill="#000"/><rect x="373.43" y="274.25" width="3.6" height="3.6" fill="#000"/><rect x="378.7" y="273.95" width="3.6" height="3.6" fill="#000"/><rect x="383.97" y="273.65" width="3.6" height="3.6" fill="#000"/><rect x="389.25" y="273.25" width="3.6" height="3.6" fill="#000"/><rect x="394.52" y="272.65" width="3.6" height="3.6" fill="#000"/><rect x="399.8" y="272.15" width="3.6" height="3.6" fill="#000"/><rect x="405.07" y="271.45" width="3.6" height="3.6" fill="#000"/><rect x="410.35" y="269.55" width="3.6" height="3.6" fill="#000"/><rect x="415.62" y="266.85" width="3.6" height="3.6" fill="#000"/><rect x="420.9" y="262.85" width="3.6" height="3.6" fill="#000"/><rect x="426.18" y="257.45" width="3.6" height="3.6" fill="#000"/><rect x="431.45" y="249.55" width="3.6" height="3.6" fill="#000"/><rect x="436.72" y="239.45" width="3.6" height="3.6" fill="#000"/><rect x="442" y="227.45" width="3.6" height="3.6" fill="#000"/><rect x="447.27" y="210.45" width="3.6" height="3.6" fill="#000"/><rect x="452.55" y="193.95" width="3.6" height="3.6" fill="#000"/><rect x="457.82" y="184.45" width="3.6" height="3.6" fill="#000"/><rect x="463.1" y="179.85" width="3.6" height="3.6" fill="#000"/><rect x="468.38" y="176.85" width="3.6" height="3.6" fill="#000"/><rect x="473.65" y="175.45" width="3.6" height="3.6" fill="#000"/><rect x="478.93" y="174.45" width="3.6" height="3.6" fill="#000"/><rect x="484.2" y="174.45" width="3.6" height="3.6" fill="#000"/><rect x="489.47" y="174.45" width="3.6" height="3.6" fill="#000"/><path d="M369.95 273.65L372.25 275.95L369.95 278.25L367.65 275.95Z" fill="#fff" stroke="#000" stroke-width="0.55"/><path d="M375.23 273.35L377.53 275.65L375.23 277.95L372.93 275.65Z" fill="#fff" stroke="#000" stroke-width="0.55"/><path d="M380.5 272.95L382.8 275.25L380.5 277.55L378.2 275.25Z" fill="#fff" stroke="#000" stroke-width="0.55"/><path d="M385.77 272.45L388.07 274.75L385.77 277.05L383.47 274.75Z" fill="#fff" stroke="#000" stroke-width="0.55"/><path d="M391.05 271.25L393.35 273.55L391.05 275.85L388.75 273.55Z" fill="#fff" stroke="#000" stroke-width="0.55"/><path d="M396.32 269.95L398.62 272.25L396.32 274.55L394.02 272.25Z" fill="#fff" stroke="#000" stroke-width="0.55"/><path d="M401.6 267.95L403.9 270.25L401.6 272.55L399.3 270.25Z" fill="#fff" stroke="#000" stroke-width="0.55"/><path d="M406.88 264.95L409.18 267.25L406.88 269.55L404.57 267.25Z" fill="#fff" stroke="#000" stroke-width="0.55"/><path d="M412.15 259.95L414.45 262.25L412.15 264.55L409.85 262.25Z" fill="#fff" stroke="#000" stroke-width="0.55"/><path d="M417.43 251.95L419.73 254.25L417.43 256.55L415.12 254.25Z" fill="#fff" stroke="#000" stroke-width="0.55"/><path d="M422.7 240.95L425 243.25L422.7 245.55L420.4 243.25Z" fill="#fff" stroke="#000" stroke-width="0.55"/><path d="M427.98 227.25L430.28 229.55L427.98 231.85L425.68 229.55Z" fill="#fff" stroke="#000" stroke-width="0.55"/><path d="M433.25 210.95L435.55 213.25L433.25 215.55L430.95 213.25Z" fill="#fff" stroke="#000" stroke-width="0.55"/><path d="M438.52 194.95L440.82 197.25L438.52 199.55L436.22 197.25Z" fill="#fff" stroke="#000" stroke-width="0.55"/><path d="M443.8 183.95L446.1 186.25L443.8 188.55L441.5 186.25Z" fill="#fff" stroke="#000" stroke-width="0.55"/><path d="M449.07 177.95L451.38 180.25L449.07 182.55L446.77 180.25Z" fill="#fff" stroke="#000" stroke-width="0.55"/><path d="M454.35 174.95L456.65 177.25L454.35 179.55L452.05 177.25Z" fill="#fff" stroke="#000" stroke-width="0.55"/><path d="M459.62 173.95L461.93 176.25L459.62 178.55L457.32 176.25Z" fill="#fff" stroke="#000" stroke-width="0.55"/><path d="M464.9 173.95L467.2 176.25L464.9 178.55L462.6 176.25Z" fill="#fff" stroke="#000" stroke-width="0.55"/><path d="M470.18 173.95L472.48 176.25L470.18 178.55L467.88 176.25Z" fill="#fff" stroke="#000" stroke-width="0.55"/><path d="M475.45 173.95L477.75 176.25L475.45 178.55L473.15 176.25Z" fill="#fff" stroke="#000" stroke-width="0.55"/><path d="M480.73 173.95L483.03 176.25L480.73 178.55L478.43 176.25Z" fill="#fff" stroke="#000" stroke-width="0.55"/><path d="M369.95 273.45L372.25 277.48L367.65 277.48Z" fill="#000"/><path d="M375.23 272.95L377.53 276.98L372.93 276.98Z" fill="#000"/><path d="M380.5 272.45L382.8 276.48L378.2 276.48Z" fill="#000"/><path d="M385.77 271.45L388.07 275.48L383.47 275.48Z" fill="#000"/><path d="M391.05 269.95L393.35 273.98L388.75 273.98Z" fill="#000"/><path d="M396.32 267.95L398.62 271.98L394.02 271.98Z" fill="#000"/><path d="M401.6 264.95L403.9 268.98L399.3 268.98Z" fill="#000"/><path d="M406.88 260.55L409.18 264.58L404.57 264.58Z" fill="#000"/><path d="M412.15 254.55L414.45 258.58L409.85 258.58Z" fill="#000"/><path d="M417.43 245.45L419.73 249.47L415.12 249.47Z" fill="#000"/><path d="M422.7 231.95L425 235.97L420.4 235.97Z" fill="#000"/><path d="M427.98 215.95L430.28 219.97L425.68 219.97Z" fill="#000"/><path d="M433.25 200.45L435.55 204.47L430.95 204.47Z" fill="#000"/><path d="M438.52 188.95L440.82 192.97L436.22 192.97Z" fill="#000"/><path d="M443.8 180.25L446.1 184.28L441.5 184.28Z" fill="#000"/><path d="M449.07 175.75L451.38 179.78L446.77 179.78Z" fill="#000"/><path d="M454.35 173.95L456.65 177.97L452.05 177.97Z" fill="#000"/><path d="M459.62 173.95L461.93 177.97L457.32 177.97Z" fill="#000"/><path d="M464.9 173.95L467.2 177.97L462.6 177.97Z" fill="#000"/><path d="M470.18 173.95L472.48 177.97L467.88 177.97Z" fill="#000"/><path d="M475.45 173.95L477.75 177.97L473.15 177.97Z" fill="#000"/><line x1="368.5" y1="175" x2="378.5" y2="175" stroke="#000" stroke-width="0.55"/><circle cx="373.5" cy="175" r="2" fill="#000"/><text x="382.5" y="176.7" font-size="5" fill="#000" stroke="#000" stroke-width="0.18">Ni/ZnAl<tspan font-size="3.9" dy="1.2">2</tspan><tspan dy="-1.2">O<tspan font-size="3.9" dy="1.2">4</tspan><tspan dy="-1.2"> (DP)</tspan></tspan></text><line x1="368.5" y1="183.5" x2="378.5" y2="183.5" stroke="#000" stroke-width="0.55"/><path d="M373.5 185.8L375.8 181.78L371.2 181.78Z" fill="#fff" stroke="#000" stroke-width="0.55"/><text x="382.5" y="185.2" font-size="5" fill="#000" stroke="#000" stroke-width="0.18">Ni/MgAl<tspan font-size="3.9" dy="1.2">2</tspan><tspan dy="-1.2">O<tspan font-size="3.9" dy="1.2">4</tspan><tspan dy="-1.2"> (DP)</tspan></tspan></text><line x1="368.5" y1="192" x2="378.5" y2="192" stroke="#000" stroke-width="0.55"/><rect x="371.7" y="190.2" width="3.6" height="3.6" fill="#000"/><text x="382.5" y="193.7" font-size="5" fill="#000" stroke="#000" stroke-width="0.18">Ni/Al@ZnAl<tspan font-size="3.9" dy="1.2">2</tspan><tspan dy="-1.2">O<tspan font-size="3.9" dy="1.2">4</tspan><tspan dy="-1.2"> (DP)</tspan></tspan></text><line x1="368.5" y1="200.5" x2="378.5" y2="200.5" stroke="#000" stroke-width="0.55"/><path d="M373.5 198.2L375.8 200.5L373.5 202.8L371.2 200.5Z" fill="#fff" stroke="#000" stroke-width="0.55"/><text x="382.5" y="202.2" font-size="5" fill="#000" stroke="#000" stroke-width="0.18">Ni/Al@MgAl<tspan font-size="3.9" dy="1.2">2</tspan><tspan dy="-1.2">O<tspan font-size="3.9" dy="1.2">4</tspan><tspan dy="-1.2"> (DP)</tspan></tspan></text><line x1="368.5" y1="209" x2="378.5" y2="209" stroke="#000" stroke-width="0.55"/><path d="M373.5 206.7L375.8 210.72L371.2 210.72Z" fill="#000"/><text x="382.5" y="210.7" font-size="5" fill="#000" stroke="#000" stroke-width="0.18">Ni/Al@MnAl<tspan font-size="3.9" dy="1.2">2</tspan><tspan dy="-1.2">O<tspan font-size="3.9" dy="1.2">4</tspan><tspan dy="-1.2"> (DP)</tspan></tspan></text><text transform="translate(342 226) rotate(-90)" text-anchor="middle" font-size="8.8" font-weight="bold">CO<tspan font-size="5.8" dy="1.8">2</tspan><tspan dy="-1.8"> Conversion (%)</tspan></text><text x="401.8" y="309.6" font-size="8.75" font-weight="bold">Reaction Temperature (°C)</text></g><g style="font-family:'Liberation Serif','Times New Roman',serif" font-size="12"><text x="75" y="327" text-anchor="middle">(<tspan font-weight="bold">a</tspan>)</text><text x="244.5" y="327" text-anchor="middle">(<tspan font-weight="bold">b</tspan>)</text><text x="444" y="327" text-anchor="middle">(<tspan font-weight="bold">c</tspan>)</text></g>
</svg>
</body></html>
